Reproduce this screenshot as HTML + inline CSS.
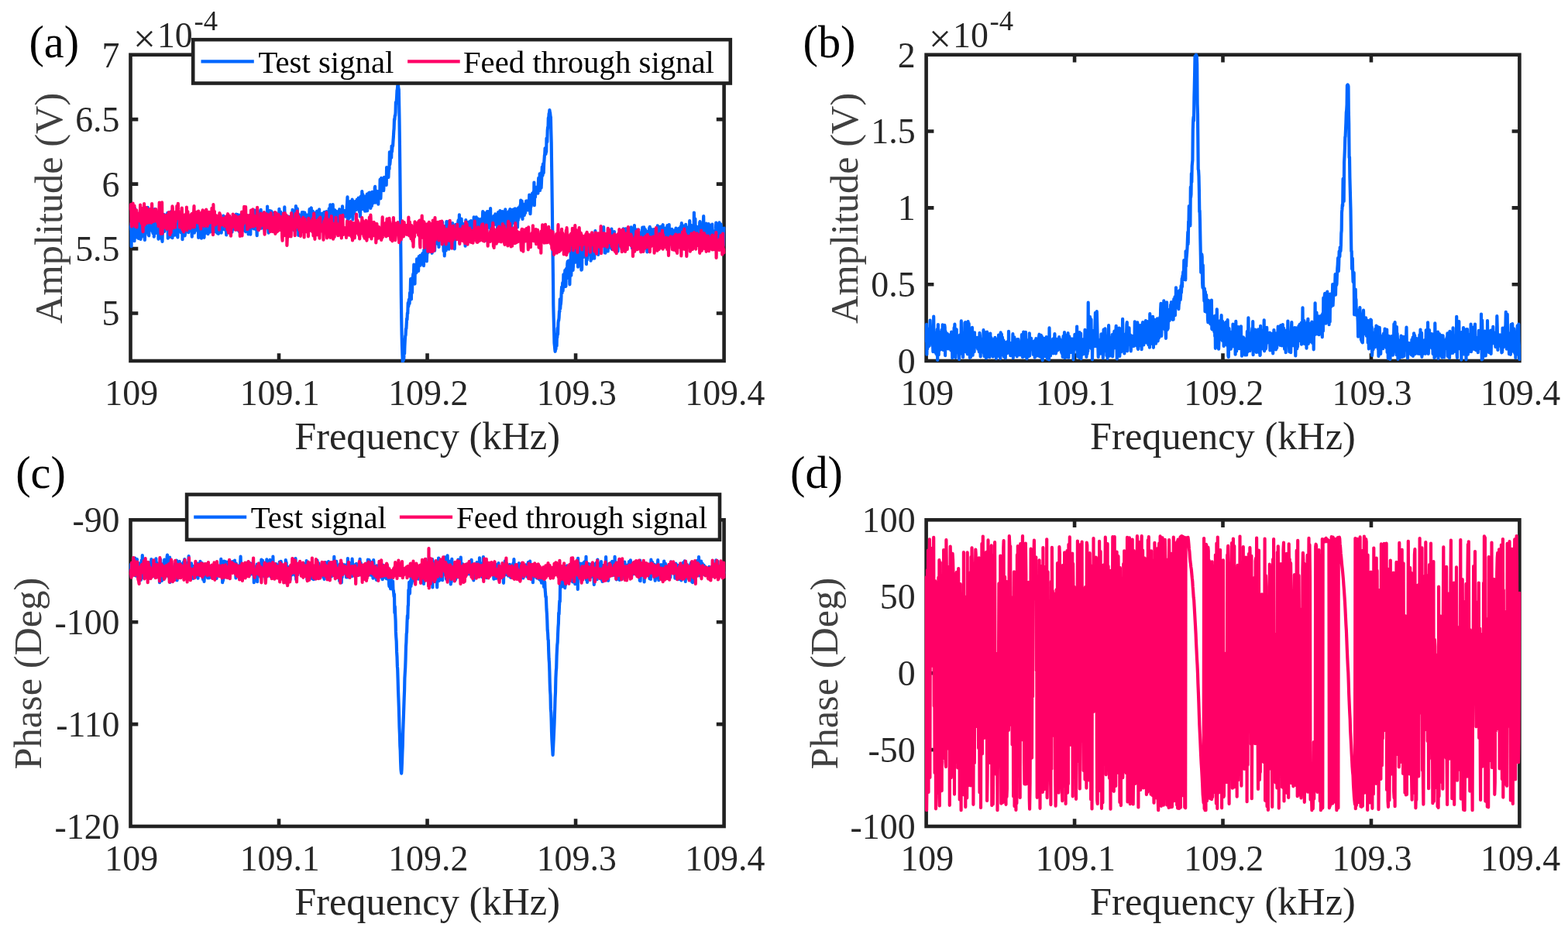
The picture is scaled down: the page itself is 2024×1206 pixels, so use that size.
<!DOCTYPE html>
<html lang="en"><head><meta charset="utf-8"><title>Frequency response: amplitude and phase</title>
<style>
html,body{margin:0;padding:0;background:#fff;}
body{width:2024px;height:1206px;overflow:hidden;font-family:"Liberation Serif","Times New Roman",serif;}
svg{display:block;}
</style></head>
<body>
<svg width="2024" height="1206" viewBox="0 0 2024 1206" font-family="'Liberation Serif','Times New Roman',serif">
<rect width="2024" height="1206" fill="#fff"/>
<defs>
<clipPath id="cpa"><rect x="166.40" y="68.60" width="770.30" height="399.50"/></clipPath>
<clipPath id="cpb"><rect x="1193.50" y="68.60" width="770.00" height="399.50"/></clipPath>
<clipPath id="cpc"><rect x="166.40" y="669.20" width="770.30" height="399.90"/></clipPath>
<clipPath id="cpd"><rect x="1193.50" y="669.20" width="770.00" height="399.90"/></clipPath>
</defs>
<g stroke="#212121" stroke-width="4.6" fill="none" stroke-linecap="butt">
<rect x="168.5" y="70.7" width="766.10" height="395.30"/>
<path d="M360.02,466.0v-9.8M360.02,70.7v9.8M551.55,466.0v-9.8M551.55,70.7v9.8M743.07,466.0v-9.8M743.07,70.7v9.8M168.5,404.57h9.8M934.6,404.57h-9.8M168.5,321.10h9.8M934.6,321.10h-9.8M168.5,237.63h9.8M934.6,237.63h-9.8M168.5,154.17h9.8M934.6,154.17h-9.8"/>
</g>
<polyline clip-path="url(#cpa)" points="168.5,292.4 168.9,296.3 169.3,288.6 169.6,318.2 170.0,286.4 170.4,299.1 170.8,277.5 171.2,310.5 171.6,290.6 171.9,301.6 172.3,302.7 172.7,295.0 173.1,293.7 173.5,311.1 173.9,298.9 174.2,269.0 174.6,297.8 175.0,280.5 175.4,306.5 175.8,293.1 176.2,273.2 176.5,287.9 176.9,301.8 177.3,306.7 177.7,289.4 178.1,296.3 178.5,295.6 178.8,308.0 179.2,281.7 179.6,306.1 180.0,294.2 180.4,293.1 180.8,282.8 181.1,297.1 181.5,309.0 181.9,291.6 182.3,296.1 182.7,306.0 183.1,299.0 183.4,291.6 183.8,286.8 184.2,284.1 184.6,282.2 185.0,285.6 185.4,299.7 185.7,292.6 186.1,295.3 186.5,300.9 186.9,309.9 187.3,295.6 187.7,286.4 188.0,300.1 188.4,286.3 188.8,296.7 189.2,290.5 189.6,293.4 190.0,282.3 190.3,296.1 190.7,267.8 191.1,288.9 191.5,303.3 191.9,294.6 192.2,304.3 192.6,294.1 193.0,297.9 193.4,278.2 193.8,281.6 194.2,285.6 194.5,295.8 194.9,290.1 195.3,293.9 195.7,272.2 196.1,287.4 196.5,289.0 196.8,299.3 197.2,299.3 197.6,301.2 198.0,291.8 198.4,280.9 198.8,305.7 199.1,301.1 199.5,298.9 199.9,269.8 200.3,282.7 200.7,283.7 201.1,294.4 201.4,300.8 201.8,279.8 202.2,299.9 202.6,290.4 203.0,287.9 203.4,294.4 203.7,278.5 204.1,287.4 204.5,308.6 204.9,285.9 205.3,305.0 205.7,304.3 206.0,290.8 206.4,280.9 206.8,288.5 207.2,293.1 207.6,292.7 208.0,292.6 208.3,293.6 208.7,309.1 209.1,282.9 209.5,311.9 209.9,295.0 210.3,280.1 210.6,286.4 211.0,298.1 211.4,276.8 211.8,280.0 212.2,298.9 212.6,292.6 212.9,292.3 213.3,293.9 213.7,292.4 214.1,290.7 214.5,279.6 214.8,290.9 215.2,276.9 215.6,295.8 216.0,293.6 216.4,274.9 216.8,307.6 217.1,297.1 217.5,296.4 217.9,288.6 218.3,287.5 218.7,301.9 219.1,289.3 219.4,303.6 219.8,306.0 220.2,288.6 220.6,273.4 221.0,286.4 221.4,296.8 221.7,296.5 222.1,290.7 222.5,307.1 222.9,294.3 223.3,298.0 223.7,290.0 224.0,287.9 224.4,303.7 224.8,280.3 225.2,299.0 225.6,303.6 226.0,289.2 226.3,289.7 226.7,292.7 227.1,287.4 227.5,285.4 227.9,286.0 228.3,288.4 228.6,294.9 229.0,303.8 229.4,306.5 229.8,285.9 230.2,293.0 230.6,283.6 230.9,289.7 231.3,296.2 231.7,295.4 232.1,288.1 232.5,292.9 232.9,290.9 233.2,281.3 233.6,300.3 234.0,289.7 234.4,288.7 234.8,291.5 235.2,288.0 235.5,309.2 235.9,286.7 236.3,291.3 236.7,289.3 237.1,278.7 237.4,292.7 237.8,291.1 238.2,294.2 238.6,304.4 239.0,301.7 239.4,298.7 239.7,292.0 240.1,292.0 240.5,289.3 240.9,286.7 241.3,285.0 241.7,293.4 242.0,284.6 242.4,295.2 242.8,292.9 243.2,300.1 243.6,279.1 244.0,286.9 244.3,282.5 244.7,295.0 245.1,287.8 245.5,296.5 245.9,297.5 246.3,288.8 246.6,295.1 247.0,284.0 247.4,297.1 247.8,305.7 248.2,287.8 248.6,287.6 248.9,297.9 249.3,278.9 249.7,285.9 250.1,278.4 250.5,288.5 250.9,300.6 251.2,287.6 251.6,291.7 252.0,290.0 252.4,287.6 252.8,290.8 253.2,292.9 253.5,297.3 253.9,281.3 254.3,281.1 254.7,289.8 255.1,290.5 255.5,291.4 255.8,291.3 256.2,306.9 256.6,293.9 257.0,281.2 257.4,288.3 257.8,281.9 258.1,293.5 258.5,304.3 258.9,286.2 259.3,281.0 259.7,286.1 260.0,307.7 260.4,292.8 260.8,285.2 261.2,300.6 261.6,293.4 262.0,296.8 262.3,279.7 262.7,299.9 263.1,287.3 263.5,306.8 263.9,293.1 264.3,280.0 264.6,301.6 265.0,281.7 265.4,283.4 265.8,286.7 266.2,279.5 266.6,289.6 266.9,287.0 267.3,298.8 267.7,295.2 268.1,286.7 268.5,302.1 268.9,287.0 269.2,279.9 269.6,295.3 270.0,296.1 270.4,287.0 270.8,285.0 271.2,299.7 271.5,292.3 271.9,286.9 272.3,290.0 272.7,286.5 273.1,288.4 273.5,287.5 273.8,291.6 274.2,279.8 274.6,291.8 275.0,287.5 275.4,292.7 275.8,288.5 276.1,297.8 276.5,289.5 276.9,281.7 277.3,292.1 277.7,294.0 278.1,297.5 278.4,299.3 278.8,295.5 279.2,294.7 279.6,287.8 280.0,289.1 280.4,301.0 280.7,280.7 281.1,295.3 281.5,286.7 281.9,302.0 282.3,300.6 282.6,283.0 283.0,286.6 283.4,289.5 283.8,281.6 284.2,284.4 284.6,296.6 284.9,299.2 285.3,284.4 285.7,300.6 286.1,282.2 286.5,288.2 286.9,292.3 287.2,286.8 287.6,289.8 288.0,290.2 288.4,278.5 288.8,286.3 289.2,286.7 289.5,296.4 289.9,283.3 290.3,284.7 290.7,293.7 291.1,293.2 291.5,281.4 291.8,290.1 292.2,303.4 292.6,279.4 293.0,293.3 293.4,285.3 293.8,282.6 294.1,283.7 294.5,291.2 294.9,294.5 295.3,279.7 295.7,299.6 296.1,284.4 296.4,285.2 296.8,288.5 297.2,294.8 297.6,281.2 298.0,285.9 298.4,291.0 298.7,286.8 299.1,297.2 299.5,299.7 299.9,288.8 300.3,290.1 300.7,284.0 301.0,285.0 301.4,296.2 301.8,285.3 302.2,288.5 302.6,293.5 303.0,285.0 303.3,287.1 303.7,289.0 304.1,295.1 304.5,291.5 304.9,276.7 305.2,291.2 305.6,295.3 306.0,291.5 306.4,289.6 306.8,277.0 307.2,297.5 307.5,293.1 307.9,278.9 308.3,284.7 308.7,292.6 309.1,299.5 309.5,294.5 309.8,278.6 310.2,277.7 310.6,291.1 311.0,282.8 311.4,287.7 311.8,282.4 312.1,291.9 312.5,284.6 312.9,290.4 313.3,287.1 313.7,290.0 314.1,280.9 314.4,274.7 314.8,297.3 315.2,283.9 315.6,286.7 316.0,293.9 316.4,278.4 316.7,298.6 317.1,299.3 317.5,283.3 317.9,294.3 318.3,291.1 318.7,282.1 319.0,289.4 319.4,299.0 319.8,292.9 320.2,288.7 320.6,302.4 321.0,296.2 321.3,280.1 321.7,288.4 322.1,278.0 322.5,286.8 322.9,284.5 323.3,302.7 323.6,284.8 324.0,293.4 324.4,294.3 324.8,279.1 325.2,278.3 325.6,286.2 325.9,287.1 326.3,280.4 326.7,293.4 327.1,271.2 327.5,295.4 327.8,288.4 328.2,295.4 328.6,285.9 329.0,271.6 329.4,283.0 329.8,283.3 330.1,274.8 330.5,296.5 330.9,286.4 331.3,293.1 331.7,304.1 332.1,280.3 332.4,271.0 332.8,283.6 333.2,297.0 333.6,276.6 334.0,294.0 334.4,281.3 334.7,282.4 335.1,287.7 335.5,279.4 335.9,287.2 336.3,283.5 336.7,270.8 337.0,294.8 337.4,281.4 337.8,292.1 338.2,287.9 338.6,290.3 339.0,276.2 339.3,294.4 339.7,281.3 340.1,281.7 340.5,282.6 340.9,293.5 341.3,280.9 341.6,288.0 342.0,277.8 342.4,282.2 342.8,281.1 343.2,289.6 343.6,285.4 343.9,278.4 344.3,286.7 344.7,294.7 345.1,266.5 345.5,293.8 345.9,287.1 346.2,295.2 346.6,300.7 347.0,292.9 347.4,281.9 347.8,275.3 348.2,272.0 348.5,282.3 348.9,273.6 349.3,297.0 349.7,292.4 350.1,272.6 350.4,279.8 350.8,289.0 351.2,289.9 351.6,282.3 352.0,280.9 352.4,274.9 352.7,286.0 353.1,282.6 353.5,286.0 353.9,279.2 354.3,279.7 354.7,289.9 355.0,279.0 355.4,300.5 355.8,284.8 356.2,289.7 356.6,297.5 357.0,293.2 357.3,293.8 357.7,288.7 358.1,284.4 358.5,290.6 358.9,283.1 359.3,277.2 359.6,291.6 360.0,294.3 360.4,269.8 360.8,284.8 361.2,289.2 361.6,289.9 361.9,283.2 362.3,273.7 362.7,278.1 363.1,282.3 363.5,286.3 363.9,291.3 364.2,292.7 364.6,281.2 365.0,287.3 365.4,282.2 365.8,277.9 366.2,275.3 366.5,288.1 366.9,295.6 367.3,267.3 367.7,293.5 368.1,284.9 368.5,286.5 368.8,277.6 369.2,278.2 369.6,278.6 370.0,287.0 370.4,279.0 370.8,279.6 371.1,288.8 371.5,281.9 371.9,283.4 372.3,279.6 372.7,291.2 373.0,290.8 373.4,281.3 373.8,292.8 374.2,286.7 374.6,290.2 375.0,289.8 375.3,290.7 375.7,281.8 376.1,284.7 376.5,278.1 376.9,283.8 377.3,283.1 377.6,270.8 378.0,273.9 378.4,286.3 378.8,283.9 379.2,276.3 379.6,297.4 379.9,285.7 380.3,286.9 380.7,293.1 381.1,285.0 381.5,296.9 381.9,266.1 382.2,284.7 382.6,284.0 383.0,294.8 383.4,282.7 383.8,269.4 384.2,285.7 384.5,277.1 384.9,276.0 385.3,304.0 385.7,286.9 386.1,285.9 386.5,289.1 386.8,294.2 387.2,289.3 387.6,296.3 388.0,281.3 388.4,279.7 388.8,277.2 389.1,285.8 389.5,289.7 389.9,274.2 390.3,284.7 390.7,280.9 391.1,275.5 391.4,289.9 391.8,274.1 392.2,275.4 392.6,281.9 393.0,284.3 393.4,274.7 393.7,289.1 394.1,289.7 394.5,277.0 394.9,289.8 395.3,283.5 395.6,287.3 396.0,285.4 396.4,277.5 396.8,279.4 397.2,285.3 397.6,284.3 397.9,282.7 398.3,282.3 398.7,284.4 399.1,284.9 399.5,270.2 399.9,283.0 400.2,281.5 400.6,293.1 401.0,287.3 401.4,269.0 401.8,268.4 402.2,283.6 402.5,293.1 402.9,275.2 403.3,288.2 403.7,272.5 404.1,283.0 404.5,285.5 404.8,283.3 405.2,274.4 405.6,284.0 406.0,280.7 406.4,291.3 406.8,282.6 407.1,283.7 407.5,281.0 407.9,284.1 408.3,281.3 408.7,284.1 409.1,272.7 409.4,283.3 409.8,273.5 410.2,279.6 410.6,286.8 411.0,291.5 411.4,276.4 411.7,281.2 412.1,270.3 412.5,283.7 412.9,275.8 413.3,287.7 413.7,283.3 414.0,285.8 414.4,282.3 414.8,280.2 415.2,284.4 415.6,280.4 416.0,275.6 416.3,289.2 416.7,280.6 417.1,284.8 417.5,284.7 417.9,275.5 418.2,279.5 418.6,273.9 419.0,281.6 419.4,279.6 419.8,284.3 420.2,277.4 420.5,280.1 420.9,282.1 421.3,273.1 421.7,290.6 422.1,286.8 422.5,287.9 422.8,279.2 423.2,280.0 423.6,277.7 424.0,279.9 424.4,278.8 424.8,269.3 425.1,280.0 425.5,279.7 425.9,283.7 426.3,264.4 426.7,285.9 427.1,278.2 427.4,283.2 427.8,289.6 428.2,282.7 428.6,286.8 429.0,284.2 429.4,277.0 429.7,264.2 430.1,276.4 430.5,270.5 430.9,274.4 431.3,288.1 431.7,273.6 432.0,277.4 432.4,271.4 432.8,275.5 433.2,280.6 433.6,283.5 434.0,278.0 434.3,272.9 434.7,276.6 435.1,273.8 435.5,274.1 435.9,285.1 436.3,281.2 436.6,289.9 437.0,279.4 437.4,284.3 437.8,274.0 438.2,270.2 438.6,280.7 438.9,278.6 439.3,272.6 439.7,281.4 440.1,271.1 440.5,293.9 440.8,280.3 441.2,274.9 441.6,288.5 442.0,266.4 442.4,279.3 442.8,276.3 443.1,276.2 443.5,275.7 443.9,277.8 444.3,274.6 444.7,272.1 445.1,272.9 445.4,276.1 445.8,279.6 446.2,279.5 446.6,279.1 447.0,275.1 447.4,273.9 447.7,267.6 448.1,261.9 448.5,254.4 448.9,284.9 449.3,270.6 449.7,263.5 450.0,275.1 450.4,267.9 450.8,281.8 451.2,269.7 451.6,274.3 452.0,260.0 452.3,279.4 452.7,260.8 453.1,269.1 453.5,278.1 453.9,278.5 454.3,269.7 454.6,257.7 455.0,258.7 455.4,283.4 455.8,270.6 456.2,263.8 456.6,270.4 456.9,272.9 457.3,275.4 457.7,260.3 458.1,270.9 458.5,260.2 458.9,268.2 459.2,264.6 459.6,270.9 460.0,269.2 460.4,264.9 460.8,257.6 461.2,268.3 461.5,265.4 461.9,267.9 462.3,266.3 462.7,255.7 463.1,268.5 463.4,270.5 463.8,272.9 464.2,273.9 464.6,267.8 465.0,279.6 465.4,255.8 465.7,253.5 466.1,264.6 466.5,261.8 466.9,268.0 467.3,247.0 467.7,259.8 468.0,270.0 468.4,251.0 468.8,268.7 469.2,264.4 469.6,262.9 470.0,254.2 470.3,270.1 470.7,260.6 471.1,272.7 471.5,271.9 471.9,270.7 472.3,253.4 472.6,264.9 473.0,268.2 473.4,272.3 473.8,250.5 474.2,272.2 474.6,262.7 474.9,260.3 475.3,257.1 475.7,260.2 476.1,249.1 476.5,255.0 476.9,248.7 477.2,258.7 477.6,250.9 478.0,265.3 478.4,268.8 478.8,260.2 479.2,259.5 479.5,261.6 479.9,266.0 480.3,247.8 480.7,249.0 481.1,261.9 481.5,262.2 481.8,249.2 482.2,257.0 482.6,261.4 483.0,259.8 483.4,253.9 483.8,242.2 484.1,240.9 484.5,261.7 484.9,247.2 485.3,246.2 485.7,250.8 486.0,253.2 486.4,248.4 486.8,253.7 487.2,250.7 487.6,252.8 488.0,248.3 488.3,263.7 488.7,246.8 489.1,254.9 489.5,249.7 489.9,256.0 490.3,252.0 490.6,231.8 491.0,238.1 491.4,256.3 491.8,244.6 492.2,229.8 492.6,237.8 492.9,242.8 493.3,233.8 493.7,240.4 494.1,233.4 494.5,233.9 494.9,233.3 495.2,246.1 495.6,238.1 496.0,228.8 496.4,231.7 496.8,232.8 497.2,238.7 497.5,234.8 497.9,234.6 498.3,232.0 498.7,239.0 499.1,216.2 499.5,217.7 499.8,222.9 500.2,219.3 500.6,219.3 501.0,224.0 501.4,229.0 501.8,217.9 502.1,217.8 502.5,218.1 502.9,196.3 503.3,212.2 503.7,208.3 504.1,199.9 504.4,198.9 504.8,203.8 505.2,203.5 505.6,188.5 506.0,195.8 506.4,190.6 506.7,188.1 507.1,188.4 507.5,181.6 507.9,176.5 508.3,169.2 508.6,166.0 509.0,153.9 509.4,154.6 509.8,149.2 510.2,149.4 510.6,144.8 510.9,132.0 511.3,133.2 511.7,131.7 512.1,125.6 512.5,117.0 512.9,115.1 513.2,110.8 513.6,108.7 514.0,109.9 514.4,113.8 514.8,115.4 515.2,137.0 515.5,153.7 515.9,182.6 516.3,217.1 516.7,257.9 517.1,299.1 517.5,339.8 517.8,379.6 518.2,409.6 518.6,431.9 519.0,447.2 519.4,458.2 519.8,467.9 520.1,466.0 520.5,465.3 520.9,464.9 521.3,462.6 521.7,451.3 522.1,456.6 522.4,447.6 522.8,439.3 523.2,433.8 523.6,432.8 524.0,424.3 524.4,424.3 524.7,418.9 525.1,411.4 525.5,412.7 525.9,404.2 526.3,404.8 526.7,391.0 527.0,396.3 527.4,394.7 527.8,386.8 528.2,387.2 528.6,391.9 529.0,378.2 529.3,382.6 529.7,375.9 530.1,360.1 530.5,369.6 530.9,386.4 531.2,366.9 531.6,372.3 532.0,378.0 532.4,358.6 532.8,360.4 533.2,354.4 533.5,353.1 533.9,355.3 534.3,341.5 534.7,350.1 535.1,365.0 535.5,366.5 535.8,347.8 536.2,353.3 536.6,345.6 537.0,351.1 537.4,352.3 537.8,349.3 538.1,334.4 538.5,338.9 538.9,341.6 539.3,336.2 539.7,337.2 540.1,349.9 540.4,338.2 540.8,331.1 541.2,333.0 541.6,331.9 542.0,330.9 542.4,330.0 542.7,342.6 543.1,333.1 543.5,336.0 543.9,333.2 544.3,331.9 544.7,334.4 545.0,328.6 545.4,327.2 545.8,335.7 546.2,337.8 546.6,336.5 547.0,343.2 547.3,322.8 547.7,328.4 548.1,323.2 548.5,329.0 548.9,318.1 549.3,325.3 549.6,323.5 550.0,319.4 550.4,301.7 550.8,337.3 551.2,328.0 551.5,319.8 551.9,325.8 552.3,316.3 552.7,325.9 553.1,324.5 553.5,310.3 553.8,313.6 554.2,323.6 554.6,314.8 555.0,316.6 555.4,310.6 555.8,322.1 556.1,323.6 556.5,310.4 556.9,318.9 557.3,322.8 557.7,326.8 558.1,311.9 558.4,319.9 558.8,314.7 559.2,309.9 559.6,299.1 560.0,313.6 560.4,308.3 560.7,308.8 561.1,323.7 561.5,310.2 561.9,309.2 562.3,306.5 562.7,311.2 563.0,305.3 563.4,309.0 563.8,297.5 564.2,294.0 564.6,302.6 565.0,314.0 565.3,315.1 565.7,291.1 566.1,312.9 566.5,319.0 566.9,308.7 567.3,310.5 567.6,310.3 568.0,306.3 568.4,302.5 568.8,309.6 569.2,287.5 569.6,303.8 569.9,302.3 570.3,294.8 570.7,287.3 571.1,287.0 571.5,313.7 571.9,312.0 572.2,307.8 572.6,324.1 573.0,304.6 573.4,308.1 573.8,330.4 574.1,292.1 574.5,303.6 574.9,307.1 575.3,313.8 575.7,323.5 576.1,310.2 576.4,286.1 576.8,308.0 577.2,312.1 577.6,303.9 578.0,309.0 578.4,308.5 578.7,286.0 579.1,316.3 579.5,321.6 579.9,290.5 580.3,286.9 580.7,296.0 581.0,319.7 581.4,298.2 581.8,299.5 582.2,317.3 582.6,307.5 583.0,319.6 583.3,293.0 583.7,295.2 584.1,288.2 584.5,297.7 584.9,299.1 585.3,297.5 585.6,296.9 586.0,313.4 586.4,313.2 586.8,321.3 587.2,304.5 587.6,299.7 587.9,301.0 588.3,289.9 588.7,295.3 589.1,298.5 589.5,302.1 589.9,290.7 590.2,303.6 590.6,302.9 591.0,291.7 591.4,285.6 591.8,284.0 592.2,299.7 592.5,300.5 592.9,277.3 593.3,299.8 593.7,292.8 594.1,290.9 594.5,287.6 594.8,297.7 595.2,295.4 595.6,282.6 596.0,291.5 596.4,309.3 596.7,303.9 597.1,291.6 597.5,293.6 597.9,302.3 598.3,299.0 598.7,300.6 599.0,289.0 599.4,298.5 599.8,300.3 600.2,300.6 600.6,317.7 601.0,294.3 601.3,284.1 601.7,292.0 602.1,293.4 602.5,296.7 602.9,302.7 603.3,292.7 603.6,305.9 604.0,287.1 604.4,292.7 604.8,295.0 605.2,295.2 605.6,293.4 605.9,311.9 606.3,286.0 606.7,308.3 607.1,290.0 607.5,291.4 607.9,285.1 608.2,298.4 608.6,290.2 609.0,306.4 609.4,302.7 609.8,287.2 610.2,295.0 610.5,305.6 610.9,287.9 611.3,304.3 611.7,280.4 612.1,301.0 612.5,286.9 612.8,295.8 613.2,307.0 613.6,293.9 614.0,296.9 614.4,295.4 614.8,280.3 615.1,290.4 615.5,286.9 615.9,299.6 616.3,290.4 616.7,293.7 617.1,285.0 617.4,282.5 617.8,287.4 618.2,307.6 618.6,299.8 619.0,309.9 619.3,298.2 619.7,300.1 620.1,291.6 620.5,290.9 620.9,292.1 621.3,282.6 621.6,296.0 622.0,284.9 622.4,287.9 622.8,286.3 623.2,273.2 623.6,282.9 623.9,273.8 624.3,297.6 624.7,290.7 625.1,280.8 625.5,289.8 625.9,286.9 626.2,295.8 626.6,287.2 627.0,275.2 627.4,288.2 627.8,286.5 628.2,310.7 628.5,278.9 628.9,273.0 629.3,279.1 629.7,292.1 630.1,273.1 630.5,291.4 630.8,289.2 631.2,293.7 631.6,288.9 632.0,284.0 632.4,281.0 632.8,282.5 633.1,269.0 633.5,297.2 633.9,297.8 634.3,288.3 634.7,294.5 635.1,294.4 635.4,301.1 635.8,295.0 636.2,288.8 636.6,285.6 637.0,288.4 637.4,278.8 637.7,281.6 638.1,284.7 638.5,289.8 638.9,282.0 639.3,276.3 639.7,284.0 640.0,281.8 640.4,283.1 640.8,285.2 641.2,277.4 641.6,284.1 641.9,289.8 642.3,300.8 642.7,286.4 643.1,274.1 643.5,300.2 643.9,293.9 644.2,279.9 644.6,290.1 645.0,295.5 645.4,272.1 645.8,285.7 646.2,279.1 646.5,296.2 646.9,294.0 647.3,273.4 647.7,283.2 648.1,284.9 648.5,303.8 648.8,273.2 649.2,273.9 649.6,279.4 650.0,291.9 650.4,280.6 650.8,283.8 651.1,292.6 651.5,282.7 651.9,295.7 652.3,270.4 652.7,276.9 653.1,278.9 653.4,292.0 653.8,282.1 654.2,288.3 654.6,279.3 655.0,282.5 655.4,285.3 655.7,275.9 656.1,284.6 656.5,273.4 656.9,284.6 657.3,285.9 657.7,272.1 658.0,278.9 658.4,270.1 658.8,288.7 659.2,299.1 659.6,277.7 660.0,279.0 660.3,292.5 660.7,274.7 661.1,275.7 661.5,270.9 661.9,283.3 662.3,276.4 662.6,287.8 663.0,270.4 663.4,280.0 663.8,272.6 664.2,275.8 664.5,276.6 664.9,269.4 665.3,286.7 665.7,271.7 666.1,270.0 666.5,274.5 666.8,283.7 667.2,273.6 667.6,275.6 668.0,293.4 668.4,281.5 668.8,284.5 669.1,268.4 669.5,281.9 669.9,270.0 670.3,271.1 670.7,274.6 671.1,277.6 671.4,265.3 671.8,274.3 672.2,258.5 672.6,272.2 673.0,274.9 673.4,279.6 673.7,259.5 674.1,269.4 674.5,282.9 674.9,263.3 675.3,271.8 675.7,274.1 676.0,268.6 676.4,273.5 676.8,277.9 677.2,269.2 677.6,263.6 678.0,275.0 678.3,271.9 678.7,267.6 679.1,259.5 679.5,265.3 679.9,259.4 680.3,269.2 680.6,265.9 681.0,267.1 681.4,271.4 681.8,264.8 682.2,267.8 682.6,262.1 682.9,261.9 683.3,251.6 683.7,270.4 684.1,263.6 684.5,276.2 684.9,266.4 685.2,264.1 685.6,266.7 686.0,256.1 686.4,254.3 686.8,253.9 687.1,249.7 687.5,263.3 687.9,262.6 688.3,254.3 688.7,247.6 689.1,262.2 689.4,235.7 689.8,265.2 690.2,251.1 690.6,246.7 691.0,254.5 691.4,242.8 691.7,244.8 692.1,241.8 692.5,247.1 692.9,248.4 693.3,245.1 693.7,243.5 694.0,247.3 694.4,249.6 694.8,237.5 695.2,229.9 695.6,243.8 696.0,229.7 696.3,237.8 696.7,224.3 697.1,245.9 697.5,228.8 697.9,229.8 698.3,223.3 698.6,242.6 699.0,234.6 699.4,224.4 699.8,215.5 700.2,227.0 700.6,225.8 700.9,211.8 701.3,222.7 701.7,223.3 702.1,211.8 702.5,206.3 702.9,200.6 703.2,199.4 703.6,191.3 704.0,196.6 704.4,199.0 704.8,196.5 705.2,196.3 705.5,178.6 705.9,179.1 706.3,183.1 706.7,168.4 707.1,164.2 707.5,164.8 707.8,152.2 708.2,154.8 708.6,146.6 709.0,146.7 709.4,142.0 709.7,144.2 710.1,145.7 710.5,149.8 710.9,151.4 711.3,169.1 711.7,183.9 712.0,206.7 712.4,233.4 712.8,264.9 713.2,298.3 713.6,329.2 714.0,362.2 714.3,393.9 714.7,410.7 715.1,426.0 715.5,443.1 715.9,446.7 716.3,451.2 716.6,453.8 717.0,451.3 717.4,450.9 717.8,447.7 718.2,440.0 718.6,446.6 718.9,431.7 719.3,435.7 719.7,423.7 720.1,431.8 720.5,417.0 720.9,413.5 721.2,413.8 721.6,410.3 722.0,401.6 722.4,402.4 722.8,386.4 723.2,398.7 723.5,393.9 723.9,392.4 724.3,387.8 724.7,377.0 725.1,370.6 725.5,378.4 725.8,376.1 726.2,365.0 726.6,375.6 727.0,369.0 727.4,354.3 727.8,370.4 728.1,365.1 728.5,361.9 728.9,358.0 729.3,349.0 729.7,357.2 730.1,361.2 730.4,369.8 730.8,347.1 731.2,350.8 731.6,354.3 732.0,352.9 732.3,340.7 732.7,337.7 733.1,344.3 733.5,336.9 733.9,359.2 734.3,355.6 734.6,336.7 735.0,353.2 735.4,367.3 735.8,345.1 736.2,348.7 736.6,346.3 736.9,315.7 737.3,355.6 737.7,340.9 738.1,347.8 738.5,332.2 738.9,322.1 739.2,332.4 739.6,348.8 740.0,342.7 740.4,325.2 740.8,321.8 741.2,333.2 741.5,317.6 741.9,337.7 742.3,330.7 742.7,338.6 743.1,337.9 743.5,329.4 743.8,325.5 744.2,329.3 744.6,319.2 745.0,331.8 745.4,334.9 745.8,331.4 746.1,344.7 746.5,320.9 746.9,329.4 747.3,322.0 747.7,317.8 748.1,332.9 748.4,306.3 748.8,320.3 749.2,316.7 749.6,333.5 750.0,325.1 750.4,348.6 750.7,332.1 751.1,347.9 751.5,312.4 751.9,322.1 752.3,322.8 752.7,323.0 753.0,320.4 753.4,332.0 753.8,315.2 754.2,316.1 754.6,308.1 754.9,330.5 755.3,312.7 755.7,308.0 756.1,325.8 756.5,306.9 756.9,341.1 757.2,318.7 757.6,324.0 758.0,335.4 758.4,322.3 758.8,305.2 759.2,314.7 759.5,317.1 759.9,328.6 760.3,324.2 760.7,324.4 761.1,324.3 761.5,320.0 761.8,317.7 762.2,317.6 762.6,336.6 763.0,317.6 763.4,334.0 763.8,309.1 764.1,312.2 764.5,333.9 764.9,310.5 765.3,308.7 765.7,319.0 766.1,320.6 766.4,305.9 766.8,311.5 767.2,333.6 767.6,303.9 768.0,325.2 768.4,298.1 768.7,318.0 769.1,308.2 769.5,313.9 769.9,302.3 770.3,318.0 770.7,320.1 771.0,318.8 771.4,308.7 771.8,303.9 772.2,329.0 772.6,314.9 773.0,313.9 773.3,306.2 773.7,323.5 774.1,312.6 774.5,313.8 774.9,309.7 775.3,309.6 775.6,320.5 776.0,296.7 776.4,316.0 776.8,308.7 777.2,311.8 777.5,316.6 777.9,315.0 778.3,308.1 778.7,309.5 779.1,293.0 779.5,309.7 779.8,312.3 780.2,306.4 780.6,326.4 781.0,310.6 781.4,326.6 781.8,315.9 782.1,316.1 782.5,320.0 782.9,313.7 783.3,308.3 783.7,318.7 784.1,314.4 784.4,312.6 784.8,324.4 785.2,300.4 785.6,315.7 786.0,311.5 786.4,318.1 786.7,317.8 787.1,310.3 787.5,308.5 787.9,313.8 788.3,319.5 788.7,304.0 789.0,310.3 789.4,295.6 789.8,321.8 790.2,306.6 790.6,312.8 791.0,306.4 791.3,311.0 791.7,319.0 792.1,310.3 792.5,309.5 792.9,299.1 793.3,313.0 793.6,314.2 794.0,310.3 794.4,320.4 794.8,312.7 795.2,311.3 795.6,309.1 795.9,314.8 796.3,321.0 796.7,307.5 797.1,315.6 797.5,324.5 797.9,310.4 798.2,314.3 798.6,313.6 799.0,301.8 799.4,314.3 799.8,303.5 800.1,305.6 800.5,310.5 800.9,315.1 801.3,298.2 801.7,310.3 802.1,305.4 802.4,321.4 802.8,310.7 803.2,306.3 803.6,317.6 804.0,308.7 804.4,316.7 804.7,295.3 805.1,309.1 805.5,314.8 805.9,315.2 806.3,319.3 806.7,316.9 807.0,315.6 807.4,309.8 807.8,295.3 808.2,307.6 808.6,302.0 809.0,311.6 809.3,316.4 809.7,310.7 810.1,298.1 810.5,304.6 810.9,312.3 811.3,305.5 811.6,305.3 812.0,300.4 812.4,315.2 812.8,297.9 813.2,315.6 813.6,303.7 813.9,297.5 814.3,307.5 814.7,293.4 815.1,297.9 815.5,313.7 815.9,320.3 816.2,315.1 816.6,316.4 817.0,303.3 817.4,306.5 817.8,302.2 818.2,311.3 818.5,299.3 818.9,291.0 819.3,303.7 819.7,318.7 820.1,303.7 820.5,299.4 820.8,296.3 821.2,309.9 821.6,312.7 822.0,306.4 822.4,305.9 822.7,296.6 823.1,309.7 823.5,303.9 823.9,306.4 824.3,296.6 824.7,306.0 825.0,302.4 825.4,308.0 825.8,304.4 826.2,300.3 826.6,320.8 827.0,307.3 827.3,311.4 827.7,312.2 828.1,304.6 828.5,304.6 828.9,299.5 829.3,293.6 829.6,312.7 830.0,308.1 830.4,301.7 830.8,304.7 831.2,293.4 831.6,311.6 831.9,301.7 832.3,312.5 832.7,298.1 833.1,296.3 833.5,304.3 833.9,304.0 834.2,320.7 834.6,310.7 835.0,309.1 835.4,325.5 835.8,309.3 836.2,306.2 836.5,298.8 836.9,315.0 837.3,298.7 837.7,304.9 838.1,294.5 838.5,294.1 838.8,292.8 839.2,301.3 839.6,307.4 840.0,295.4 840.4,305.6 840.8,307.1 841.1,308.1 841.5,304.7 841.9,300.5 842.3,296.7 842.7,307.7 843.1,299.3 843.4,317.2 843.8,306.8 844.2,296.2 844.6,306.8 845.0,308.2 845.3,309.5 845.7,309.2 846.1,312.1 846.5,319.8 846.9,307.6 847.3,310.8 847.6,317.3 848.0,301.5 848.4,311.5 848.8,291.3 849.2,318.7 849.6,303.3 849.9,292.7 850.3,296.6 850.7,317.7 851.1,302.5 851.5,301.9 851.9,298.6 852.2,305.0 852.6,301.0 853.0,292.6 853.4,306.5 853.8,298.8 854.2,315.1 854.5,307.3 854.9,307.9 855.3,291.8 855.7,290.2 856.1,312.3 856.5,302.6 856.8,306.3 857.2,300.6 857.6,308.8 858.0,302.1 858.4,303.5 858.8,297.2 859.1,317.2 859.5,294.3 859.9,306.7 860.3,313.4 860.7,299.4 861.1,306.7 861.4,291.0 861.8,311.5 862.2,304.5 862.6,296.3 863.0,307.2 863.4,308.0 863.7,290.0 864.1,303.1 864.5,304.2 864.9,307.7 865.3,303.6 865.7,306.3 866.0,305.0 866.4,306.0 866.8,308.3 867.2,295.8 867.6,313.8 867.9,320.1 868.3,300.9 868.7,303.2 869.1,311.4 869.5,306.7 869.9,297.6 870.2,298.1 870.6,307.9 871.0,304.0 871.4,300.2 871.8,312.3 872.2,301.6 872.5,294.5 872.9,300.9 873.3,297.4 873.7,295.3 874.1,301.2 874.5,306.4 874.8,300.4 875.2,299.8 875.6,306.0 876.0,303.2 876.4,307.8 876.8,294.5 877.1,310.6 877.5,307.8 877.9,306.9 878.3,297.1 878.7,292.3 879.1,308.3 879.4,302.5 879.8,288.2 880.2,307.2 880.6,312.7 881.0,302.9 881.4,306.9 881.7,295.6 882.1,298.2 882.5,291.6 882.9,303.9 883.3,312.6 883.7,302.8 884.0,294.3 884.4,315.6 884.8,302.2 885.2,289.8 885.6,309.8 886.0,295.9 886.3,314.8 886.7,299.9 887.1,299.7 887.5,302.1 887.9,297.6 888.3,300.7 888.6,293.4 889.0,306.0 889.4,292.8 889.8,315.1 890.2,285.2 890.5,293.9 890.9,292.6 891.3,300.6 891.7,304.0 892.1,304.5 892.5,291.0 892.8,294.9 893.2,297.1 893.6,309.9 894.0,300.4 894.4,300.9 894.8,302.7 895.1,305.4 895.5,311.4 895.9,274.5 896.3,297.8 896.7,291.0 897.1,316.3 897.4,282.7 897.8,312.5 898.2,297.7 898.6,302.1 899.0,296.1 899.4,300.4 899.7,292.8 900.1,310.2 900.5,302.5 900.9,300.7 901.3,314.1 901.7,314.9 902.0,307.8 902.4,295.7 902.8,300.5 903.2,287.1 903.6,286.2 904.0,306.5 904.3,300.1 904.7,307.0 905.1,299.4 905.5,303.6 905.9,312.1 906.3,307.3 906.6,296.8 907.0,304.8 907.4,309.7 907.8,288.5 908.2,279.1 908.6,303.2 908.9,293.0 909.3,293.4 909.7,298.5 910.1,314.7 910.5,302.1 910.9,295.7 911.2,302.6 911.6,288.6 912.0,301.6 912.4,301.0 912.8,307.2 913.1,302.0 913.5,300.1 913.9,301.2 914.3,295.4 914.7,289.1 915.1,291.4 915.4,290.3 915.8,301.1 916.2,315.7 916.6,309.9 917.0,307.0 917.4,300.4 917.7,312.0 918.1,296.9 918.5,302.9 918.9,295.9 919.3,289.5 919.7,309.3 920.0,297.8 920.4,312.2 920.8,303.6 921.2,298.9 921.6,301.7 922.0,310.8 922.3,299.2 922.7,300.8 923.1,305.9 923.5,300.0 923.9,295.9 924.3,287.5 924.6,302.2 925.0,298.9 925.4,316.4 925.8,301.4 926.2,301.0 926.6,292.9 926.9,301.2 927.3,294.4 927.7,310.0 928.1,293.8 928.5,287.3 928.9,301.1 929.2,304.9 929.6,291.3 930.0,300.6 930.4,289.3 930.8,290.7 931.2,302.8 931.5,295.1 931.9,306.2 932.3,320.0 932.7,306.6 933.1,306.9 933.5,310.3 933.8,316.8 934.2,300.4 934.6,294.6" fill="none" stroke="#0066ff" stroke-width="4.17" stroke-linejoin="round" stroke-linecap="round"/>
<polyline clip-path="url(#cpa)" points="168.5,269.8 168.9,264.1 169.3,268.7 169.6,288.5 170.0,292.4 170.4,278.8 170.8,271.4 171.2,274.7 171.6,262.6 171.9,272.5 172.3,273.6 172.7,286.3 173.1,289.9 173.5,265.7 173.9,279.1 174.2,272.0 174.6,292.4 175.0,283.7 175.4,291.6 175.8,286.9 176.2,271.3 176.5,293.4 176.9,284.6 177.3,278.2 177.7,285.9 178.1,282.1 178.5,281.8 178.8,275.9 179.2,283.8 179.6,277.3 180.0,279.3 180.4,275.9 180.8,277.8 181.1,264.6 181.5,286.0 181.9,268.8 182.3,283.6 182.7,288.7 183.1,268.8 183.4,284.0 183.8,283.5 184.2,292.7 184.6,299.2 185.0,274.2 185.4,290.7 185.7,272.9 186.1,263.2 186.5,281.1 186.9,290.3 187.3,276.5 187.7,273.2 188.0,282.5 188.4,280.0 188.8,268.1 189.2,268.7 189.6,273.8 190.0,288.0 190.3,280.7 190.7,274.8 191.1,282.1 191.5,285.7 191.9,287.1 192.2,285.9 192.6,286.3 193.0,284.3 193.4,270.1 193.8,287.5 194.2,272.5 194.5,276.7 194.9,279.1 195.3,287.7 195.7,284.5 196.1,263.0 196.5,279.6 196.8,275.7 197.2,274.6 197.6,271.2 198.0,282.6 198.4,285.9 198.8,281.1 199.1,282.8 199.5,273.7 199.9,278.9 200.3,278.5 200.7,279.3 201.1,270.0 201.4,285.3 201.8,284.8 202.2,273.0 202.6,281.6 203.0,277.6 203.4,287.0 203.7,280.5 204.1,277.0 204.5,292.1 204.9,286.7 205.3,277.2 205.7,261.6 206.0,276.9 206.4,281.3 206.8,288.0 207.2,277.5 207.6,302.0 208.0,281.3 208.3,283.7 208.7,285.3 209.1,261.4 209.5,301.7 209.9,281.1 210.3,280.4 210.6,277.1 211.0,294.4 211.4,284.9 211.8,293.5 212.2,282.1 212.6,279.4 212.9,279.7 213.3,282.7 213.7,279.6 214.1,279.7 214.5,277.8 214.8,280.9 215.2,295.8 215.6,287.8 216.0,278.4 216.4,288.6 216.8,287.7 217.1,280.3 217.5,281.6 217.9,274.0 218.3,277.1 218.7,284.8 219.1,280.4 219.4,303.1 219.8,287.8 220.2,282.5 220.6,300.5 221.0,284.0 221.4,279.4 221.7,273.1 222.1,278.2 222.5,266.4 222.9,269.3 223.3,294.5 223.7,283.3 224.0,282.7 224.4,280.8 224.8,286.1 225.2,276.7 225.6,275.7 226.0,293.6 226.3,274.1 226.7,286.7 227.1,273.3 227.5,277.2 227.9,282.7 228.3,266.1 228.6,274.7 229.0,281.4 229.4,279.8 229.8,262.9 230.2,270.7 230.6,274.4 230.9,280.1 231.3,277.4 231.7,280.6 232.1,293.6 232.5,275.0 232.9,278.6 233.2,292.2 233.6,286.8 234.0,283.8 234.4,279.4 234.8,268.7 235.2,281.8 235.5,296.8 235.9,277.0 236.3,283.3 236.7,295.3 237.1,299.4 237.4,290.1 237.8,279.2 238.2,287.8 238.6,277.5 239.0,284.2 239.4,280.7 239.7,276.8 240.1,277.7 240.5,290.1 240.9,267.6 241.3,297.1 241.7,283.6 242.0,289.9 242.4,273.3 242.8,292.1 243.2,290.0 243.6,290.8 244.0,292.6 244.3,286.6 244.7,280.9 245.1,289.5 245.5,295.0 245.9,284.4 246.3,282.7 246.6,277.2 247.0,288.5 247.4,283.9 247.8,275.8 248.2,289.9 248.6,283.3 248.9,285.2 249.3,293.3 249.7,283.4 250.1,274.3 250.5,266.0 250.9,293.3 251.2,275.7 251.6,274.4 252.0,273.7 252.4,285.9 252.8,280.3 253.2,287.2 253.5,278.6 253.9,273.9 254.3,284.5 254.7,281.1 255.1,276.4 255.5,277.5 255.8,287.6 256.2,272.7 256.6,279.3 257.0,281.7 257.4,282.5 257.8,277.7 258.1,275.3 258.5,292.1 258.9,289.2 259.3,295.5 259.7,279.7 260.0,280.1 260.4,285.5 260.8,290.9 261.2,273.4 261.6,271.3 262.0,271.5 262.3,282.6 262.7,282.0 263.1,282.0 263.5,284.0 263.9,292.0 264.3,287.5 264.6,277.1 265.0,283.1 265.4,286.6 265.8,285.0 266.2,270.5 266.6,272.4 266.9,275.2 267.3,282.0 267.7,292.0 268.1,281.9 268.5,285.6 268.9,278.8 269.2,275.9 269.6,288.3 270.0,273.9 270.4,283.0 270.8,282.8 271.2,287.5 271.5,284.8 271.9,282.8 272.3,285.0 272.7,285.9 273.1,286.4 273.5,268.9 273.8,285.1 274.2,278.2 274.6,283.1 275.0,303.2 275.4,264.2 275.8,283.8 276.1,287.8 276.5,274.3 276.9,273.1 277.3,288.0 277.7,289.9 278.1,290.3 278.4,281.4 278.8,282.8 279.2,278.3 279.6,284.8 280.0,287.7 280.4,283.2 280.7,288.2 281.1,279.3 281.5,281.1 281.9,280.1 282.3,280.9 282.6,287.2 283.0,296.6 283.4,275.1 283.8,276.5 284.2,289.6 284.6,277.8 284.9,283.2 285.3,284.9 285.7,284.4 286.1,290.4 286.5,285.4 286.9,284.1 287.2,283.0 287.6,289.0 288.0,281.8 288.4,288.7 288.8,288.2 289.2,284.0 289.5,288.0 289.9,292.1 290.3,288.5 290.7,289.8 291.1,283.8 291.5,279.9 291.8,280.6 292.2,289.7 292.6,287.4 293.0,283.0 293.4,296.6 293.8,278.8 294.1,276.2 294.5,280.0 294.9,300.7 295.3,283.1 295.7,298.4 296.1,278.5 296.4,300.8 296.8,295.4 297.2,282.6 297.6,295.5 298.0,304.6 298.4,293.1 298.7,282.1 299.1,293.9 299.5,293.3 299.9,284.2 300.3,285.4 300.7,276.5 301.0,279.3 301.4,287.9 301.8,290.6 302.2,277.8 302.6,290.5 303.0,293.5 303.3,282.3 303.7,290.0 304.1,296.8 304.5,281.3 304.9,279.2 305.2,294.4 305.6,288.4 306.0,289.2 306.4,287.0 306.8,289.0 307.2,296.7 307.5,285.6 307.9,288.2 308.3,284.9 308.7,281.1 309.1,280.0 309.5,282.8 309.8,304.9 310.2,293.4 310.6,285.3 311.0,280.1 311.4,293.4 311.8,291.7 312.1,273.6 312.5,304.5 312.9,288.5 313.3,291.0 313.7,289.1 314.1,288.8 314.4,281.6 314.8,279.4 315.2,266.9 315.6,273.3 316.0,286.7 316.4,284.5 316.7,278.7 317.1,267.1 317.5,287.7 317.9,283.4 318.3,287.7 318.7,277.8 319.0,296.2 319.4,285.4 319.8,296.0 320.2,284.5 320.6,280.7 321.0,289.4 321.3,288.2 321.7,278.4 322.1,287.3 322.5,282.5 322.9,288.4 323.3,293.4 323.6,289.7 324.0,271.6 324.4,288.8 324.8,286.3 325.2,278.1 325.6,284.1 325.9,282.9 326.3,270.3 326.7,280.2 327.1,292.6 327.5,281.9 327.8,291.2 328.2,289.4 328.6,279.2 329.0,286.5 329.4,289.1 329.8,291.1 330.1,286.0 330.5,289.0 330.9,280.1 331.3,285.7 331.7,288.3 332.1,267.9 332.4,284.9 332.8,292.4 333.2,296.2 333.6,295.4 334.0,297.2 334.4,288.0 334.7,287.6 335.1,283.1 335.5,294.7 335.9,290.9 336.3,291.7 336.7,275.7 337.0,286.6 337.4,284.4 337.8,279.6 338.2,286.0 338.6,288.1 339.0,290.8 339.3,289.8 339.7,288.0 340.1,289.5 340.5,289.5 340.9,274.1 341.3,297.4 341.6,302.7 342.0,285.2 342.4,278.0 342.8,289.9 343.2,281.9 343.6,276.1 343.9,289.6 344.3,286.5 344.7,293.9 345.1,292.6 345.5,291.0 345.9,282.8 346.2,277.4 346.6,283.2 347.0,294.4 347.4,293.8 347.8,290.8 348.2,288.1 348.5,284.0 348.9,299.1 349.3,295.9 349.7,275.2 350.1,284.8 350.4,285.2 350.8,298.5 351.2,280.7 351.6,284.3 352.0,299.1 352.4,297.4 352.7,283.6 353.1,298.2 353.5,283.8 353.9,292.4 354.3,283.3 354.7,281.4 355.0,274.2 355.4,302.0 355.8,299.8 356.2,289.3 356.6,275.2 357.0,284.5 357.3,299.4 357.7,281.3 358.1,289.3 358.5,278.1 358.9,298.3 359.3,281.0 359.6,277.1 360.0,297.2 360.4,287.5 360.8,284.9 361.2,287.0 361.6,296.5 361.9,279.8 362.3,297.1 362.7,288.1 363.1,284.4 363.5,285.6 363.9,283.4 364.2,306.2 364.6,310.7 365.0,286.9 365.4,285.9 365.8,275.6 366.2,291.5 366.5,290.9 366.9,304.1 367.3,285.4 367.7,275.1 368.1,293.4 368.5,284.8 368.8,277.5 369.2,277.6 369.6,280.1 370.0,279.2 370.4,317.0 370.8,308.3 371.1,285.9 371.5,306.5 371.9,280.0 372.3,295.4 372.7,305.2 373.0,281.2 373.4,296.1 373.8,299.3 374.2,282.8 374.6,292.1 375.0,301.4 375.3,300.2 375.7,305.3 376.1,275.2 376.5,278.2 376.9,289.9 377.3,296.4 377.6,286.1 378.0,292.1 378.4,283.6 378.8,285.0 379.2,290.0 379.6,292.8 379.9,285.5 380.3,290.5 380.7,304.2 381.1,288.3 381.5,276.2 381.9,293.6 382.2,288.6 382.6,293.4 383.0,288.6 383.4,293.1 383.8,272.6 384.2,287.3 384.5,290.6 384.9,288.5 385.3,290.1 385.7,279.9 386.1,296.2 386.5,297.0 386.8,286.9 387.2,292.6 387.6,295.7 388.0,304.8 388.4,291.3 388.8,295.4 389.1,283.3 389.5,299.2 389.9,288.2 390.3,291.6 390.7,296.2 391.1,282.0 391.4,280.7 391.8,293.5 392.2,292.8 392.6,306.5 393.0,284.7 393.4,292.4 393.7,283.0 394.1,294.4 394.5,287.4 394.9,288.1 395.3,287.7 395.6,294.5 396.0,296.1 396.4,299.5 396.8,290.1 397.2,297.6 397.6,287.9 397.9,305.3 398.3,281.9 398.7,287.9 399.1,291.2 399.5,297.4 399.9,297.7 400.2,295.2 400.6,287.2 401.0,290.4 401.4,289.0 401.8,285.4 402.2,287.4 402.5,286.0 402.9,292.4 403.3,299.5 403.7,282.1 404.1,282.7 404.5,304.4 404.8,293.8 405.2,275.5 405.6,283.0 406.0,284.7 406.4,308.8 406.8,295.0 407.1,297.9 407.5,293.1 407.9,293.1 408.3,285.0 408.7,296.3 409.1,294.1 409.4,299.3 409.8,303.3 410.2,290.1 410.6,284.9 411.0,293.0 411.4,282.7 411.7,295.9 412.1,289.1 412.5,307.6 412.9,290.4 413.3,280.5 413.7,298.2 414.0,289.6 414.4,290.3 414.8,295.5 415.2,291.6 415.6,294.7 416.0,298.5 416.3,293.6 416.7,295.6 417.1,292.8 417.5,309.6 417.9,296.5 418.2,285.8 418.6,288.7 419.0,284.9 419.4,294.1 419.8,286.2 420.2,281.9 420.5,297.0 420.9,294.4 421.3,274.4 421.7,297.0 422.1,307.3 422.5,282.4 422.8,292.5 423.2,304.4 423.6,302.9 424.0,291.1 424.4,303.9 424.8,299.6 425.1,304.3 425.5,293.2 425.9,294.3 426.3,306.9 426.7,283.0 427.1,301.2 427.4,297.1 427.8,279.0 428.2,295.6 428.6,298.0 429.0,298.3 429.4,288.3 429.7,298.4 430.1,308.7 430.5,303.8 430.9,299.0 431.3,295.6 431.7,306.0 432.0,293.5 432.4,298.1 432.8,302.2 433.2,296.6 433.6,280.9 434.0,297.2 434.3,295.7 434.7,288.5 435.1,296.2 435.5,291.3 435.9,291.7 436.3,304.1 436.6,290.9 437.0,299.5 437.4,297.6 437.8,295.2 438.2,303.4 438.6,289.6 438.9,289.0 439.3,278.7 439.7,298.7 440.1,297.5 440.5,282.5 440.8,307.4 441.2,299.4 441.6,284.2 442.0,301.0 442.4,277.8 442.8,298.5 443.1,302.9 443.5,294.8 443.9,295.0 444.3,298.9 444.7,298.6 445.1,294.3 445.4,298.5 445.8,302.4 446.2,295.2 446.6,296.1 447.0,306.9 447.4,293.1 447.7,296.2 448.1,285.6 448.5,298.9 448.9,303.2 449.3,301.3 449.7,286.7 450.0,291.6 450.4,296.0 450.8,303.7 451.2,299.5 451.6,295.4 452.0,291.4 452.3,298.7 452.7,286.2 453.1,297.5 453.5,286.9 453.9,306.0 454.3,291.1 454.6,298.2 455.0,310.4 455.4,290.7 455.8,300.1 456.2,288.1 456.6,304.2 456.9,296.4 457.3,293.3 457.7,307.4 458.1,298.1 458.5,291.8 458.9,301.8 459.2,300.7 459.6,289.8 460.0,276.5 460.4,300.5 460.8,292.5 461.2,300.6 461.5,284.9 461.9,300.1 462.3,294.3 462.7,287.3 463.1,303.7 463.4,291.9 463.8,298.0 464.2,308.4 464.6,300.5 465.0,296.2 465.4,300.1 465.7,289.9 466.1,298.8 466.5,294.8 466.9,292.9 467.3,281.1 467.7,291.5 468.0,301.8 468.4,285.0 468.8,295.3 469.2,294.5 469.6,305.1 470.0,298.6 470.3,294.7 470.7,307.7 471.1,299.1 471.5,296.4 471.9,301.9 472.3,286.5 472.6,284.7 473.0,306.4 473.4,310.6 473.8,306.7 474.2,287.0 474.6,305.4 474.9,298.4 475.3,286.8 475.7,291.8 476.1,289.8 476.5,296.1 476.9,280.6 477.2,300.0 477.6,305.5 478.0,296.0 478.4,277.5 478.8,285.4 479.2,298.8 479.5,308.5 479.9,296.4 480.3,293.2 480.7,292.5 481.1,297.7 481.5,304.4 481.8,300.8 482.2,294.1 482.6,286.9 483.0,289.6 483.4,298.8 483.8,298.6 484.1,288.5 484.5,289.3 484.9,293.5 485.3,313.4 485.7,307.2 486.0,291.9 486.4,289.0 486.8,293.8 487.2,296.4 487.6,297.3 488.0,294.6 488.3,307.7 488.7,302.3 489.1,293.2 489.5,299.5 489.9,298.5 490.3,297.6 490.6,294.8 491.0,301.3 491.4,305.2 491.8,295.3 492.2,309.9 492.6,298.7 492.9,307.8 493.3,289.8 493.7,280.4 494.1,305.9 494.5,291.0 494.9,301.1 495.2,302.0 495.6,300.9 496.0,295.0 496.4,293.1 496.8,302.7 497.2,302.2 497.5,289.7 497.9,287.8 498.3,305.3 498.7,300.1 499.1,290.5 499.5,282.7 499.8,296.0 500.2,294.3 500.6,304.2 501.0,290.4 501.4,294.3 501.8,300.4 502.1,297.8 502.5,281.8 502.9,286.9 503.3,286.8 503.7,304.4 504.1,306.7 504.4,309.3 504.8,293.3 505.2,306.4 505.6,305.5 506.0,289.5 506.4,311.3 506.7,294.2 507.1,306.8 507.5,297.2 507.9,281.0 508.3,295.5 508.6,299.9 509.0,299.7 509.4,299.7 509.8,302.0 510.2,310.2 510.6,304.4 510.9,288.3 511.3,289.2 511.7,293.6 512.1,298.5 512.5,293.7 512.9,296.4 513.2,293.8 513.6,287.1 514.0,289.2 514.4,300.7 514.8,304.5 515.2,313.2 515.5,303.6 515.9,299.0 516.3,299.3 516.7,298.6 517.1,295.3 517.5,291.1 517.8,309.4 518.2,305.5 518.6,305.5 519.0,293.5 519.4,285.4 519.8,297.0 520.1,295.2 520.5,302.1 520.9,305.4 521.3,303.3 521.7,287.0 522.1,298.8 522.4,300.0 522.8,294.0 523.2,297.9 523.6,290.8 524.0,298.6 524.4,296.5 524.7,294.9 525.1,302.9 525.5,301.5 525.9,294.1 526.3,297.7 526.7,302.7 527.0,298.7 527.4,280.6 527.8,300.0 528.2,304.3 528.6,295.8 529.0,286.9 529.3,300.2 529.7,300.5 530.1,301.9 530.5,308.2 530.9,299.6 531.2,291.1 531.6,295.9 532.0,298.2 532.4,311.3 532.8,301.6 533.2,307.2 533.5,318.6 533.9,303.5 534.3,294.7 534.7,306.2 535.1,305.5 535.5,286.3 535.8,294.2 536.2,289.8 536.6,289.4 537.0,294.3 537.4,299.7 537.8,295.8 538.1,288.2 538.5,297.4 538.9,298.2 539.3,297.8 539.7,292.2 540.1,303.5 540.4,285.9 540.8,291.7 541.2,304.9 541.6,284.7 542.0,313.9 542.4,319.4 542.7,294.4 543.1,306.4 543.5,305.2 543.9,294.9 544.3,289.6 544.7,278.7 545.0,295.1 545.4,306.7 545.8,294.0 546.2,303.0 546.6,305.4 547.0,288.6 547.3,286.3 547.7,320.0 548.1,288.7 548.5,298.3 548.9,294.2 549.3,311.4 549.6,312.5 550.0,305.9 550.4,293.9 550.8,302.5 551.2,304.9 551.5,289.3 551.9,310.5 552.3,324.7 552.7,294.9 553.1,315.9 553.5,298.5 553.8,286.8 554.2,312.0 554.6,308.5 555.0,318.9 555.4,302.1 555.8,311.3 556.1,325.1 556.5,304.7 556.9,288.8 557.3,317.8 557.7,298.7 558.1,310.3 558.4,324.8 558.8,284.5 559.2,296.0 559.6,300.1 560.0,310.8 560.4,323.6 560.7,291.2 561.1,309.9 561.5,281.0 561.9,309.8 562.3,305.6 562.7,303.3 563.0,304.4 563.4,297.3 563.8,302.5 564.2,300.3 564.6,307.5 565.0,286.8 565.3,300.8 565.7,304.7 566.1,300.7 566.5,310.4 566.9,305.4 567.3,299.4 567.6,299.2 568.0,286.2 568.4,302.0 568.8,298.5 569.2,309.6 569.6,291.3 569.9,303.6 570.3,285.6 570.7,315.5 571.1,290.4 571.5,303.2 571.9,303.2 572.2,310.3 572.6,296.9 573.0,292.4 573.4,311.5 573.8,299.8 574.1,307.0 574.5,299.5 574.9,299.5 575.3,310.8 575.7,315.3 576.1,303.1 576.4,296.1 576.8,310.5 577.2,302.1 577.6,297.3 578.0,306.5 578.4,310.5 578.7,304.7 579.1,296.3 579.5,302.1 579.9,292.7 580.3,311.0 580.7,284.9 581.0,299.7 581.4,307.2 581.8,292.0 582.2,305.4 582.6,307.1 583.0,305.6 583.3,320.6 583.7,297.0 584.1,303.5 584.5,305.5 584.9,310.0 585.3,291.6 585.6,302.8 586.0,305.3 586.4,296.6 586.8,306.4 587.2,306.3 587.6,296.1 587.9,297.3 588.3,298.1 588.7,298.1 589.1,302.5 589.5,309.2 589.9,303.0 590.2,289.8 590.6,304.5 591.0,295.1 591.4,307.4 591.8,300.2 592.2,307.5 592.5,300.9 592.9,306.2 593.3,314.9 593.7,304.8 594.1,295.8 594.5,307.2 594.8,306.4 595.2,305.7 595.6,305.9 596.0,296.7 596.4,301.5 596.7,304.4 597.1,310.8 597.5,292.4 597.9,303.7 598.3,305.0 598.7,311.6 599.0,298.5 599.4,301.1 599.8,302.7 600.2,314.2 600.6,314.0 601.0,305.0 601.3,286.6 601.7,303.6 602.1,297.2 602.5,289.0 602.9,292.5 603.3,301.3 603.6,315.6 604.0,300.8 604.4,297.7 604.8,299.6 605.2,306.1 605.6,312.1 605.9,298.5 606.3,294.6 606.7,302.7 607.1,304.2 607.5,300.3 607.9,312.8 608.2,307.6 608.6,303.5 609.0,312.9 609.4,297.9 609.8,302.7 610.2,298.2 610.5,313.7 610.9,300.9 611.3,309.7 611.7,300.8 612.1,310.2 612.5,301.1 612.8,285.7 613.2,308.8 613.6,300.7 614.0,300.1 614.4,295.2 614.8,297.8 615.1,297.3 615.5,312.6 615.9,306.5 616.3,312.9 616.7,310.8 617.1,293.4 617.4,304.7 617.8,311.5 618.2,305.4 618.6,296.0 619.0,309.4 619.3,305.7 619.7,309.8 620.1,310.2 620.5,300.1 620.9,293.8 621.3,308.2 621.6,291.6 622.0,309.6 622.4,289.6 622.8,301.7 623.2,289.4 623.6,311.0 623.9,297.3 624.3,296.6 624.7,310.4 625.1,311.5 625.5,304.8 625.9,309.0 626.2,296.0 626.6,307.4 627.0,305.0 627.4,303.2 627.8,290.7 628.2,295.8 628.5,297.9 628.9,303.2 629.3,301.1 629.7,317.7 630.1,305.2 630.5,311.4 630.8,303.4 631.2,304.5 631.6,308.3 632.0,303.2 632.4,302.7 632.8,312.0 633.1,298.8 633.5,301.3 633.9,305.1 634.3,301.2 634.7,294.9 635.1,295.8 635.4,297.2 635.8,302.2 636.2,287.8 636.6,291.5 637.0,318.3 637.4,298.0 637.7,319.9 638.1,296.8 638.5,296.7 638.9,303.5 639.3,304.2 639.7,300.6 640.0,298.7 640.4,302.5 640.8,314.6 641.2,308.4 641.6,296.6 641.9,303.1 642.3,304.0 642.7,294.8 643.1,306.2 643.5,311.1 643.9,311.6 644.2,292.6 644.6,308.7 645.0,294.2 645.4,303.6 645.8,306.0 646.2,300.9 646.5,306.7 646.9,312.4 647.3,298.8 647.7,299.1 648.1,309.4 648.5,310.5 648.8,289.0 649.2,302.6 649.6,298.5 650.0,310.6 650.4,311.4 650.8,291.8 651.1,313.8 651.5,315.9 651.9,300.3 652.3,306.2 652.7,311.8 653.1,312.7 653.4,302.8 653.8,303.6 654.2,306.1 654.6,309.8 655.0,295.5 655.4,317.4 655.7,297.4 656.1,285.8 656.5,307.6 656.9,301.5 657.3,313.5 657.7,310.3 658.0,288.6 658.4,300.7 658.8,296.6 659.2,298.4 659.6,318.5 660.0,317.6 660.3,309.8 660.7,300.1 661.1,317.7 661.5,300.7 661.9,305.4 662.3,294.6 662.6,307.9 663.0,310.6 663.4,309.2 663.8,308.9 664.2,311.1 664.5,314.1 664.9,303.6 665.3,288.1 665.7,302.2 666.1,294.4 666.5,313.3 666.8,298.6 667.2,303.6 667.6,298.8 668.0,302.7 668.4,310.9 668.8,312.0 669.1,302.9 669.5,309.4 669.9,300.0 670.3,311.2 670.7,306.2 671.1,302.4 671.4,304.1 671.8,303.9 672.2,304.2 672.6,319.1 673.0,323.0 673.4,297.5 673.7,295.9 674.1,300.3 674.5,299.1 674.9,308.5 675.3,324.7 675.7,308.7 676.0,296.7 676.4,308.9 676.8,309.1 677.2,301.2 677.6,309.5 678.0,308.7 678.3,311.5 678.7,307.9 679.1,303.2 679.5,295.2 679.9,295.6 680.3,309.7 680.6,307.7 681.0,301.7 681.4,309.5 681.8,322.3 682.2,293.3 682.6,313.5 682.9,305.4 683.3,307.2 683.7,305.5 684.1,309.5 684.5,305.4 684.9,319.1 685.2,305.4 685.6,311.5 686.0,308.6 686.4,301.4 686.8,306.7 687.1,300.3 687.5,309.0 687.9,291.3 688.3,310.7 688.7,311.0 689.1,309.5 689.4,303.5 689.8,311.4 690.2,301.2 690.6,309.0 691.0,305.2 691.4,311.0 691.7,296.2 692.1,315.1 692.5,314.7 692.9,299.4 693.3,307.3 693.7,302.1 694.0,296.9 694.4,301.3 694.8,312.5 695.2,306.6 695.6,319.7 696.0,310.6 696.3,311.6 696.7,313.2 697.1,312.9 697.5,307.9 697.9,305.2 698.3,326.7 698.6,298.6 699.0,309.6 699.4,308.7 699.8,304.0 700.2,290.3 700.6,290.7 700.9,311.7 701.3,300.0 701.7,305.1 702.1,307.5 702.5,313.6 702.9,310.1 703.2,303.7 703.6,305.8 704.0,289.8 704.4,313.4 704.8,307.2 705.2,306.9 705.5,299.0 705.9,305.9 706.3,303.3 706.7,313.2 707.1,304.3 707.5,309.8 707.8,303.8 708.2,292.8 708.6,301.4 709.0,312.4 709.4,311.6 709.7,308.1 710.1,304.1 710.5,302.8 710.9,314.8 711.3,298.2 711.7,307.1 712.0,313.9 712.4,321.0 712.8,315.5 713.2,322.2 713.6,299.4 714.0,307.0 714.3,305.0 714.7,317.0 715.1,328.8 715.5,309.4 715.9,310.7 716.3,311.3 716.6,308.6 717.0,309.7 717.4,326.4 717.8,307.2 718.2,302.0 718.6,310.2 718.9,326.7 719.3,309.3 719.7,315.7 720.1,305.4 720.5,290.2 720.9,321.3 721.2,324.8 721.6,302.1 722.0,324.8 722.4,301.0 722.8,308.7 723.2,314.2 723.5,323.1 723.9,312.2 724.3,312.0 724.7,305.7 725.1,295.8 725.5,316.2 725.8,301.6 726.2,300.8 726.6,313.7 727.0,314.5 727.4,302.9 727.8,328.5 728.1,306.2 728.5,321.7 728.9,313.5 729.3,308.8 729.7,314.8 730.1,313.5 730.4,311.7 730.8,297.5 731.2,329.3 731.6,294.2 732.0,301.2 732.3,326.1 732.7,304.3 733.1,313.4 733.5,318.2 733.9,308.5 734.3,304.5 734.6,305.5 735.0,324.0 735.4,316.4 735.8,315.6 736.2,305.5 736.6,302.3 736.9,311.7 737.3,301.6 737.7,308.1 738.1,305.3 738.5,316.3 738.9,294.8 739.2,300.3 739.6,305.0 740.0,323.3 740.4,304.8 740.8,302.6 741.2,304.3 741.5,318.3 741.9,315.2 742.3,291.1 742.7,319.5 743.1,318.4 743.5,306.8 743.8,297.2 744.2,310.3 744.6,306.7 745.0,304.1 745.4,325.8 745.8,315.8 746.1,314.3 746.5,312.5 746.9,316.7 747.3,311.3 747.7,294.0 748.1,307.8 748.4,299.3 748.8,309.0 749.2,308.2 749.6,309.8 750.0,301.0 750.4,313.2 750.7,310.8 751.1,322.5 751.5,304.4 751.9,316.8 752.3,304.8 752.7,305.4 753.0,308.5 753.4,310.2 753.8,315.3 754.2,313.7 754.6,313.7 754.9,304.7 755.3,307.0 755.7,311.6 756.1,303.2 756.5,302.1 756.9,329.8 757.2,316.3 757.6,299.9 758.0,305.2 758.4,312.7 758.8,304.8 759.2,302.9 759.5,303.4 759.9,316.5 760.3,314.0 760.7,305.5 761.1,308.6 761.5,307.3 761.8,325.6 762.2,303.2 762.6,310.2 763.0,315.3 763.4,313.1 763.8,315.5 764.1,300.4 764.5,315.6 764.9,306.9 765.3,314.7 765.7,316.5 766.1,311.8 766.4,304.0 766.8,316.9 767.2,324.3 767.6,307.4 768.0,318.6 768.4,309.4 768.7,300.3 769.1,305.9 769.5,306.4 769.9,327.7 770.3,312.0 770.7,306.4 771.0,310.1 771.4,309.4 771.8,316.2 772.2,301.3 772.6,317.0 773.0,313.0 773.3,318.6 773.7,307.4 774.1,306.6 774.5,312.4 774.9,314.3 775.3,311.5 775.6,292.0 776.0,327.2 776.4,312.7 776.8,305.1 777.2,309.1 777.5,312.9 777.9,309.5 778.3,314.0 778.7,317.6 779.1,314.1 779.5,301.1 779.8,304.4 780.2,313.9 780.6,310.4 781.0,309.6 781.4,305.0 781.8,317.7 782.1,302.1 782.5,315.2 782.9,306.3 783.3,307.8 783.7,318.9 784.1,306.6 784.4,302.1 784.8,294.8 785.2,306.4 785.6,313.0 786.0,311.8 786.4,301.5 786.7,297.0 787.1,307.3 787.5,309.8 787.9,305.7 788.3,306.4 788.7,311.1 789.0,315.6 789.4,315.4 789.8,318.4 790.2,304.7 790.6,309.3 791.0,305.2 791.3,322.4 791.7,312.2 792.1,310.8 792.5,308.6 792.9,316.1 793.3,302.4 793.6,316.4 794.0,325.0 794.4,319.3 794.8,313.8 795.2,306.9 795.6,327.1 795.9,311.7 796.3,303.8 796.7,303.9 797.1,312.3 797.5,302.4 797.9,311.7 798.2,308.4 798.6,312.7 799.0,311.1 799.4,296.0 799.8,306.3 800.1,304.6 800.5,312.7 800.9,318.1 801.3,313.7 801.7,308.9 802.1,316.2 802.4,304.4 802.8,325.1 803.2,297.1 803.6,312.1 804.0,296.4 804.4,297.0 804.7,298.1 805.1,311.3 805.5,306.9 805.9,319.0 806.3,309.7 806.7,311.4 807.0,325.0 807.4,317.4 807.8,301.7 808.2,320.0 808.6,304.4 809.0,311.2 809.3,312.6 809.7,322.0 810.1,308.3 810.5,306.6 810.9,293.1 811.3,313.0 811.6,315.7 812.0,306.9 812.4,310.5 812.8,315.4 813.2,305.3 813.6,309.9 813.9,309.6 814.3,302.5 814.7,317.2 815.1,304.5 815.5,316.4 815.9,308.3 816.2,311.9 816.6,312.6 817.0,330.9 817.4,313.2 817.8,319.3 818.2,312.6 818.5,313.3 818.9,308.0 819.3,324.7 819.7,313.3 820.1,305.7 820.5,318.6 820.8,310.4 821.2,298.9 821.6,310.4 822.0,307.7 822.4,314.5 822.7,322.2 823.1,317.2 823.5,307.7 823.9,296.5 824.3,320.9 824.7,318.6 825.0,313.7 825.4,321.5 825.8,312.4 826.2,309.0 826.6,310.8 827.0,315.0 827.3,325.4 827.7,306.4 828.1,317.3 828.5,311.7 828.9,315.9 829.3,319.0 829.6,316.7 830.0,316.4 830.4,325.0 830.8,322.3 831.2,310.5 831.6,306.8 831.9,313.3 832.3,320.6 832.7,314.1 833.1,305.6 833.5,317.0 833.9,304.5 834.2,315.1 834.6,312.5 835.0,319.1 835.4,309.6 835.8,302.9 836.2,315.9 836.5,310.2 836.9,318.3 837.3,310.1 837.7,309.3 838.1,306.1 838.5,314.9 838.8,325.3 839.2,311.4 839.6,313.2 840.0,318.4 840.4,306.4 840.8,314.7 841.1,310.9 841.5,312.1 841.9,308.7 842.3,307.5 842.7,316.9 843.1,309.7 843.4,305.6 843.8,306.5 844.2,306.7 844.6,326.6 845.0,316.9 845.3,313.2 845.7,314.1 846.1,317.1 846.5,312.1 846.9,294.2 847.3,315.6 847.6,314.6 848.0,306.2 848.4,323.7 848.8,319.0 849.2,320.7 849.6,312.1 849.9,319.3 850.3,315.1 850.7,321.8 851.1,311.3 851.5,301.9 851.9,313.7 852.2,316.2 852.6,313.0 853.0,314.0 853.4,306.1 853.8,301.3 854.2,320.3 854.5,310.5 854.9,297.5 855.3,307.9 855.7,321.6 856.1,303.3 856.5,317.7 856.8,317.6 857.2,315.1 857.6,319.1 858.0,311.9 858.4,310.8 858.8,308.4 859.1,310.3 859.5,310.9 859.9,310.7 860.3,306.7 860.7,310.3 861.1,321.9 861.4,321.9 861.8,318.0 862.2,314.3 862.6,311.5 863.0,329.9 863.4,313.5 863.7,309.5 864.1,307.1 864.5,315.1 864.9,315.7 865.3,309.7 865.7,305.3 866.0,307.0 866.4,313.0 866.8,310.5 867.2,309.8 867.6,317.3 867.9,322.1 868.3,320.7 868.7,310.2 869.1,308.0 869.5,322.6 869.9,305.4 870.2,310.7 870.6,313.9 871.0,316.7 871.4,313.3 871.8,319.6 872.2,302.6 872.5,323.9 872.9,313.3 873.3,319.3 873.7,308.0 874.1,327.0 874.5,319.0 874.8,317.5 875.2,303.5 875.6,307.7 876.0,308.7 876.4,319.5 876.8,303.1 877.1,317.7 877.5,311.4 877.9,309.2 878.3,314.6 878.7,315.9 879.1,312.8 879.4,330.4 879.8,305.4 880.2,316.2 880.6,317.4 881.0,299.7 881.4,309.8 881.7,308.5 882.1,306.8 882.5,302.9 882.9,321.6 883.3,295.7 883.7,309.6 884.0,321.9 884.4,311.9 884.8,302.2 885.2,318.5 885.6,312.4 886.0,317.7 886.3,331.0 886.7,318.2 887.1,319.7 887.5,319.1 887.9,304.9 888.3,314.5 888.6,306.6 889.0,308.1 889.4,318.0 889.8,317.3 890.2,319.5 890.5,304.9 890.9,324.6 891.3,322.9 891.7,310.9 892.1,316.4 892.5,301.7 892.8,320.3 893.2,313.8 893.6,313.0 894.0,321.9 894.4,314.2 894.8,312.1 895.1,314.8 895.5,317.1 895.9,300.0 896.3,314.7 896.7,318.6 897.1,311.9 897.4,307.4 897.8,320.5 898.2,321.6 898.6,308.0 899.0,314.4 899.4,302.6 899.7,301.4 900.1,316.4 900.5,316.8 900.9,313.9 901.3,312.5 901.7,308.2 902.0,313.4 902.4,308.5 902.8,311.2 903.2,326.8 903.6,322.0 904.0,302.4 904.3,310.8 904.7,320.3 905.1,297.7 905.5,303.7 905.9,323.6 906.3,314.3 906.6,311.2 907.0,315.8 907.4,320.0 907.8,308.3 908.2,315.1 908.6,315.0 908.9,301.0 909.3,313.7 909.7,321.1 910.1,314.1 910.5,308.9 910.9,304.1 911.2,310.5 911.6,324.8 912.0,321.1 912.4,317.5 912.8,319.0 913.1,309.5 913.5,319.8 913.9,306.2 914.3,304.7 914.7,313.7 915.1,324.2 915.4,308.2 915.8,310.5 916.2,315.7 916.6,316.6 917.0,315.8 917.4,318.7 917.7,316.7 918.1,308.3 918.5,317.4 918.9,304.2 919.3,322.5 919.7,303.7 920.0,308.6 920.4,312.1 920.8,317.5 921.2,322.1 921.6,305.4 922.0,315.5 922.3,321.6 922.7,311.1 923.1,322.4 923.5,311.3 923.9,312.2 924.3,300.0 924.6,333.0 925.0,309.5 925.4,316.4 925.8,313.0 926.2,312.6 926.6,312.9 926.9,314.5 927.3,312.3 927.7,318.4 928.1,322.2 928.5,322.9 928.9,310.9 929.2,308.6 929.6,311.6 930.0,321.0 930.4,304.1 930.8,318.9 931.2,320.0 931.5,317.9 931.9,311.2 932.3,328.6 932.7,322.6 933.1,301.6 933.5,320.0 933.8,322.5 934.2,321.8 934.6,326.2" fill="none" stroke="#ff0066" stroke-width="4.17" stroke-linejoin="round" stroke-linecap="round"/>
<g font-size="45.83" fill="#262626">
<text x="169.70" y="523.00" text-anchor="middle">109</text>
<text x="361.22" y="523.00" text-anchor="middle">109.1</text>
<text x="552.75" y="523.00" text-anchor="middle">109.2</text>
<text x="744.27" y="523.00" text-anchor="middle">109.3</text>
<text x="935.80" y="523.00" text-anchor="middle">109.4</text>
<text x="154.50" y="420.47" text-anchor="end">5</text>
<text x="154.50" y="337.00" text-anchor="end">5.5</text>
<text x="154.50" y="253.53" text-anchor="end">6</text>
<text x="154.50" y="170.07" text-anchor="end">6.5</text>
<text x="154.50" y="86.60" text-anchor="end">7</text>
</g>
<text x="551.55" y="580.00" font-size="50.4" fill="#262626" text-anchor="middle">Frequency (kHz)</text>
<text transform="translate(80.20,268.85) rotate(-90)" font-size="50.4" fill="#404040" text-anchor="middle">Amplitude (V)</text>
<rect x="249.2" y="51.2" width="693.60" height="56.30" fill="#fff" stroke="#212121" stroke-width="4.6"/>
<line x1="259.5" y1="79.35" x2="327.8" y2="79.35" stroke="#0066ff" stroke-width="4.17"/>
<text x="333.4" y="93.95" font-size="40.8" fill="#000">Test signal</text>
<line x1="526.1" y1="79.35" x2="593.7" y2="79.35" stroke="#ff0066" stroke-width="4.17"/>
<text x="597.9" y="93.95" font-size="40.8" fill="#000">Feed through signal</text>
<g fill="#262626"><text x="172.00" y="67.10" font-size="51.3">×</text><text x="202.90" y="61.20" font-size="45.83">10</text><text x="250.50" y="39.10" font-size="36.66">-4</text></g>
<text x="37.4" y="73.5" font-size="58.3" fill="#000">(a)</text>
<g stroke="#212121" stroke-width="4.6" fill="none" stroke-linecap="butt">
<rect x="1195.6" y="70.7" width="765.80" height="395.30"/>
<path d="M1387.05,466.0v-9.8M1387.05,70.7v9.8M1578.50,466.0v-9.8M1578.50,70.7v9.8M1769.95,466.0v-9.8M1769.95,70.7v9.8M1195.6,367.18h9.8M1961.4,367.18h-9.8M1195.6,268.35h9.8M1961.4,268.35h-9.8M1195.6,169.52h9.8M1961.4,169.52h-9.8"/>
</g>
<polyline clip-path="url(#cpb)" points="1195.6,440.8 1196.0,418.8 1196.4,457.7 1196.7,433.5 1197.1,450.7 1197.5,433.4 1197.9,424.5 1198.3,438.1 1198.7,447.5 1199.0,438.3 1199.4,436.8 1199.8,446.4 1200.2,436.3 1200.6,413.5 1201.0,423.3 1201.3,426.6 1201.7,424.7 1202.1,428.4 1202.5,441.9 1202.9,438.5 1203.3,437.8 1203.6,427.3 1204.0,443.1 1204.4,454.2 1204.8,451.9 1205.2,408.7 1205.6,441.8 1205.9,439.6 1206.3,429.0 1206.7,434.5 1207.1,454.8 1207.5,444.3 1207.9,442.2 1208.2,456.4 1208.6,436.7 1209.0,435.5 1209.4,458.5 1209.8,425.2 1210.2,465.0 1210.5,452.7 1210.9,419.0 1211.3,447.3 1211.7,458.1 1212.1,428.7 1212.4,443.4 1212.8,452.1 1213.2,430.3 1213.6,449.6 1214.0,438.2 1214.4,451.2 1214.7,449.0 1215.1,445.5 1215.5,425.9 1215.9,438.4 1216.3,448.1 1216.7,419.3 1217.0,445.5 1217.4,451.9 1217.8,432.9 1218.2,444.0 1218.6,427.2 1219.0,446.7 1219.3,419.9 1219.7,422.9 1220.1,459.1 1220.5,427.8 1220.9,440.7 1221.3,441.7 1221.6,443.5 1222.0,436.2 1222.4,449.9 1222.8,430.9 1223.2,445.1 1223.6,432.5 1223.9,450.4 1224.3,432.0 1224.7,444.3 1225.1,435.6 1225.5,447.3 1225.8,448.3 1226.2,446.3 1226.6,441.9 1227.0,449.5 1227.4,452.4 1227.8,439.9 1228.1,428.7 1228.5,452.8 1228.9,443.0 1229.3,462.2 1229.7,438.7 1230.1,446.6 1230.4,436.1 1230.8,451.0 1231.2,442.4 1231.6,423.0 1232.0,429.4 1232.4,418.7 1232.7,455.1 1233.1,450.9 1233.5,461.9 1233.9,452.6 1234.3,450.7 1234.7,425.3 1235.0,449.7 1235.4,450.2 1235.8,436.7 1236.2,450.1 1236.6,455.0 1237.0,441.2 1237.3,436.9 1237.7,439.5 1238.1,464.0 1238.5,455.8 1238.9,432.6 1239.3,432.4 1239.6,437.4 1240.0,441.4 1240.4,448.7 1240.8,414.4 1241.2,449.0 1241.5,451.1 1241.9,455.6 1242.3,457.2 1242.7,446.0 1243.1,461.3 1243.5,442.3 1243.8,446.1 1244.2,437.5 1244.6,438.4 1245.0,434.8 1245.4,416.9 1245.8,433.8 1246.1,416.0 1246.5,450.2 1246.9,454.3 1247.3,447.2 1247.7,452.6 1248.1,431.0 1248.4,434.2 1248.8,457.3 1249.2,446.2 1249.6,415.0 1250.0,444.4 1250.4,444.8 1250.7,417.8 1251.1,452.2 1251.5,443.7 1251.9,461.9 1252.3,454.5 1252.7,446.8 1253.0,461.1 1253.4,453.9 1253.8,456.7 1254.2,447.6 1254.6,441.0 1254.9,422.9 1255.3,450.2 1255.7,458.7 1256.1,435.4 1256.5,449.4 1256.9,442.2 1257.2,444.1 1257.6,454.1 1258.0,429.3 1258.4,448.6 1258.8,437.8 1259.2,442.7 1259.5,445.0 1259.9,439.9 1260.3,446.4 1260.7,446.0 1261.1,435.9 1261.5,445.1 1261.8,439.5 1262.2,450.8 1262.6,443.9 1263.0,440.7 1263.4,440.6 1263.8,454.2 1264.1,445.9 1264.5,429.8 1264.9,433.3 1265.3,453.5 1265.7,460.5 1266.1,437.3 1266.4,445.1 1266.8,442.9 1267.2,450.7 1267.6,446.2 1268.0,437.9 1268.4,438.4 1268.7,452.1 1269.1,445.7 1269.5,426.2 1269.9,455.4 1270.3,457.1 1270.6,460.0 1271.0,453.1 1271.4,429.1 1271.8,443.8 1272.2,458.5 1272.6,446.9 1272.9,462.5 1273.3,454.4 1273.7,461.5 1274.1,428.6 1274.5,447.7 1274.9,439.5 1275.2,430.9 1275.6,455.5 1276.0,433.0 1276.4,453.2 1276.8,432.9 1277.2,432.7 1277.5,461.2 1277.9,438.4 1278.3,430.5 1278.7,456.0 1279.1,453.9 1279.5,436.1 1279.8,438.4 1280.2,444.5 1280.6,458.4 1281.0,442.5 1281.4,438.3 1281.8,460.7 1282.1,449.6 1282.5,450.5 1282.9,446.4 1283.3,446.1 1283.7,454.5 1284.0,455.8 1284.4,435.9 1284.8,454.5 1285.2,449.9 1285.6,437.6 1286.0,462.9 1286.3,447.4 1286.7,453.0 1287.1,441.2 1287.5,445.0 1287.9,440.5 1288.3,443.6 1288.6,446.0 1289.0,432.7 1289.4,457.6 1289.8,460.1 1290.2,455.2 1290.6,440.5 1290.9,457.6 1291.3,462.8 1291.7,429.4 1292.1,439.0 1292.5,451.9 1292.9,431.6 1293.2,458.1 1293.6,453.7 1294.0,435.7 1294.4,454.8 1294.8,455.4 1295.2,439.8 1295.5,439.4 1295.9,460.7 1296.3,453.0 1296.7,450.9 1297.1,444.6 1297.5,444.9 1297.8,462.5 1298.2,446.8 1298.6,442.2 1299.0,453.4 1299.4,456.6 1299.7,452.6 1300.1,450.0 1300.5,454.1 1300.9,440.5 1301.3,455.7 1301.7,452.9 1302.0,427.9 1302.4,451.5 1302.8,454.4 1303.2,449.5 1303.6,445.7 1304.0,451.3 1304.3,459.2 1304.7,443.0 1305.1,453.9 1305.5,455.5 1305.9,453.8 1306.3,456.5 1306.6,452.5 1307.0,449.4 1307.4,431.2 1307.8,462.1 1308.2,451.1 1308.6,447.5 1308.9,458.6 1309.3,435.3 1309.7,443.9 1310.1,450.0 1310.5,454.4 1310.9,453.0 1311.2,455.4 1311.6,448.7 1312.0,458.5 1312.4,444.5 1312.8,460.3 1313.2,438.1 1313.5,448.9 1313.9,446.9 1314.3,438.1 1314.7,445.7 1315.1,445.8 1315.4,453.4 1315.8,443.2 1316.2,448.5 1316.6,458.3 1317.0,452.0 1317.4,456.3 1317.7,441.2 1318.1,448.9 1318.5,446.3 1318.9,432.2 1319.3,456.1 1319.7,439.3 1320.0,461.3 1320.4,459.3 1320.8,459.8 1321.2,428.6 1321.6,438.4 1322.0,460.2 1322.3,437.6 1322.7,454.5 1323.1,439.9 1323.5,437.7 1323.9,428.9 1324.3,452.0 1324.6,438.0 1325.0,457.4 1325.4,463.2 1325.8,456.8 1326.2,451.2 1326.6,458.5 1326.9,449.7 1327.3,446.2 1327.7,442.6 1328.1,460.2 1328.5,457.1 1328.8,430.3 1329.2,459.5 1329.6,441.3 1330.0,440.5 1330.4,451.0 1330.8,439.0 1331.1,436.8 1331.5,442.3 1331.9,447.6 1332.3,449.3 1332.7,440.9 1333.1,452.3 1333.4,447.0 1333.8,457.9 1334.2,445.8 1334.6,455.1 1335.0,446.1 1335.4,449.7 1335.7,461.7 1336.1,439.5 1336.5,451.8 1336.9,455.0 1337.3,437.2 1337.7,445.4 1338.0,447.0 1338.4,459.5 1338.8,453.9 1339.2,440.4 1339.6,454.2 1340.0,443.6 1340.3,458.6 1340.7,440.9 1341.1,434.3 1341.5,431.7 1341.9,460.3 1342.3,451.3 1342.6,450.0 1343.0,447.7 1343.4,439.8 1343.8,432.9 1344.2,454.6 1344.5,461.6 1344.9,434.5 1345.3,446.3 1345.7,465.1 1346.1,449.3 1346.5,442.8 1346.8,450.7 1347.2,454.1 1347.6,455.4 1348.0,436.8 1348.4,451.3 1348.8,450.0 1349.1,460.2 1349.5,447.3 1349.9,437.5 1350.3,455.5 1350.7,435.0 1351.1,454.0 1351.4,454.6 1351.8,463.4 1352.2,445.1 1352.6,437.5 1353.0,453.1 1353.4,438.3 1353.7,445.5 1354.1,464.5 1354.5,423.4 1354.9,440.6 1355.3,449.0 1355.7,452.5 1356.0,459.4 1356.4,451.2 1356.8,445.6 1357.2,453.7 1357.6,451.5 1357.9,452.8 1358.3,443.1 1358.7,448.1 1359.1,437.7 1359.5,456.3 1359.9,451.8 1360.2,450.0 1360.6,446.5 1361.0,446.1 1361.4,431.0 1361.8,454.1 1362.2,443.6 1362.5,450.3 1362.9,456.5 1363.3,453.9 1363.7,437.8 1364.1,445.3 1364.5,440.5 1364.8,452.2 1365.2,452.4 1365.6,449.2 1366.0,439.0 1366.4,448.0 1366.8,446.5 1367.1,435.2 1367.5,445.0 1367.9,439.3 1368.3,438.1 1368.7,451.3 1369.1,444.4 1369.4,441.2 1369.8,454.1 1370.2,454.2 1370.6,456.2 1371.0,444.5 1371.4,447.8 1371.7,460.9 1372.1,458.7 1372.5,434.0 1372.9,447.1 1373.3,449.9 1373.6,448.5 1374.0,429.2 1374.4,462.1 1374.8,448.3 1375.2,438.9 1375.6,433.0 1375.9,434.5 1376.3,448.1 1376.7,447.9 1377.1,453.0 1377.5,461.2 1377.9,460.3 1378.2,448.4 1378.6,430.2 1379.0,452.1 1379.4,461.6 1379.8,448.9 1380.2,434.4 1380.5,442.0 1380.9,449.3 1381.3,451.1 1381.7,452.2 1382.1,454.9 1382.5,437.6 1382.8,437.7 1383.2,454.8 1383.6,443.2 1384.0,453.0 1384.4,437.6 1384.8,455.8 1385.1,448.9 1385.5,464.3 1385.9,448.4 1386.3,446.9 1386.7,451.1 1387.0,445.3 1387.4,431.8 1387.8,446.8 1388.2,445.8 1388.6,443.5 1389.0,441.7 1389.3,441.6 1389.7,441.3 1390.1,421.6 1390.5,453.4 1390.9,460.3 1391.3,428.8 1391.6,459.6 1392.0,448.0 1392.4,446.1 1392.8,433.4 1393.2,461.9 1393.6,429.1 1393.9,445.3 1394.3,455.9 1394.7,435.5 1395.1,430.6 1395.5,463.1 1395.9,455.1 1396.2,441.5 1396.6,450.3 1397.0,439.5 1397.4,457.6 1397.8,449.2 1398.2,440.4 1398.5,438.1 1398.9,447.3 1399.3,457.0 1399.7,443.9 1400.1,442.7 1400.5,425.8 1400.8,427.8 1401.2,444.6 1401.6,447.3 1402.0,434.6 1402.4,461.0 1402.7,448.0 1403.1,429.9 1403.5,457.0 1403.9,430.9 1404.3,453.6 1404.7,390.7 1405.0,449.7 1405.4,441.6 1405.8,438.3 1406.2,445.5 1406.6,425.8 1407.0,409.1 1407.3,424.1 1407.7,441.8 1408.1,432.3 1408.5,412.4 1408.9,450.3 1409.3,448.8 1409.6,428.0 1410.0,464.3 1410.4,441.6 1410.8,445.1 1411.2,443.4 1411.6,426.8 1411.9,442.0 1412.3,428.0 1412.7,447.2 1413.1,434.3 1413.5,421.1 1413.9,403.9 1414.2,419.3 1414.6,419.4 1415.0,447.1 1415.4,444.1 1415.8,402.2 1416.2,416.6 1416.5,428.6 1416.9,441.8 1417.3,447.1 1417.7,460.9 1418.1,448.5 1418.4,453.8 1418.8,451.5 1419.2,457.1 1419.6,456.3 1420.0,439.7 1420.4,438.7 1420.7,444.8 1421.1,449.1 1421.5,431.3 1421.9,439.3 1422.3,456.8 1422.7,443.8 1423.0,439.9 1423.4,442.2 1423.8,462.3 1424.2,440.6 1424.6,425.7 1425.0,449.5 1425.3,438.3 1425.7,440.4 1426.1,441.5 1426.5,424.3 1426.9,453.6 1427.3,441.1 1427.6,436.6 1428.0,434.9 1428.4,459.1 1428.8,440.1 1429.2,441.6 1429.6,462.9 1429.9,435.4 1430.3,433.2 1430.7,436.7 1431.1,420.2 1431.5,446.0 1431.8,435.4 1432.2,459.7 1432.6,452.6 1433.0,452.0 1433.4,442.3 1433.8,449.1 1434.1,449.5 1434.5,453.9 1434.9,443.2 1435.3,444.0 1435.7,432.0 1436.1,460.5 1436.4,453.4 1436.8,447.3 1437.2,444.5 1437.6,441.0 1438.0,430.4 1438.4,427.5 1438.7,445.7 1439.1,428.2 1439.5,437.9 1439.9,449.5 1440.3,429.4 1440.7,420.8 1441.0,447.1 1441.4,436.6 1441.8,463.3 1442.2,458.6 1442.6,427.7 1443.0,436.1 1443.3,451.8 1443.7,437.3 1444.1,430.3 1444.5,423.5 1444.9,444.2 1445.3,460.0 1445.6,452.3 1446.0,446.4 1446.4,444.3 1446.8,424.5 1447.2,454.4 1447.5,452.5 1447.9,435.6 1448.3,441.8 1448.7,448.2 1449.1,411.9 1449.5,434.7 1449.8,451.5 1450.2,439.7 1450.6,450.3 1451.0,431.9 1451.4,456.4 1451.8,450.2 1452.1,431.7 1452.5,443.3 1452.9,440.4 1453.3,440.0 1453.7,440.1 1454.1,429.5 1454.4,418.9 1454.8,416.0 1455.2,453.3 1455.6,434.5 1456.0,430.6 1456.4,443.2 1456.7,429.2 1457.1,444.6 1457.5,423.3 1457.9,440.1 1458.3,443.3 1458.7,432.8 1459.0,432.5 1459.4,440.7 1459.8,453.4 1460.2,439.7 1460.6,439.2 1460.9,439.0 1461.3,433.9 1461.7,439.0 1462.1,446.9 1462.5,437.5 1462.9,436.5 1463.2,441.3 1463.6,446.9 1464.0,441.5 1464.4,441.6 1464.8,415.3 1465.2,432.7 1465.5,445.2 1465.9,439.0 1466.3,445.8 1466.7,422.7 1467.1,445.5 1467.5,424.7 1467.8,420.4 1468.2,416.3 1468.6,449.1 1469.0,450.9 1469.4,419.4 1469.8,447.0 1470.1,433.2 1470.5,439.9 1470.9,438.5 1471.3,423.1 1471.7,442.6 1472.1,426.1 1472.4,436.7 1472.8,434.7 1473.2,419.7 1473.6,451.1 1474.0,427.6 1474.4,423.9 1474.7,444.8 1475.1,416.1 1475.5,442.9 1475.9,429.2 1476.3,445.3 1476.6,437.7 1477.0,434.7 1477.4,439.6 1477.8,424.1 1478.2,439.3 1478.6,419.4 1478.9,414.2 1479.3,425.7 1479.7,442.4 1480.1,432.6 1480.5,422.0 1480.9,415.2 1481.2,420.9 1481.6,432.5 1482.0,431.2 1482.4,445.3 1482.8,435.4 1483.2,428.2 1483.5,430.4 1483.9,448.7 1484.3,405.2 1484.7,421.5 1485.1,426.3 1485.5,435.3 1485.8,443.8 1486.2,438.5 1486.6,432.3 1487.0,429.7 1487.4,418.9 1487.8,430.0 1488.1,408.8 1488.5,423.5 1488.9,448.8 1489.3,426.7 1489.7,422.5 1490.1,412.7 1490.4,419.8 1490.8,438.5 1491.2,425.8 1491.6,426.4 1492.0,443.7 1492.3,421.7 1492.7,435.0 1493.1,429.0 1493.5,436.1 1493.9,411.4 1494.3,425.1 1494.6,440.4 1495.0,435.2 1495.4,436.9 1495.8,434.2 1496.2,436.0 1496.6,430.8 1496.9,418.3 1497.3,409.5 1497.7,423.6 1498.1,400.0 1498.5,391.8 1498.9,415.4 1499.2,433.9 1499.6,419.9 1500.0,419.3 1500.4,399.1 1500.8,401.9 1501.2,415.9 1501.5,423.3 1501.9,416.5 1502.3,388.3 1502.7,419.8 1503.1,421.1 1503.5,425.4 1503.8,409.9 1504.2,410.7 1504.6,428.8 1505.0,436.8 1505.4,409.9 1505.7,418.9 1506.1,390.4 1506.5,412.2 1506.9,425.8 1507.3,407.5 1507.7,424.3 1508.0,412.3 1508.4,403.4 1508.8,400.0 1509.2,408.2 1509.6,414.1 1510.0,410.7 1510.3,412.5 1510.7,403.1 1511.1,393.5 1511.5,402.7 1511.9,390.1 1512.3,397.8 1512.6,397.4 1513.0,408.2 1513.4,391.3 1513.8,412.8 1514.2,391.4 1514.6,412.6 1514.9,392.5 1515.3,386.0 1515.7,402.3 1516.1,402.4 1516.5,383.3 1516.9,407.2 1517.2,391.1 1517.6,397.6 1518.0,371.4 1518.4,388.9 1518.8,394.1 1519.2,395.4 1519.5,384.2 1519.9,376.1 1520.3,387.5 1520.7,380.5 1521.1,385.1 1521.4,399.2 1521.8,392.0 1522.2,391.2 1522.6,379.3 1523.0,374.5 1523.4,374.3 1523.7,387.1 1524.1,381.8 1524.5,369.1 1524.9,377.8 1525.3,368.8 1525.7,359.7 1526.0,370.3 1526.4,356.3 1526.8,361.3 1527.2,351.2 1527.6,352.1 1528.0,350.5 1528.3,336.1 1528.7,348.3 1529.1,345.7 1529.5,336.6 1529.9,344.9 1530.3,361.4 1530.6,324.3 1531.0,343.9 1531.4,334.3 1531.8,330.0 1532.2,325.3 1532.6,318.2 1532.9,309.5 1533.3,299.5 1533.7,314.9 1534.1,286.1 1534.5,286.2 1534.8,266.0 1535.2,280.5 1535.6,269.2 1536.0,273.4 1536.4,291.4 1536.8,241.7 1537.1,254.7 1537.5,251.0 1537.9,224.1 1538.3,235.1 1538.7,214.1 1539.1,209.7 1539.4,206.9 1539.8,167.5 1540.2,155.6 1540.6,150.9 1541.0,155.8 1541.4,126.1 1541.7,114.4 1542.1,95.8 1542.5,72.7 1542.9,78.8 1543.3,77.2 1543.7,76.7 1544.0,70.7 1544.4,72.7 1544.8,72.7 1545.2,83.2 1545.6,134.6 1546.0,146.7 1546.3,175.6 1546.7,218.5 1547.1,220.0 1547.5,227.6 1547.9,245.6 1548.3,273.7 1548.6,271.7 1549.0,287.1 1549.4,309.7 1549.8,329.4 1550.2,351.8 1550.5,331.5 1550.9,340.7 1551.3,328.3 1551.7,331.7 1552.1,365.7 1552.5,371.3 1552.8,342.3 1553.2,368.5 1553.6,371.5 1554.0,377.0 1554.4,388.8 1554.8,372.5 1555.1,376.6 1555.5,402.2 1555.9,376.8 1556.3,393.4 1556.7,401.9 1557.1,380.9 1557.4,390.3 1557.8,403.3 1558.2,387.2 1558.6,394.0 1559.0,412.6 1559.4,416.2 1559.7,399.3 1560.1,388.0 1560.5,396.8 1560.9,390.8 1561.3,398.3 1561.7,405.0 1562.0,410.4 1562.4,418.5 1562.8,395.0 1563.2,405.5 1563.6,415.2 1563.9,387.7 1564.3,424.7 1564.7,425.2 1565.1,408.2 1565.5,418.2 1565.9,425.7 1566.2,422.8 1566.6,413.3 1567.0,417.2 1567.4,428.6 1567.8,411.8 1568.2,434.3 1568.5,407.8 1568.9,449.8 1569.3,428.9 1569.7,409.7 1570.1,412.2 1570.5,420.9 1570.8,399.4 1571.2,417.0 1571.6,426.7 1572.0,420.5 1572.4,429.0 1572.8,416.3 1573.1,450.7 1573.5,441.1 1573.9,414.7 1574.3,417.6 1574.7,429.2 1575.1,414.0 1575.4,420.0 1575.8,430.0 1576.2,422.9 1576.6,407.0 1577.0,428.8 1577.4,422.7 1577.7,439.8 1578.1,414.8 1578.5,425.9 1578.9,427.1 1579.3,416.8 1579.6,447.0 1580.0,445.5 1580.4,428.8 1580.8,433.9 1581.2,428.6 1581.6,435.0 1581.9,430.8 1582.3,443.4 1582.7,415.8 1583.1,444.9 1583.5,422.6 1583.9,433.2 1584.2,446.1 1584.6,413.1 1585.0,428.7 1585.4,459.4 1585.8,460.9 1586.2,437.5 1586.5,424.1 1586.9,438.2 1587.3,430.7 1587.7,428.2 1588.1,431.0 1588.5,441.1 1588.8,450.7 1589.2,435.7 1589.6,433.3 1590.0,442.2 1590.4,438.0 1590.8,442.7 1591.1,447.5 1591.5,418.5 1591.9,423.7 1592.3,440.5 1592.7,435.0 1593.1,426.3 1593.4,438.6 1593.8,444.2 1594.2,425.1 1594.6,457.6 1595.0,447.2 1595.3,414.9 1595.7,449.9 1596.1,453.5 1596.5,426.8 1596.9,434.5 1597.3,435.1 1597.6,441.1 1598.0,437.2 1598.4,422.2 1598.8,437.3 1599.2,427.0 1599.6,450.1 1599.9,429.8 1600.3,432.9 1600.7,429.7 1601.1,429.7 1601.5,442.2 1601.9,421.3 1602.2,448.9 1602.6,436.7 1603.0,459.6 1603.4,441.3 1603.8,445.3 1604.2,455.3 1604.5,435.9 1604.9,435.4 1605.3,449.9 1605.7,455.9 1606.1,447.8 1606.5,437.3 1606.8,453.7 1607.2,458.5 1607.6,448.7 1608.0,450.1 1608.4,453.5 1608.7,441.3 1609.1,458.5 1609.5,449.3 1609.9,427.8 1610.3,454.4 1610.7,445.2 1611.0,432.9 1611.4,410.4 1611.8,433.5 1612.2,435.0 1612.6,430.2 1613.0,436.8 1613.3,453.2 1613.7,432.6 1614.1,443.5 1614.5,432.0 1614.9,442.9 1615.3,440.9 1615.6,448.4 1616.0,429.2 1616.4,423.8 1616.8,450.0 1617.2,415.1 1617.6,458.2 1617.9,436.8 1618.3,428.8 1618.7,433.7 1619.1,438.9 1619.5,445.1 1619.9,440.7 1620.2,425.7 1620.6,431.7 1621.0,432.8 1621.4,426.6 1621.8,455.0 1622.2,437.7 1622.5,439.8 1622.9,431.1 1623.3,438.5 1623.7,432.1 1624.1,425.3 1624.4,454.8 1624.8,441.0 1625.2,439.4 1625.6,438.5 1626.0,433.3 1626.4,459.0 1626.7,458.5 1627.1,420.8 1627.5,440.3 1627.9,429.0 1628.3,450.8 1628.7,430.3 1629.0,440.8 1629.4,427.5 1629.8,434.8 1630.2,441.1 1630.6,441.6 1631.0,437.1 1631.3,435.8 1631.7,413.3 1632.1,453.3 1632.5,439.0 1632.9,451.3 1633.3,429.6 1633.6,440.7 1634.0,450.2 1634.4,445.0 1634.8,443.7 1635.2,422.9 1635.6,439.7 1635.9,434.3 1636.3,438.7 1636.7,441.9 1637.1,439.5 1637.5,437.4 1637.8,437.6 1638.2,434.1 1638.6,441.0 1639.0,429.6 1639.4,452.4 1639.8,450.7 1640.1,438.9 1640.5,439.7 1640.9,432.1 1641.3,447.8 1641.7,430.9 1642.1,433.2 1642.4,443.4 1642.8,449.9 1643.2,456.3 1643.6,443.1 1644.0,438.3 1644.4,426.1 1644.7,442.6 1645.1,435.9 1645.5,441.4 1645.9,430.2 1646.3,441.6 1646.7,447.9 1647.0,451.3 1647.4,449.4 1647.8,432.5 1648.2,449.2 1648.6,431.8 1649.0,443.7 1649.3,435.3 1649.7,421.7 1650.1,432.1 1650.5,440.8 1650.9,439.8 1651.3,433.3 1651.6,431.2 1652.0,442.1 1652.4,445.8 1652.8,425.8 1653.2,420.0 1653.5,440.3 1653.9,438.5 1654.3,438.2 1654.7,446.5 1655.1,431.2 1655.5,438.1 1655.8,419.1 1656.2,440.4 1656.6,438.4 1657.0,423.6 1657.4,426.6 1657.8,440.9 1658.1,450.8 1658.5,434.6 1658.9,448.0 1659.3,435.9 1659.7,455.2 1660.1,429.7 1660.4,427.1 1660.8,426.6 1661.2,437.4 1661.6,433.7 1662.0,436.7 1662.4,414.5 1662.7,437.0 1663.1,442.6 1663.5,441.4 1663.9,444.9 1664.3,454.1 1664.7,438.3 1665.0,443.7 1665.4,439.5 1665.8,436.9 1666.2,455.2 1666.6,431.7 1666.9,423.8 1667.3,416.1 1667.7,442.7 1668.1,437.8 1668.5,444.4 1668.9,434.5 1669.2,446.2 1669.6,428.6 1670.0,436.6 1670.4,435.7 1670.8,435.8 1671.2,423.0 1671.5,436.0 1671.9,445.3 1672.3,459.5 1672.7,436.7 1673.1,423.3 1673.5,431.4 1673.8,438.3 1674.2,450.1 1674.6,433.7 1675.0,447.8 1675.4,427.3 1675.8,428.3 1676.1,435.4 1676.5,420.9 1676.9,428.6 1677.3,435.1 1677.7,418.9 1678.1,421.3 1678.4,440.1 1678.8,425.6 1679.2,426.7 1679.6,416.8 1680.0,444.6 1680.4,432.5 1680.7,434.7 1681.1,432.3 1681.5,397.3 1681.9,430.4 1682.3,437.6 1682.6,439.8 1683.0,427.6 1683.4,414.0 1683.8,444.0 1684.2,416.5 1684.6,418.1 1684.9,438.4 1685.3,433.8 1685.7,443.0 1686.1,435.5 1686.5,449.6 1686.9,430.3 1687.2,422.0 1687.6,434.2 1688.0,416.4 1688.4,411.8 1688.8,444.0 1689.2,418.3 1689.5,421.6 1689.9,430.1 1690.3,436.4 1690.7,421.6 1691.1,424.4 1691.5,441.2 1691.8,428.8 1692.2,417.6 1692.6,421.9 1693.0,429.4 1693.4,415.6 1693.8,420.8 1694.1,443.0 1694.5,422.0 1694.9,418.3 1695.3,428.5 1695.7,451.3 1696.1,417.9 1696.4,427.6 1696.8,420.0 1697.2,427.5 1697.6,391.3 1698.0,431.8 1698.3,422.6 1698.7,421.5 1699.1,415.0 1699.5,403.7 1699.9,415.7 1700.3,431.3 1700.6,410.8 1701.0,431.0 1701.4,411.3 1701.8,412.4 1702.2,428.4 1702.6,432.1 1702.9,408.4 1703.3,413.1 1703.7,412.0 1704.1,416.3 1704.5,430.1 1704.9,426.8 1705.2,415.7 1705.6,418.6 1706.0,407.1 1706.4,406.9 1706.8,435.3 1707.2,405.2 1707.5,414.5 1707.9,427.6 1708.3,384.7 1708.7,402.3 1709.1,409.6 1709.5,413.3 1709.8,381.6 1710.2,378.9 1710.6,407.5 1711.0,398.4 1711.4,417.6 1711.7,416.3 1712.1,386.0 1712.5,398.8 1712.9,384.9 1713.3,376.7 1713.7,404.8 1714.0,396.0 1714.4,415.7 1714.8,394.0 1715.2,398.7 1715.6,419.1 1716.0,396.2 1716.3,398.1 1716.7,415.6 1717.1,379.5 1717.5,385.9 1717.9,396.3 1718.3,394.2 1718.6,383.8 1719.0,392.4 1719.4,384.7 1719.8,384.6 1720.2,367.0 1720.6,394.5 1720.9,388.0 1721.3,379.3 1721.7,375.0 1722.1,374.0 1722.5,371.4 1722.9,374.9 1723.2,367.2 1723.6,354.1 1724.0,380.7 1724.4,365.2 1724.8,355.3 1725.2,368.1 1725.5,366.3 1725.9,355.3 1726.3,346.6 1726.7,341.6 1727.1,333.1 1727.4,336.7 1727.8,350.1 1728.2,341.2 1728.6,324.8 1729.0,324.1 1729.4,331.1 1729.7,319.3 1730.1,319.5 1730.5,324.1 1730.9,316.9 1731.3,301.3 1731.7,297.5 1732.0,274.3 1732.4,270.4 1732.8,264.2 1733.2,265.8 1733.6,230.8 1734.0,254.3 1734.3,235.3 1734.7,259.9 1735.1,209.3 1735.5,201.6 1735.9,191.7 1736.3,176.9 1736.6,176.7 1737.0,167.3 1737.4,158.2 1737.8,145.0 1738.2,142.4 1738.6,134.8 1738.9,110.2 1739.3,110.2 1739.7,109.4 1740.1,110.2 1740.5,111.4 1740.8,141.3 1741.2,159.7 1741.6,203.6 1742.0,202.9 1742.4,229.9 1742.8,244.9 1743.1,256.7 1743.5,271.0 1743.9,300.1 1744.3,324.5 1744.7,324.1 1745.1,347.3 1745.4,335.3 1745.8,333.6 1746.2,352.3 1746.6,363.9 1747.0,352.6 1747.4,355.7 1747.7,352.2 1748.1,406.3 1748.5,380.7 1748.9,380.8 1749.3,381.5 1749.7,373.6 1750.0,388.9 1750.4,386.2 1750.8,403.1 1751.2,407.2 1751.6,400.2 1752.0,402.0 1752.3,406.7 1752.7,414.8 1753.1,434.7 1753.5,415.2 1753.9,408.9 1754.3,423.5 1754.6,408.2 1755.0,407.8 1755.4,397.0 1755.8,432.8 1756.2,417.3 1756.5,407.4 1756.9,438.7 1757.3,422.5 1757.7,440.9 1758.1,427.3 1758.5,434.8 1758.8,442.5 1759.2,430.5 1759.6,405.3 1760.0,400.7 1760.4,418.6 1760.8,417.1 1761.1,416.1 1761.5,425.6 1761.9,415.3 1762.3,431.2 1762.7,431.2 1763.1,410.4 1763.4,425.9 1763.8,433.6 1764.2,415.4 1764.6,432.9 1765.0,426.7 1765.4,413.9 1765.7,442.4 1766.1,425.5 1766.5,432.3 1766.9,450.4 1767.3,435.5 1767.7,423.6 1768.0,423.9 1768.4,449.0 1768.8,422.2 1769.2,412.7 1769.6,446.3 1770.0,413.3 1770.3,428.8 1770.7,422.0 1771.1,459.0 1771.5,452.2 1771.9,429.3 1772.2,429.7 1772.6,451.1 1773.0,444.9 1773.4,442.8 1773.8,440.3 1774.2,434.8 1774.5,445.9 1774.9,448.2 1775.3,424.7 1775.7,445.4 1776.1,434.2 1776.5,420.6 1776.8,442.6 1777.2,429.9 1777.6,423.0 1778.0,432.8 1778.4,422.1 1778.8,450.8 1779.1,440.1 1779.5,460.0 1779.9,442.4 1780.3,440.9 1780.7,422.8 1781.1,432.1 1781.4,443.8 1781.8,441.8 1782.2,457.0 1782.6,443.1 1783.0,443.7 1783.4,434.5 1783.7,444.3 1784.1,449.5 1784.5,436.8 1784.9,439.9 1785.3,450.2 1785.6,432.2 1786.0,430.6 1786.4,447.7 1786.8,447.2 1787.2,434.5 1787.6,424.7 1787.9,432.6 1788.3,444.4 1788.7,446.3 1789.1,440.8 1789.5,449.1 1789.9,439.4 1790.2,425.5 1790.6,454.9 1791.0,453.5 1791.4,434.5 1791.8,462.8 1792.2,433.5 1792.5,456.1 1792.9,437.6 1793.3,458.2 1793.7,442.7 1794.1,455.5 1794.5,463.8 1794.8,449.3 1795.2,442.7 1795.6,440.1 1796.0,434.0 1796.4,453.6 1796.8,443.0 1797.1,445.2 1797.5,448.2 1797.9,458.7 1798.3,452.9 1798.7,437.8 1799.1,431.7 1799.4,418.3 1799.8,434.6 1800.2,434.0 1800.6,416.1 1801.0,434.7 1801.3,446.7 1801.7,438.6 1802.1,451.1 1802.5,458.1 1802.9,422.0 1803.3,442.3 1803.6,430.7 1804.0,439.0 1804.4,463.8 1804.8,439.2 1805.2,443.6 1805.6,452.6 1805.9,448.6 1806.3,449.5 1806.7,446.1 1807.1,461.9 1807.5,442.3 1807.9,456.2 1808.2,447.5 1808.6,433.7 1809.0,453.1 1809.4,435.3 1809.8,436.7 1810.2,461.0 1810.5,441.7 1810.9,459.8 1811.3,450.6 1811.7,434.9 1812.1,443.6 1812.5,459.8 1812.8,439.8 1813.2,441.5 1813.6,452.5 1814.0,437.1 1814.4,449.1 1814.7,449.3 1815.1,433.6 1815.5,422.5 1815.9,448.1 1816.3,446.0 1816.7,444.0 1817.0,462.5 1817.4,452.2 1817.8,456.2 1818.2,444.2 1818.6,442.9 1819.0,456.7 1819.3,444.0 1819.7,446.3 1820.1,443.4 1820.5,449.5 1820.9,456.2 1821.3,448.3 1821.6,442.9 1822.0,458.5 1822.4,438.7 1822.8,452.7 1823.2,451.6 1823.6,435.7 1823.9,459.8 1824.3,455.6 1824.7,449.1 1825.1,430.4 1825.5,446.1 1825.9,453.1 1826.2,433.2 1826.6,457.1 1827.0,444.6 1827.4,450.9 1827.8,436.9 1828.2,445.0 1828.5,444.7 1828.9,447.0 1829.3,449.1 1829.7,450.0 1830.1,441.2 1830.4,456.7 1830.8,437.0 1831.2,439.7 1831.6,440.4 1832.0,448.7 1832.4,432.4 1832.7,456.9 1833.1,449.1 1833.5,425.6 1833.9,446.7 1834.3,450.5 1834.7,446.8 1835.0,429.9 1835.4,460.8 1835.8,439.6 1836.2,441.6 1836.6,455.3 1837.0,456.9 1837.3,440.4 1837.7,448.1 1838.1,453.6 1838.5,439.4 1838.9,447.5 1839.3,444.2 1839.6,438.9 1840.0,456.8 1840.4,444.7 1840.8,426.3 1841.2,445.7 1841.6,433.2 1841.9,429.4 1842.3,446.1 1842.7,444.9 1843.1,416.4 1843.5,452.8 1843.8,456.8 1844.2,438.1 1844.6,440.4 1845.0,426.0 1845.4,443.6 1845.8,430.3 1846.1,431.6 1846.5,445.8 1846.9,442.6 1847.3,448.5 1847.7,444.9 1848.1,431.2 1848.4,449.6 1848.8,440.2 1849.2,434.7 1849.6,456.9 1850.0,441.0 1850.4,431.3 1850.7,439.8 1851.1,447.6 1851.5,462.2 1851.9,461.4 1852.3,417.4 1852.7,437.3 1853.0,437.4 1853.4,428.8 1853.8,451.8 1854.2,458.8 1854.6,441.3 1855.0,436.3 1855.3,452.9 1855.7,439.8 1856.1,428.7 1856.5,462.8 1856.9,449.8 1857.3,431.0 1857.6,449.0 1858.0,431.1 1858.4,443.8 1858.8,439.7 1859.2,450.2 1859.5,442.4 1859.9,458.9 1860.3,451.9 1860.7,433.2 1861.1,460.5 1861.5,461.5 1861.8,440.8 1862.2,450.6 1862.6,433.4 1863.0,446.2 1863.4,446.7 1863.8,448.5 1864.1,461.4 1864.5,443.2 1864.9,444.6 1865.3,448.6 1865.7,448.5 1866.1,445.0 1866.4,441.7 1866.8,438.1 1867.2,450.0 1867.6,435.8 1868.0,444.8 1868.4,430.4 1868.7,460.1 1869.1,437.1 1869.5,444.5 1869.9,441.2 1870.3,461.1 1870.7,451.7 1871.0,462.2 1871.4,427.8 1871.8,437.4 1872.2,456.7 1872.6,447.5 1873.0,448.8 1873.3,445.0 1873.7,454.2 1874.1,448.1 1874.5,444.3 1874.9,449.5 1875.2,455.9 1875.6,423.4 1876.0,444.6 1876.4,433.2 1876.8,439.3 1877.2,454.0 1877.5,435.8 1877.9,452.7 1878.3,435.3 1878.7,447.4 1879.1,449.6 1879.5,438.5 1879.8,450.2 1880.2,408.8 1880.6,458.2 1881.0,462.0 1881.4,435.4 1881.8,448.9 1882.1,435.0 1882.5,437.3 1882.9,431.6 1883.3,415.0 1883.7,450.1 1884.1,440.1 1884.4,430.7 1884.8,434.1 1885.2,450.6 1885.6,435.5 1886.0,441.0 1886.4,464.6 1886.7,429.2 1887.1,440.1 1887.5,439.3 1887.9,441.4 1888.3,451.3 1888.6,451.9 1889.0,423.1 1889.4,444.7 1889.8,457.4 1890.2,450.5 1890.6,444.8 1890.9,435.3 1891.3,429.6 1891.7,455.7 1892.1,445.3 1892.5,464.3 1892.9,425.2 1893.2,436.2 1893.6,446.8 1894.0,425.0 1894.4,446.0 1894.8,457.6 1895.2,446.5 1895.5,454.9 1895.9,431.8 1896.3,440.7 1896.7,450.5 1897.1,453.1 1897.5,445.3 1897.8,448.1 1898.2,451.5 1898.6,418.5 1899.0,454.2 1899.4,438.7 1899.8,451.9 1900.1,445.8 1900.5,432.4 1900.9,438.1 1901.3,449.6 1901.7,449.5 1902.1,436.4 1902.4,422.3 1902.8,450.8 1903.2,442.6 1903.6,432.5 1904.0,418.5 1904.3,438.8 1904.7,450.3 1905.1,452.1 1905.5,448.1 1905.9,436.0 1906.3,438.7 1906.6,449.9 1907.0,448.2 1907.4,445.0 1907.8,455.1 1908.2,439.0 1908.6,441.9 1908.9,426.8 1909.3,438.2 1909.7,448.8 1910.1,448.8 1910.5,447.9 1910.9,441.3 1911.2,443.6 1911.6,450.4 1912.0,405.5 1912.4,446.0 1912.8,464.4 1913.2,413.5 1913.5,429.3 1913.9,463.3 1914.3,451.2 1914.7,446.1 1915.1,460.0 1915.5,438.7 1915.8,454.4 1916.2,451.6 1916.6,427.6 1917.0,447.4 1917.4,440.1 1917.7,459.5 1918.1,448.1 1918.5,437.4 1918.9,429.2 1919.3,453.0 1919.7,445.2 1920.0,414.1 1920.4,445.4 1920.8,453.4 1921.2,446.7 1921.6,428.2 1922.0,455.1 1922.3,448.1 1922.7,454.4 1923.1,440.9 1923.5,429.1 1923.9,443.3 1924.3,426.5 1924.6,457.0 1925.0,442.1 1925.4,429.5 1925.8,432.2 1926.2,429.2 1926.6,442.4 1926.9,440.2 1927.3,421.8 1927.7,438.8 1928.1,434.2 1928.5,443.5 1928.9,430.5 1929.2,437.2 1929.6,429.6 1930.0,434.4 1930.4,448.0 1930.8,446.8 1931.2,436.3 1931.5,431.1 1931.9,442.7 1932.3,408.1 1932.7,421.8 1933.1,443.4 1933.4,452.0 1933.8,433.9 1934.2,441.0 1934.6,432.6 1935.0,440.1 1935.4,441.0 1935.7,443.3 1936.1,432.3 1936.5,442.3 1936.9,446.8 1937.3,434.6 1937.7,444.8 1938.0,447.0 1938.4,455.3 1938.8,442.8 1939.2,454.4 1939.6,423.5 1940.0,427.5 1940.3,441.3 1940.7,448.4 1941.1,435.9 1941.5,440.7 1941.9,423.4 1942.3,440.7 1942.6,433.1 1943.0,421.6 1943.4,422.2 1943.8,402.9 1944.2,425.4 1944.6,433.2 1944.9,450.6 1945.3,446.4 1945.7,405.8 1946.1,438.5 1946.5,442.0 1946.8,444.1 1947.2,432.4 1947.6,438.7 1948.0,457.2 1948.4,435.6 1948.8,433.7 1949.1,455.8 1949.5,430.2 1949.9,457.8 1950.3,432.8 1950.7,418.8 1951.1,439.4 1951.4,447.6 1951.8,431.7 1952.2,418.1 1952.6,433.0 1953.0,453.7 1953.4,430.5 1953.7,429.6 1954.1,424.3 1954.5,433.7 1954.9,437.9 1955.3,456.2 1955.7,444.2 1956.0,443.0 1956.4,462.2 1956.8,448.5 1957.2,440.1 1957.6,457.9 1958.0,442.5 1958.3,428.8 1958.7,420.6 1959.1,442.4 1959.5,448.2 1959.9,431.8 1960.3,418.5 1960.6,440.3 1961.0,447.4 1961.4,463.9" fill="none" stroke="#0066ff" stroke-width="4.17" stroke-linejoin="round" stroke-linecap="round"/>
<g font-size="45.83" fill="#262626">
<text x="1196.80" y="523.00" text-anchor="middle">109</text>
<text x="1388.25" y="523.00" text-anchor="middle">109.1</text>
<text x="1579.70" y="523.00" text-anchor="middle">109.2</text>
<text x="1771.15" y="523.00" text-anchor="middle">109.3</text>
<text x="1962.60" y="523.00" text-anchor="middle">109.4</text>
<text x="1181.60" y="481.90" text-anchor="end">0</text>
<text x="1181.60" y="383.07" text-anchor="end">0.5</text>
<text x="1181.60" y="284.25" text-anchor="end">1</text>
<text x="1181.60" y="185.42" text-anchor="end">1.5</text>
<text x="1181.60" y="86.60" text-anchor="end">2</text>
</g>
<text x="1578.50" y="580.00" font-size="50.4" fill="#262626" text-anchor="middle">Frequency (kHz)</text>
<text transform="translate(1107.30,268.85) rotate(-90)" font-size="50.4" fill="#404040" text-anchor="middle">Amplitude (V)</text>
<g fill="#262626"><text x="1199.10" y="67.10" font-size="51.3">×</text><text x="1230.00" y="61.20" font-size="45.83">10</text><text x="1277.60" y="39.10" font-size="36.66">-4</text></g>
<text x="1036.5" y="73.5" font-size="58.3" fill="#000">(b)</text>
<g stroke="#212121" stroke-width="4.6" fill="none" stroke-linecap="butt">
<rect x="168.5" y="671.3" width="766.10" height="395.70"/>
<path d="M360.02,1067.0v-9.8M360.02,671.3v9.8M551.55,1067.0v-9.8M551.55,671.3v9.8M743.07,1067.0v-9.8M743.07,671.3v9.8M168.5,935.10h9.8M934.6,935.10h-9.8M168.5,803.20h9.8M934.6,803.20h-9.8"/>
</g>
<polyline clip-path="url(#cpc)" points="168.5,736.6 168.9,728.8 169.3,743.8 169.6,740.1 170.0,741.8 170.4,737.0 170.8,732.0 171.2,740.6 171.6,731.5 171.9,737.6 172.3,739.2 172.7,737.7 173.1,726.3 173.5,728.0 173.9,726.4 174.2,720.5 174.6,743.3 175.0,727.2 175.4,736.4 175.8,743.7 176.2,736.5 176.5,738.2 176.9,722.1 177.3,736.6 177.7,729.5 178.1,740.6 178.5,740.4 178.8,743.0 179.2,727.4 179.6,735.2 180.0,736.6 180.4,746.8 180.8,737.5 181.1,742.5 181.5,740.4 181.9,748.8 182.3,732.6 182.7,723.7 183.1,736.4 183.4,736.9 183.8,717.1 184.2,740.6 184.6,743.5 185.0,746.0 185.4,742.3 185.7,732.1 186.1,740.8 186.5,739.7 186.9,739.1 187.3,740.2 187.7,725.6 188.0,727.9 188.4,738.9 188.8,739.4 189.2,730.8 189.6,727.1 190.0,740.9 190.3,741.2 190.7,733.4 191.1,747.6 191.5,729.8 191.9,731.1 192.2,733.6 192.6,732.6 193.0,728.3 193.4,744.7 193.8,726.0 194.2,728.7 194.5,744.1 194.9,740.2 195.3,722.2 195.7,744.6 196.1,728.2 196.5,739.7 196.8,726.2 197.2,728.2 197.6,731.1 198.0,728.0 198.4,739.3 198.8,728.2 199.1,737.8 199.5,744.1 199.9,736.6 200.3,730.0 200.7,732.3 201.1,723.9 201.4,721.4 201.8,734.3 202.2,739.7 202.6,742.3 203.0,727.0 203.4,738.6 203.7,741.3 204.1,742.1 204.5,733.8 204.9,742.4 205.3,745.4 205.7,739.7 206.0,752.2 206.4,731.7 206.8,733.8 207.2,722.6 207.6,729.8 208.0,733.5 208.3,730.6 208.7,738.3 209.1,749.9 209.5,746.1 209.9,732.8 210.3,735.1 210.6,729.6 211.0,734.3 211.4,727.7 211.8,745.6 212.2,722.7 212.6,736.1 212.9,734.2 213.3,725.3 213.7,740.3 214.1,744.0 214.5,742.0 214.8,730.5 215.2,740.2 215.6,718.8 216.0,716.6 216.4,742.5 216.8,734.1 217.1,734.0 217.5,737.3 217.9,731.9 218.3,736.2 218.7,747.4 219.1,719.7 219.4,752.0 219.8,731.8 220.2,739.4 220.6,730.0 221.0,742.8 221.4,733.9 221.7,745.2 222.1,736.9 222.5,735.0 222.9,732.7 223.3,740.1 223.7,737.7 224.0,737.5 224.4,737.1 224.8,736.6 225.2,731.1 225.6,735.0 226.0,728.0 226.3,731.0 226.7,732.0 227.1,725.3 227.5,747.5 227.9,723.6 228.3,739.2 228.6,749.3 229.0,727.2 229.4,728.4 229.8,736.5 230.2,737.8 230.6,745.9 230.9,745.5 231.3,734.6 231.7,724.8 232.1,735.2 232.5,733.2 232.9,741.5 233.2,736.5 233.6,737.8 234.0,735.0 234.4,740.4 234.8,740.2 235.2,742.8 235.5,727.8 235.9,736.7 236.3,732.8 236.7,738.4 237.1,725.3 237.4,730.2 237.8,733.8 238.2,722.1 238.6,732.9 239.0,729.4 239.4,732.9 239.7,734.4 240.1,726.6 240.5,738.2 240.9,736.5 241.3,729.9 241.7,736.6 242.0,738.4 242.4,744.0 242.8,735.1 243.2,734.5 243.6,718.0 244.0,743.8 244.3,732.3 244.7,742.5 245.1,732.3 245.5,740.6 245.9,731.9 246.3,738.8 246.6,742.6 247.0,727.4 247.4,736.3 247.8,733.9 248.2,737.8 248.6,733.2 248.9,730.8 249.3,747.0 249.7,734.2 250.1,745.4 250.5,737.0 250.9,736.9 251.2,738.1 251.6,736.3 252.0,732.1 252.4,732.8 252.8,731.3 253.2,742.5 253.5,743.7 253.9,744.3 254.3,732.4 254.7,727.6 255.1,734.9 255.5,746.7 255.8,736.0 256.2,740.4 256.6,739.5 257.0,734.5 257.4,739.5 257.8,739.9 258.1,738.7 258.5,724.9 258.9,730.9 259.3,728.4 259.7,742.7 260.0,742.8 260.4,739.1 260.8,727.0 261.2,743.6 261.6,742.4 262.0,748.0 262.3,737.4 262.7,731.5 263.1,731.6 263.5,750.9 263.9,744.1 264.3,737.5 264.6,731.0 265.0,734.4 265.4,742.1 265.8,733.2 266.2,729.9 266.6,742.0 266.9,738.4 267.3,729.5 267.7,728.1 268.1,746.3 268.5,738.3 268.9,739.7 269.2,735.4 269.6,729.7 270.0,743.4 270.4,746.2 270.8,739.6 271.2,737.3 271.5,745.2 271.9,734.1 272.3,736.8 272.7,735.3 273.1,742.8 273.5,740.4 273.8,739.0 274.2,740.3 274.6,741.4 275.0,733.9 275.4,731.1 275.8,741.9 276.1,744.3 276.5,737.2 276.9,731.8 277.3,739.6 277.7,738.7 278.1,731.6 278.4,738.6 278.8,742.2 279.2,734.7 279.6,746.9 280.0,738.7 280.4,731.2 280.7,730.5 281.1,739.5 281.5,734.8 281.9,735.9 282.3,735.0 282.6,737.2 283.0,738.9 283.4,731.8 283.8,741.3 284.2,737.4 284.6,733.7 284.9,737.4 285.3,721.8 285.7,727.7 286.1,737.9 286.5,736.6 286.9,734.5 287.2,752.1 287.6,738.9 288.0,749.6 288.4,733.9 288.8,737.9 289.2,724.7 289.5,738.9 289.9,740.1 290.3,741.7 290.7,725.2 291.1,736.0 291.5,727.0 291.8,737.3 292.2,745.4 292.6,740.7 293.0,729.4 293.4,725.7 293.8,729.6 294.1,735.1 294.5,735.1 294.9,738.6 295.3,733.3 295.7,733.7 296.1,743.7 296.4,740.4 296.8,737.2 297.2,733.8 297.6,727.4 298.0,725.9 298.4,731.7 298.7,735.5 299.1,735.0 299.5,736.0 299.9,725.2 300.3,737.8 300.7,735.3 301.0,734.8 301.4,729.3 301.8,736.4 302.2,733.5 302.6,737.6 303.0,723.7 303.3,735.9 303.7,737.9 304.1,728.4 304.5,746.5 304.9,727.7 305.2,744.1 305.6,733.2 306.0,729.5 306.4,742.7 306.8,732.1 307.2,739.5 307.5,736.1 307.9,735.0 308.3,739.2 308.7,740.0 309.1,737.9 309.5,730.6 309.8,739.3 310.2,728.0 310.6,718.7 311.0,735.5 311.4,730.5 311.8,730.7 312.1,734.1 312.5,732.9 312.9,728.5 313.3,736.6 313.7,731.1 314.1,744.3 314.4,729.4 314.8,730.3 315.2,733.7 315.6,741.6 316.0,738.6 316.4,741.7 316.7,737.5 317.1,741.9 317.5,737.9 317.9,737.6 318.3,729.7 318.7,731.5 319.0,726.6 319.4,731.1 319.8,729.8 320.2,731.9 320.6,725.5 321.0,732.4 321.3,742.1 321.7,729.3 322.1,742.6 322.5,736.2 322.9,734.6 323.3,727.3 323.6,735.9 324.0,741.2 324.4,737.4 324.8,741.1 325.2,732.3 325.6,738.3 325.9,732.5 326.3,728.3 326.7,736.5 327.1,730.9 327.5,730.5 327.8,752.1 328.2,741.5 328.6,737.5 329.0,743.3 329.4,732.1 329.8,744.2 330.1,740.7 330.5,735.7 330.9,744.7 331.3,736.2 331.7,728.7 332.1,751.1 332.4,732.2 332.8,744.7 333.2,743.9 333.6,735.5 334.0,732.6 334.4,736.3 334.7,730.5 335.1,735.3 335.5,738.4 335.9,734.5 336.3,737.2 336.7,734.3 337.0,731.9 337.4,722.7 337.8,728.5 338.2,733.8 338.6,739.2 339.0,723.5 339.3,730.5 339.7,737.8 340.1,733.7 340.5,743.9 340.9,730.2 341.3,736.8 341.6,729.9 342.0,735.5 342.4,733.7 342.8,727.4 343.2,738.3 343.6,732.1 343.9,735.1 344.3,722.4 344.7,734.4 345.1,726.4 345.5,742.0 345.9,736.3 346.2,736.6 346.6,736.1 347.0,734.1 347.4,732.5 347.8,738.6 348.2,734.0 348.5,722.8 348.9,733.6 349.3,744.5 349.7,734.1 350.1,736.5 350.4,727.8 350.8,735.8 351.2,731.6 351.6,729.7 352.0,737.2 352.4,718.7 352.7,729.5 353.1,741.4 353.5,742.0 353.9,734.1 354.3,730.8 354.7,734.5 355.0,740.6 355.4,737.3 355.8,740.3 356.2,728.1 356.6,736.7 357.0,729.0 357.3,732.1 357.7,731.1 358.1,735.6 358.5,737.3 358.9,738.6 359.3,738.2 359.6,743.9 360.0,740.1 360.4,730.9 360.8,725.6 361.2,742.1 361.6,735.6 361.9,730.5 362.3,732.7 362.7,724.9 363.1,728.0 363.5,736.2 363.9,732.7 364.2,742.5 364.6,737.6 365.0,737.4 365.4,736.1 365.8,742.4 366.2,729.8 366.5,738.0 366.9,741.7 367.3,751.8 367.7,743.1 368.1,743.7 368.5,738.0 368.8,723.1 369.2,744.5 369.6,726.1 370.0,736.1 370.4,741.6 370.8,733.2 371.1,742.2 371.5,732.1 371.9,733.6 372.3,737.6 372.7,734.9 373.0,732.2 373.4,736.8 373.8,734.8 374.2,744.3 374.6,748.7 375.0,735.5 375.3,741.4 375.7,735.5 376.1,739.4 376.5,732.6 376.9,742.3 377.3,734.6 377.6,730.7 378.0,732.3 378.4,738.8 378.8,740.3 379.2,728.9 379.6,737.8 379.9,737.5 380.3,735.0 380.7,737.9 381.1,743.0 381.5,721.0 381.9,732.4 382.2,748.2 382.6,737.5 383.0,734.9 383.4,731.0 383.8,735.0 384.2,742.3 384.5,739.5 384.9,733.5 385.3,729.5 385.7,734.1 386.1,737.5 386.5,730.0 386.8,727.3 387.2,734.8 387.6,732.5 388.0,733.5 388.4,728.6 388.8,741.4 389.1,732.6 389.5,740.3 389.9,739.3 390.3,739.4 390.7,734.0 391.1,733.2 391.4,730.9 391.8,742.6 392.2,743.9 392.6,736.0 393.0,735.8 393.4,729.8 393.7,733.2 394.1,740.2 394.5,727.6 394.9,742.3 395.3,740.4 395.6,724.0 396.0,732.7 396.4,748.3 396.8,733.2 397.2,734.8 397.6,732.1 397.9,744.0 398.3,738.1 398.7,744.8 399.1,738.3 399.5,735.7 399.9,732.8 400.2,744.3 400.6,737.0 401.0,728.2 401.4,737.3 401.8,728.6 402.2,731.7 402.5,747.0 402.9,734.4 403.3,732.1 403.7,740.5 404.1,732.4 404.5,731.9 404.8,748.2 405.2,741.0 405.6,738.7 406.0,731.8 406.4,737.1 406.8,737.4 407.1,736.3 407.5,739.7 407.9,737.2 408.3,725.9 408.7,733.4 409.1,729.0 409.4,723.6 409.8,733.9 410.2,740.4 410.6,733.6 411.0,737.5 411.4,727.4 411.7,735.7 412.1,741.8 412.5,737.4 412.9,731.4 413.3,738.1 413.7,744.7 414.0,742.6 414.4,738.8 414.8,736.2 415.2,735.3 415.6,735.9 416.0,729.1 416.3,740.1 416.7,735.8 417.1,737.4 417.5,735.4 417.9,746.2 418.2,740.0 418.6,747.8 419.0,728.6 419.4,728.3 419.8,738.8 420.2,726.1 420.5,738.1 420.9,742.7 421.3,735.5 421.7,727.1 422.1,740.6 422.5,742.1 422.8,730.2 423.2,734.8 423.6,740.8 424.0,725.2 424.4,729.9 424.8,737.1 425.1,737.8 425.5,734.1 425.9,735.0 426.3,742.3 426.7,736.2 427.1,728.7 427.4,736.1 427.8,744.4 428.2,735.8 428.6,739.9 429.0,738.9 429.4,733.6 429.7,732.6 430.1,741.5 430.5,730.3 430.9,739.2 431.3,718.9 431.7,732.0 432.0,738.1 432.4,740.2 432.8,733.5 433.2,732.2 433.6,732.0 434.0,729.1 434.3,724.9 434.7,742.5 435.1,744.4 435.5,730.0 435.9,737.4 436.3,731.6 436.6,734.7 437.0,744.4 437.4,743.8 437.8,730.2 438.2,750.1 438.6,728.3 438.9,736.6 439.3,733.3 439.7,745.6 440.1,730.5 440.5,739.6 440.8,752.3 441.2,728.9 441.6,745.5 442.0,734.7 442.4,736.1 442.8,734.4 443.1,733.8 443.5,737.5 443.9,733.2 444.3,729.2 444.7,729.9 445.1,731.9 445.4,739.3 445.8,734.3 446.2,741.4 446.6,737.7 447.0,745.5 447.4,730.0 447.7,728.8 448.1,734.6 448.5,740.6 448.9,721.1 449.3,745.4 449.7,742.6 450.0,742.2 450.4,735.3 450.8,739.7 451.2,734.5 451.6,727.5 452.0,735.1 452.3,733.4 452.7,742.7 453.1,732.5 453.5,734.1 453.9,726.4 454.3,744.2 454.6,721.6 455.0,727.4 455.4,732.0 455.8,733.9 456.2,733.5 456.6,729.1 456.9,735.8 457.3,732.0 457.7,735.9 458.1,732.4 458.5,735.8 458.9,730.7 459.2,734.7 459.6,735.6 460.0,727.8 460.4,738.7 460.8,731.2 461.2,728.9 461.5,735.4 461.9,735.6 462.3,742.1 462.7,733.2 463.1,736.7 463.4,733.7 463.8,742.5 464.2,731.6 464.6,721.9 465.0,741.6 465.4,736.1 465.7,726.9 466.1,732.8 466.5,739.2 466.9,733.7 467.3,739.0 467.7,741.3 468.0,740.5 468.4,739.3 468.8,747.3 469.2,732.4 469.6,734.7 470.0,731.0 470.3,733.0 470.7,738.0 471.1,742.7 471.5,735.8 471.9,735.7 472.3,739.9 472.6,733.7 473.0,740.9 473.4,735.9 473.8,730.9 474.2,731.0 474.6,733.9 474.9,722.5 475.3,733.7 475.7,728.8 476.1,740.2 476.5,723.0 476.9,742.1 477.2,732.3 477.6,724.9 478.0,733.0 478.4,736.2 478.8,742.6 479.2,737.9 479.5,742.1 479.9,737.9 480.3,728.7 480.7,726.1 481.1,738.5 481.5,746.6 481.8,734.2 482.2,723.2 482.6,728.7 483.0,732.2 483.4,732.7 483.8,730.9 484.1,743.8 484.5,739.2 484.9,734.5 485.3,740.9 485.7,748.0 486.0,748.9 486.4,730.4 486.8,739.7 487.2,736.2 487.6,736.3 488.0,736.0 488.3,741.9 488.7,737.1 489.1,730.8 489.5,741.6 489.9,742.5 490.3,741.4 490.6,738.4 491.0,729.4 491.4,743.5 491.8,745.3 492.2,743.6 492.6,738.4 492.9,741.5 493.3,730.5 493.7,748.2 494.1,729.5 494.5,746.7 494.9,737.7 495.2,738.9 495.6,742.4 496.0,744.7 496.4,733.9 496.8,741.4 497.2,744.7 497.5,736.4 497.9,739.2 498.3,741.8 498.7,747.1 499.1,744.1 499.5,736.2 499.8,739.1 500.2,731.4 500.6,736.0 501.0,742.4 501.4,748.7 501.8,737.5 502.1,754.2 502.5,757.1 502.9,749.9 503.3,749.2 503.7,757.4 504.1,760.3 504.4,745.1 504.8,752.9 505.2,747.8 505.6,751.5 506.0,753.5 506.4,750.2 506.7,755.2 507.1,750.6 507.5,762.2 507.9,762.4 508.3,766.7 508.6,770.4 509.0,767.3 509.4,791.3 509.8,783.0 510.2,793.9 510.6,801.4 510.9,815.9 511.3,822.9 511.7,828.0 512.1,841.9 512.5,848.0 512.9,860.9 513.2,863.8 513.6,876.8 514.0,891.3 514.4,901.5 514.8,912.6 515.2,926.6 515.5,938.8 515.9,947.5 516.3,962.8 516.7,969.1 517.1,983.6 517.5,993.5 517.8,996.4 518.2,998.6 518.6,993.0 519.0,983.4 519.4,971.4 519.8,962.2 520.1,947.7 520.5,936.2 520.9,925.0 521.3,913.2 521.7,901.3 522.1,890.8 522.4,875.8 522.8,868.7 523.2,861.8 523.6,850.4 524.0,835.0 524.4,828.8 524.7,818.6 525.1,816.4 525.5,803.3 525.9,794.9 526.3,798.5 526.7,782.2 527.0,781.8 527.4,761.5 527.8,767.8 528.2,751.8 528.6,753.6 529.0,766.3 529.3,751.1 529.7,750.5 530.1,750.8 530.5,756.9 530.9,740.1 531.2,753.8 531.6,751.9 532.0,744.5 532.4,742.7 532.8,750.0 533.2,741.0 533.5,745.6 533.9,749.0 534.3,746.0 534.7,748.8 535.1,745.0 535.5,741.8 535.8,733.9 536.2,741.4 536.6,742.0 537.0,747.7 537.4,734.4 537.8,738.2 538.1,736.7 538.5,732.6 538.9,737.1 539.3,735.8 539.7,746.4 540.1,747.6 540.4,746.1 540.8,746.0 541.2,742.3 541.6,745.7 542.0,738.3 542.4,731.0 542.7,747.6 543.1,739.1 543.5,750.5 543.9,743.5 544.3,732.8 544.7,747.7 545.0,733.7 545.4,735.2 545.8,736.3 546.2,735.9 546.6,736.5 547.0,753.9 547.3,737.0 547.7,735.4 548.1,724.9 548.5,739.4 548.9,737.5 549.3,732.8 549.6,722.2 550.0,742.1 550.4,738.8 550.8,728.7 551.2,731.3 551.5,748.3 551.9,726.8 552.3,730.7 552.7,736.6 553.1,752.2 553.5,739.0 553.8,731.0 554.2,736.2 554.6,748.8 555.0,738.7 555.4,743.2 555.8,735.9 556.1,733.6 556.5,729.2 556.9,742.4 557.3,741.0 557.7,732.2 558.1,722.1 558.4,758.5 558.8,724.4 559.2,740.1 559.6,741.2 560.0,730.8 560.4,728.3 560.7,744.3 561.1,727.2 561.5,740.3 561.9,737.2 562.3,732.7 562.7,739.2 563.0,739.4 563.4,730.9 563.8,745.6 564.2,758.4 564.6,741.8 565.0,738.3 565.3,723.6 565.7,728.7 566.1,720.5 566.5,735.1 566.9,749.9 567.3,748.5 567.6,727.7 568.0,739.8 568.4,740.6 568.8,739.3 569.2,728.3 569.6,739.1 569.9,742.3 570.3,738.8 570.7,745.8 571.1,749.2 571.5,739.7 571.9,742.5 572.2,738.8 572.6,732.1 573.0,722.0 573.4,735.1 573.8,731.5 574.1,719.4 574.5,737.1 574.9,733.7 575.3,730.5 575.7,740.8 576.1,748.0 576.4,740.1 576.8,725.5 577.2,745.6 577.6,717.4 578.0,730.2 578.4,741.9 578.7,738.1 579.1,725.9 579.5,730.5 579.9,739.2 580.3,727.3 580.7,724.8 581.0,736.4 581.4,740.4 581.8,754.5 582.2,735.9 582.6,751.6 583.0,741.4 583.3,721.8 583.7,735.1 584.1,729.1 584.5,730.0 584.9,742.3 585.3,727.5 585.6,742.4 586.0,745.4 586.4,738.6 586.8,744.0 587.2,740.5 587.6,733.6 587.9,748.6 588.3,739.9 588.7,737.2 589.1,734.1 589.5,742.3 589.9,734.9 590.2,736.2 590.6,745.4 591.0,743.0 591.4,722.7 591.8,734.2 592.2,728.9 592.5,725.4 592.9,733.1 593.3,737.7 593.7,733.1 594.1,731.2 594.5,742.6 594.8,719.6 595.2,731.3 595.6,733.5 596.0,732.0 596.4,734.5 596.7,731.0 597.1,733.6 597.5,728.3 597.9,743.3 598.3,732.3 598.7,735.5 599.0,734.6 599.4,735.8 599.8,730.5 600.2,738.7 600.6,730.1 601.0,734.9 601.3,732.8 601.7,739.9 602.1,733.1 602.5,728.5 602.9,735.1 603.3,734.8 603.6,732.5 604.0,731.2 604.4,727.6 604.8,737.7 605.2,735.9 605.6,736.9 605.9,741.5 606.3,734.3 606.7,738.3 607.1,724.6 607.5,740.0 607.9,740.4 608.2,741.5 608.6,722.8 609.0,732.3 609.4,735.9 609.8,728.1 610.2,737.5 610.5,737.6 610.9,734.9 611.3,749.3 611.7,743.1 612.1,734.1 612.5,738.3 612.8,744.6 613.2,734.6 613.6,730.5 614.0,743.6 614.4,730.5 614.8,733.2 615.1,740.6 615.5,726.2 615.9,730.6 616.3,742.6 616.7,736.2 617.1,731.4 617.4,729.5 617.8,731.1 618.2,727.0 618.6,736.1 619.0,720.3 619.3,740.4 619.7,741.8 620.1,738.0 620.5,730.7 620.9,743.7 621.3,728.8 621.6,727.5 622.0,745.0 622.4,732.4 622.8,733.7 623.2,737.6 623.6,731.4 623.9,719.1 624.3,734.3 624.7,731.9 625.1,732.3 625.5,743.0 625.9,742.6 626.2,742.6 626.6,730.0 627.0,728.0 627.4,738.0 627.8,739.9 628.2,746.1 628.5,734.2 628.9,732.6 629.3,731.6 629.7,744.1 630.1,727.8 630.5,735.4 630.8,731.5 631.2,738.1 631.6,735.5 632.0,729.4 632.4,740.2 632.8,735.7 633.1,729.2 633.5,740.1 633.9,729.6 634.3,739.0 634.7,729.7 635.1,729.4 635.4,727.7 635.8,730.5 636.2,739.7 636.6,728.9 637.0,737.6 637.4,747.7 637.7,734.5 638.1,726.7 638.5,739.3 638.9,735.5 639.3,730.8 639.7,743.0 640.0,738.7 640.4,747.0 640.8,745.6 641.2,729.2 641.6,738.4 641.9,745.7 642.3,737.6 642.7,740.8 643.1,734.2 643.5,727.1 643.9,735.6 644.2,749.3 644.6,737.3 645.0,745.5 645.4,733.5 645.8,733.5 646.2,733.8 646.5,732.6 646.9,742.1 647.3,734.6 647.7,735.2 648.1,742.1 648.5,737.7 648.8,729.8 649.2,738.9 649.6,737.9 650.0,752.8 650.4,729.5 650.8,732.3 651.1,743.0 651.5,741.9 651.9,724.3 652.3,741.0 652.7,740.7 653.1,729.2 653.4,741.9 653.8,730.4 654.2,738.3 654.6,735.8 655.0,730.3 655.4,730.2 655.7,732.9 656.1,743.7 656.5,729.7 656.9,735.4 657.3,736.8 657.7,739.6 658.0,728.9 658.4,733.7 658.8,732.2 659.2,745.8 659.6,742.9 660.0,733.5 660.3,739.3 660.7,741.4 661.1,736.8 661.5,736.8 661.9,731.8 662.3,728.0 662.6,727.2 663.0,736.5 663.4,722.1 663.8,734.9 664.2,741.3 664.5,733.5 664.9,738.7 665.3,729.2 665.7,738.7 666.1,738.0 666.5,740.9 666.8,745.9 667.2,738.6 667.6,731.4 668.0,738.3 668.4,729.3 668.8,746.1 669.1,734.0 669.5,735.3 669.9,727.1 670.3,728.2 670.7,730.1 671.1,741.6 671.4,741.5 671.8,738.5 672.2,732.2 672.6,738.7 673.0,732.1 673.4,738.8 673.7,744.0 674.1,742.8 674.5,728.1 674.9,732.9 675.3,746.5 675.7,741.3 676.0,732.7 676.4,731.2 676.8,730.5 677.2,736.0 677.6,733.1 678.0,731.6 678.3,733.7 678.7,729.3 679.1,733.5 679.5,731.0 679.9,736.1 680.3,744.7 680.6,737.2 681.0,733.2 681.4,737.1 681.8,726.0 682.2,734.2 682.6,732.8 682.9,736.7 683.3,730.3 683.7,727.4 684.1,724.6 684.5,735.6 684.9,737.0 685.2,741.1 685.6,740.4 686.0,745.2 686.4,735.7 686.8,743.4 687.1,735.2 687.5,738.2 687.9,752.2 688.3,729.7 688.7,744.2 689.1,733.1 689.4,737.1 689.8,738.1 690.2,741.2 690.6,728.6 691.0,736.2 691.4,738.1 691.7,739.9 692.1,745.3 692.5,743.3 692.9,746.4 693.3,741.3 693.7,730.1 694.0,729.5 694.4,743.2 694.8,746.7 695.2,746.3 695.6,733.1 696.0,741.7 696.3,748.1 696.7,743.6 697.1,737.4 697.5,741.3 697.9,749.7 698.3,745.8 698.6,743.9 699.0,752.7 699.4,747.5 699.8,735.2 700.2,747.3 700.6,737.9 700.9,744.2 701.3,748.8 701.7,750.6 702.1,757.8 702.5,750.4 702.9,756.4 703.2,751.5 703.6,760.8 704.0,765.3 704.4,770.9 704.8,770.2 705.2,779.5 705.5,787.0 705.9,792.4 706.3,801.2 706.7,813.7 707.1,817.3 707.5,825.9 707.8,826.2 708.2,840.7 708.6,851.0 709.0,855.9 709.4,867.6 709.7,880.7 710.1,891.6 710.5,897.4 710.9,915.9 711.3,919.7 711.7,931.6 712.0,944.5 712.4,954.7 712.8,961.6 713.2,967.9 713.6,975.0 714.0,967.9 714.3,961.5 714.7,953.2 715.1,944.5 715.5,935.1 715.9,924.0 716.3,911.7 716.6,901.3 717.0,893.7 717.4,875.8 717.8,866.8 718.2,862.5 718.6,847.1 718.9,840.7 719.3,832.7 719.7,829.3 720.1,818.7 720.5,809.7 720.9,804.6 721.2,791.2 721.6,793.3 722.0,782.0 722.4,775.5 722.8,776.8 723.2,748.8 723.5,756.1 723.9,750.7 724.3,749.6 724.7,756.3 725.1,749.2 725.5,749.0 725.8,757.3 726.2,746.9 726.6,741.1 727.0,742.2 727.4,757.0 727.8,740.2 728.1,730.8 728.5,736.5 728.9,748.5 729.3,759.2 729.7,744.0 730.1,755.3 730.4,741.8 730.8,751.8 731.2,740.1 731.6,742.9 732.0,730.4 732.3,739.1 732.7,738.1 733.1,734.9 733.5,739.6 733.9,739.4 734.3,747.6 734.6,747.8 735.0,736.9 735.4,744.8 735.8,730.9 736.2,749.7 736.6,739.2 736.9,744.4 737.3,731.9 737.7,739.9 738.1,746.9 738.5,731.0 738.9,738.6 739.2,751.5 739.6,746.7 740.0,744.2 740.4,738.1 740.8,743.6 741.2,747.2 741.5,734.2 741.9,735.4 742.3,754.1 742.7,743.6 743.1,736.3 743.5,733.2 743.8,749.6 744.2,743.7 744.6,724.7 745.0,735.7 745.4,726.7 745.8,761.0 746.1,720.8 746.5,742.0 746.9,746.1 747.3,736.5 747.7,734.1 748.1,727.3 748.4,743.3 748.8,731.6 749.2,730.6 749.6,730.5 750.0,746.5 750.4,746.3 750.7,734.8 751.1,733.2 751.5,727.6 751.9,735.9 752.3,731.4 752.7,736.1 753.0,735.4 753.4,741.1 753.8,738.5 754.2,725.5 754.6,738.5 754.9,738.1 755.3,737.1 755.7,737.0 756.1,742.3 756.5,718.9 756.9,748.7 757.2,748.9 757.6,732.2 758.0,751.9 758.4,743.2 758.8,735.5 759.2,736.9 759.5,727.8 759.9,734.9 760.3,734.7 760.7,734.3 761.1,741.3 761.5,732.4 761.8,738.3 762.2,728.5 762.6,732.8 763.0,744.9 763.4,736.7 763.8,730.6 764.1,743.1 764.5,740.6 764.9,727.6 765.3,743.9 765.7,730.7 766.1,735.4 766.4,734.7 766.8,755.0 767.2,741.0 767.6,737.2 768.0,732.6 768.4,743.5 768.7,732.4 769.1,727.4 769.5,726.8 769.9,732.2 770.3,746.0 770.7,748.2 771.0,731.0 771.4,722.6 771.8,739.1 772.2,742.5 772.6,737.9 773.0,736.0 773.3,744.0 773.7,735.0 774.1,728.8 774.5,736.4 774.9,741.6 775.3,727.2 775.6,747.7 776.0,725.0 776.4,734.9 776.8,737.6 777.2,732.2 777.5,751.0 777.9,742.2 778.3,746.3 778.7,739.1 779.1,738.3 779.5,730.0 779.8,734.1 780.2,736.9 780.6,740.7 781.0,729.3 781.4,748.9 781.8,734.3 782.1,719.1 782.5,734.2 782.9,735.3 783.3,731.7 783.7,736.4 784.1,749.5 784.4,740.4 784.8,728.6 785.2,749.8 785.6,735.3 786.0,737.5 786.4,729.2 786.7,735.2 787.1,738.4 787.5,741.9 787.9,727.2 788.3,729.2 788.7,726.5 789.0,741.6 789.4,740.5 789.8,739.8 790.2,724.8 790.6,741.2 791.0,737.2 791.3,734.0 791.7,731.3 792.1,742.8 792.5,728.0 792.9,728.5 793.3,741.8 793.6,718.9 794.0,728.6 794.4,732.8 794.8,740.4 795.2,726.0 795.6,735.6 795.9,748.4 796.3,735.9 796.7,733.4 797.1,731.9 797.5,734.2 797.9,737.6 798.2,731.6 798.6,734.2 799.0,736.3 799.4,722.9 799.8,748.9 800.1,742.5 800.5,742.6 800.9,735.1 801.3,730.6 801.7,733.7 802.1,739.9 802.4,731.2 802.8,747.8 803.2,735.1 803.6,733.7 804.0,741.5 804.4,742.9 804.7,736.8 805.1,735.7 805.5,738.1 805.9,737.3 806.3,725.5 806.7,729.2 807.0,742.7 807.4,733.5 807.8,735.2 808.2,733.2 808.6,737.8 809.0,741.0 809.3,739.5 809.7,735.6 810.1,737.4 810.5,729.4 810.9,743.5 811.3,739.8 811.6,738.1 812.0,725.0 812.4,726.6 812.8,730.4 813.2,735.3 813.6,730.4 813.9,723.3 814.3,735.3 814.7,731.1 815.1,744.3 815.5,737.4 815.9,736.9 816.2,730.2 816.6,736.7 817.0,737.6 817.4,741.1 817.8,741.1 818.2,738.3 818.5,737.5 818.9,739.4 819.3,736.8 819.7,732.2 820.1,738.5 820.5,733.7 820.8,727.9 821.2,735.4 821.6,735.9 822.0,734.2 822.4,733.8 822.7,740.0 823.1,737.9 823.5,733.0 823.9,726.4 824.3,732.2 824.7,731.3 825.0,740.5 825.4,735.3 825.8,749.8 826.2,723.7 826.6,750.1 827.0,735.2 827.3,730.8 827.7,736.6 828.1,727.0 828.5,733.4 828.9,742.8 829.3,740.4 829.6,730.5 830.0,734.6 830.4,730.4 830.8,737.4 831.2,733.7 831.6,751.5 831.9,740.3 832.3,727.1 832.7,738.9 833.1,736.9 833.5,730.6 833.9,730.1 834.2,734.0 834.6,733.7 835.0,731.3 835.4,735.5 835.8,732.7 836.2,737.5 836.5,729.7 836.9,741.6 837.3,735.6 837.7,743.7 838.1,740.8 838.5,747.2 838.8,734.4 839.2,728.3 839.6,734.7 840.0,747.9 840.4,722.7 840.8,726.9 841.1,740.6 841.5,725.3 841.9,734.9 842.3,726.1 842.7,736.0 843.1,733.6 843.4,732.8 843.8,729.0 844.2,737.3 844.6,732.4 845.0,729.0 845.3,746.1 845.7,749.7 846.1,736.5 846.5,738.9 846.9,736.3 847.3,740.0 847.6,738.8 848.0,736.8 848.4,746.1 848.8,735.2 849.2,723.2 849.6,739.6 849.9,739.9 850.3,749.2 850.7,729.7 851.1,729.6 851.5,733.7 851.9,736.6 852.2,733.5 852.6,729.9 853.0,732.6 853.4,729.2 853.8,731.1 854.2,732.5 854.5,734.2 854.9,739.9 855.3,748.9 855.7,740.1 856.1,729.5 856.5,728.2 856.8,730.4 857.2,724.5 857.6,736.5 858.0,738.0 858.4,738.3 858.8,727.6 859.1,737.5 859.5,738.8 859.9,730.1 860.3,733.8 860.7,741.5 861.1,736.0 861.4,737.1 861.8,740.0 862.2,740.1 862.6,734.3 863.0,730.9 863.4,731.3 863.7,740.2 864.1,734.7 864.5,730.9 864.9,741.1 865.3,745.4 865.7,738.0 866.0,725.4 866.4,731.3 866.8,730.6 867.2,734.4 867.6,727.0 867.9,735.8 868.3,730.6 868.7,734.3 869.1,736.8 869.5,734.8 869.9,740.1 870.2,738.9 870.6,737.3 871.0,733.2 871.4,746.7 871.8,743.6 872.2,727.5 872.5,728.0 872.9,739.3 873.3,737.2 873.7,744.4 874.1,730.7 874.5,735.4 874.8,729.9 875.2,748.2 875.6,739.7 876.0,743.9 876.4,738.9 876.8,730.5 877.1,747.6 877.5,742.8 877.9,743.3 878.3,740.4 878.7,734.1 879.1,737.0 879.4,749.4 879.8,731.1 880.2,733.7 880.6,728.1 881.0,732.2 881.4,733.8 881.7,726.5 882.1,729.4 882.5,731.7 882.9,736.4 883.3,725.9 883.7,724.5 884.0,737.9 884.4,740.4 884.8,750.9 885.2,725.2 885.6,737.4 886.0,736.8 886.3,743.0 886.7,729.2 887.1,734.8 887.5,739.0 887.9,740.1 888.3,737.1 888.6,742.0 889.0,737.1 889.4,737.1 889.8,731.9 890.2,732.4 890.5,734.8 890.9,732.7 891.3,728.5 891.7,730.3 892.1,726.4 892.5,741.8 892.8,737.8 893.2,751.4 893.6,730.3 894.0,752.1 894.4,744.1 894.8,729.6 895.1,730.8 895.5,737.7 895.9,727.6 896.3,735.0 896.7,731.2 897.1,737.4 897.4,730.3 897.8,737.3 898.2,739.7 898.6,740.2 899.0,738.3 899.4,728.4 899.7,724.1 900.1,736.4 900.5,734.5 900.9,731.1 901.3,738.8 901.7,732.9 902.0,719.1 902.4,733.9 902.8,743.4 903.2,738.3 903.6,729.8 904.0,741.9 904.3,734.8 904.7,742.2 905.1,724.6 905.5,738.8 905.9,737.3 906.3,731.2 906.6,727.7 907.0,735.3 907.4,737.4 907.8,734.4 908.2,730.7 908.6,729.7 908.9,734.2 909.3,742.2 909.7,734.9 910.1,731.5 910.5,736.4 910.9,732.6 911.2,736.3 911.6,738.2 912.0,742.9 912.4,737.8 912.8,738.4 913.1,738.9 913.5,733.7 913.9,735.3 914.3,740.1 914.7,737.8 915.1,740.7 915.4,731.9 915.8,733.3 916.2,736.0 916.6,737.0 917.0,735.0 917.4,737.8 917.7,734.1 918.1,735.2 918.5,737.1 918.9,738.3 919.3,737.3 919.7,732.2 920.0,738.1 920.4,744.1 920.8,742.1 921.2,739.2 921.6,731.4 922.0,741.1 922.3,736.9 922.7,738.6 923.1,734.4 923.5,738.9 923.9,740.5 924.3,723.3 924.6,731.4 925.0,727.8 925.4,727.8 925.8,727.1 926.2,724.6 926.6,740.7 926.9,733.0 927.3,731.8 927.7,735.3 928.1,735.5 928.5,733.8 928.9,732.8 929.2,736.5 929.6,730.8 930.0,736.9 930.4,733.1 930.8,733.6 931.2,734.2 931.5,734.7 931.9,730.9 932.3,745.0 932.7,741.2 933.1,737.9 933.5,737.0 933.8,732.9 934.2,738.6 934.6,739.6" fill="none" stroke="#0066ff" stroke-width="4.17" stroke-linejoin="round" stroke-linecap="round"/>
<polyline clip-path="url(#cpc)" points="168.5,741.2 168.9,736.0 169.3,743.0 169.6,745.7 170.0,726.7 170.4,736.0 170.8,737.4 171.2,737.8 171.6,740.9 171.9,739.8 172.3,720.1 172.7,732.8 173.1,742.9 173.5,723.9 173.9,742.5 174.2,728.1 174.6,740.7 175.0,734.9 175.4,737.0 175.8,736.0 176.2,737.2 176.5,740.3 176.9,735.7 177.3,725.5 177.7,740.2 178.1,746.7 178.5,749.0 178.8,745.8 179.2,751.7 179.6,753.9 180.0,733.3 180.4,732.7 180.8,735.0 181.1,748.1 181.5,737.8 181.9,736.2 182.3,736.2 182.7,729.4 183.1,733.3 183.4,736.1 183.8,728.7 184.2,732.3 184.6,732.4 185.0,733.8 185.4,740.0 185.7,724.4 186.1,736.6 186.5,747.3 186.9,735.3 187.3,734.7 187.7,721.2 188.0,740.2 188.4,734.5 188.8,731.0 189.2,733.5 189.6,731.3 190.0,735.1 190.3,731.3 190.7,752.2 191.1,725.9 191.5,736.5 191.9,742.3 192.2,728.9 192.6,736.7 193.0,746.1 193.4,736.4 193.8,732.8 194.2,747.0 194.5,747.1 194.9,734.8 195.3,743.2 195.7,735.4 196.1,744.9 196.5,741.9 196.8,743.4 197.2,734.8 197.6,738.4 198.0,742.7 198.4,723.3 198.8,735.7 199.1,742.2 199.5,741.4 199.9,743.8 200.3,728.9 200.7,746.1 201.1,739.2 201.4,729.1 201.8,744.1 202.2,745.6 202.6,735.1 203.0,729.3 203.4,744.3 203.7,740.9 204.1,733.5 204.5,737.5 204.9,738.7 205.3,741.1 205.7,734.5 206.0,750.5 206.4,720.2 206.8,743.7 207.2,730.5 207.6,743.4 208.0,733.0 208.3,743.1 208.7,728.9 209.1,729.9 209.5,740.3 209.9,733.4 210.3,742.2 210.6,732.8 211.0,731.2 211.4,745.0 211.8,747.9 212.2,733.4 212.6,746.8 212.9,746.1 213.3,742.9 213.7,741.9 214.1,734.2 214.5,730.4 214.8,734.2 215.2,738.7 215.6,736.8 216.0,739.1 216.4,736.9 216.8,739.5 217.1,729.2 217.5,744.6 217.9,728.4 218.3,730.4 218.7,751.7 219.1,727.5 219.4,736.2 219.8,733.3 220.2,742.9 220.6,729.9 221.0,722.7 221.4,731.8 221.7,724.6 222.1,740.1 222.5,738.1 222.9,751.1 223.3,734.9 223.7,743.7 224.0,744.4 224.4,737.5 224.8,738.0 225.2,749.1 225.6,741.6 226.0,739.7 226.3,723.9 226.7,730.8 227.1,737.6 227.5,733.0 227.9,743.2 228.3,738.6 228.6,739.5 229.0,728.9 229.4,741.5 229.8,746.5 230.2,731.4 230.6,737.8 230.9,731.8 231.3,741.0 231.7,743.7 232.1,739.9 232.5,728.3 232.9,730.6 233.2,746.2 233.6,729.6 234.0,731.8 234.4,735.2 234.8,734.3 235.2,737.4 235.5,731.4 235.9,738.0 236.3,739.5 236.7,733.9 237.1,737.6 237.4,748.8 237.8,745.1 238.2,738.7 238.6,723.0 239.0,735.8 239.4,733.4 239.7,743.3 240.1,729.8 240.5,731.3 240.9,737.0 241.3,746.4 241.7,751.5 242.0,739.2 242.4,739.0 242.8,739.9 243.2,746.7 243.6,728.8 244.0,720.3 244.3,741.0 244.7,740.0 245.1,745.3 245.5,745.3 245.9,749.2 246.3,738.9 246.6,734.6 247.0,738.7 247.4,741.8 247.8,741.0 248.2,735.3 248.6,737.0 248.9,735.1 249.3,739.6 249.7,740.0 250.1,734.9 250.5,737.9 250.9,737.7 251.2,746.3 251.6,731.9 252.0,742.3 252.4,724.9 252.8,740.7 253.2,741.2 253.5,740.8 253.9,732.7 254.3,739.3 254.7,741.9 255.1,735.7 255.5,732.2 255.8,729.4 256.2,729.0 256.6,738.0 257.0,741.7 257.4,730.8 257.8,739.2 258.1,743.2 258.5,741.0 258.9,738.0 259.3,731.3 259.7,727.3 260.0,737.9 260.4,733.7 260.8,727.9 261.2,745.2 261.6,743.0 262.0,736.1 262.3,741.6 262.7,734.8 263.1,742.3 263.5,739.1 263.9,735.5 264.3,728.2 264.6,737.7 265.0,733.8 265.4,739.1 265.8,728.0 266.2,740.7 266.6,734.2 266.9,733.8 267.3,741.6 267.7,743.0 268.1,737.6 268.5,733.8 268.9,726.1 269.2,742.4 269.6,736.6 270.0,735.8 270.4,740.7 270.8,738.2 271.2,742.1 271.5,738.1 271.9,735.3 272.3,730.9 272.7,737.7 273.1,738.2 273.5,729.6 273.8,746.0 274.2,746.8 274.6,736.3 275.0,741.3 275.4,731.3 275.8,735.4 276.1,737.8 276.5,726.4 276.9,728.2 277.3,748.8 277.7,733.0 278.1,730.3 278.4,740.9 278.8,739.9 279.2,738.8 279.6,738.9 280.0,725.2 280.4,730.5 280.7,743.4 281.1,739.9 281.5,734.9 281.9,730.3 282.3,740.8 282.6,739.4 283.0,737.2 283.4,744.1 283.8,730.6 284.2,732.9 284.6,735.2 284.9,735.1 285.3,735.1 285.7,737.0 286.1,732.8 286.5,746.5 286.9,737.8 287.2,730.1 287.6,734.7 288.0,732.8 288.4,745.4 288.8,737.8 289.2,739.1 289.5,740.7 289.9,745.7 290.3,739.9 290.7,738.2 291.1,729.4 291.5,743.3 291.8,736.9 292.2,737.7 292.6,734.7 293.0,735.9 293.4,738.5 293.8,746.1 294.1,740.0 294.5,732.1 294.9,733.0 295.3,735.9 295.7,742.9 296.1,722.8 296.4,729.9 296.8,747.2 297.2,732.7 297.6,728.5 298.0,736.7 298.4,731.0 298.7,733.9 299.1,734.3 299.5,726.4 299.9,738.9 300.3,739.8 300.7,734.0 301.0,735.1 301.4,737.6 301.8,728.2 302.2,738.6 302.6,729.6 303.0,733.5 303.3,734.9 303.7,738.6 304.1,741.6 304.5,741.1 304.9,729.2 305.2,738.2 305.6,738.2 306.0,744.1 306.4,741.9 306.8,738.7 307.2,742.9 307.5,731.6 307.9,744.7 308.3,730.9 308.7,741.9 309.1,748.4 309.5,736.9 309.8,738.8 310.2,733.8 310.6,742.7 311.0,735.4 311.4,730.2 311.8,730.5 312.1,733.3 312.5,727.7 312.9,749.9 313.3,743.4 313.7,739.6 314.1,742.6 314.4,729.3 314.8,731.2 315.2,739.6 315.6,735.9 316.0,739.6 316.4,726.5 316.7,746.5 317.1,737.6 317.5,733.9 317.9,741.3 318.3,737.0 318.7,727.2 319.0,744.0 319.4,742.1 319.8,743.8 320.2,739.4 320.6,725.0 321.0,734.3 321.3,744.4 321.7,742.9 322.1,727.2 322.5,735.0 322.9,735.7 323.3,738.9 323.6,740.1 324.0,732.5 324.4,738.6 324.8,736.2 325.2,734.8 325.6,737.5 325.9,729.2 326.3,730.5 326.7,727.1 327.1,720.5 327.5,742.5 327.8,735.7 328.2,740.9 328.6,745.9 329.0,742.7 329.4,738.0 329.8,739.5 330.1,738.1 330.5,735.1 330.9,739.3 331.3,735.0 331.7,737.6 332.1,730.8 332.4,733.8 332.8,741.1 333.2,736.2 333.6,735.8 334.0,727.4 334.4,742.4 334.7,730.8 335.1,730.7 335.5,737.7 335.9,738.3 336.3,739.9 336.7,746.2 337.0,732.4 337.4,752.3 337.8,740.1 338.2,743.4 338.6,739.3 339.0,737.2 339.3,736.3 339.7,734.9 340.1,734.7 340.5,739.6 340.9,741.3 341.3,734.6 341.6,726.7 342.0,737.8 342.4,747.0 342.8,752.8 343.2,746.8 343.6,728.1 343.9,729.2 344.3,744.0 344.7,742.4 345.1,744.3 345.5,736.4 345.9,733.8 346.2,730.2 346.6,728.3 347.0,728.6 347.4,732.0 347.8,727.5 348.2,738.9 348.5,742.7 348.9,739.8 349.3,738.5 349.7,732.3 350.1,741.0 350.4,730.5 350.8,747.1 351.2,739.1 351.6,737.6 352.0,726.2 352.4,739.9 352.7,733.7 353.1,730.8 353.5,735.3 353.9,743.4 354.3,747.6 354.7,734.7 355.0,728.2 355.4,733.3 355.8,731.5 356.2,740.3 356.6,738.9 357.0,735.9 357.3,738.2 357.7,746.4 358.1,731.1 358.5,737.5 358.9,741.8 359.3,741.7 359.6,735.1 360.0,746.8 360.4,735.6 360.8,737.9 361.2,751.5 361.6,726.5 361.9,743.8 362.3,732.5 362.7,739.5 363.1,740.8 363.5,732.6 363.9,743.3 364.2,731.8 364.6,729.0 365.0,748.2 365.4,738.3 365.8,732.7 366.2,752.4 366.5,743.9 366.9,734.1 367.3,750.2 367.7,733.5 368.1,740.3 368.5,727.6 368.8,740.9 369.2,739.8 369.6,742.7 370.0,736.4 370.4,754.0 370.8,737.9 371.1,756.2 371.5,752.7 371.9,733.9 372.3,739.5 372.7,742.3 373.0,738.0 373.4,742.8 373.8,743.6 374.2,751.3 374.6,731.7 375.0,732.4 375.3,729.7 375.7,740.1 376.1,740.4 376.5,734.8 376.9,738.8 377.3,721.2 377.6,731.1 378.0,721.4 378.4,734.2 378.8,738.1 379.2,733.2 379.6,739.7 379.9,732.2 380.3,736.7 380.7,732.5 381.1,723.5 381.5,738.1 381.9,734.2 382.2,730.2 382.6,730.6 383.0,751.5 383.4,735.9 383.8,742.3 384.2,734.5 384.5,736.6 384.9,727.7 385.3,734.5 385.7,736.8 386.1,738.8 386.5,732.2 386.8,738.1 387.2,724.8 387.6,735.2 388.0,727.6 388.4,734.3 388.8,743.6 389.1,729.5 389.5,740.2 389.9,737.8 390.3,739.1 390.7,731.6 391.1,726.7 391.4,745.8 391.8,730.7 392.2,736.6 392.6,730.1 393.0,735.0 393.4,739.7 393.7,737.3 394.1,740.5 394.5,742.4 394.9,744.2 395.3,730.4 395.6,736.5 396.0,738.0 396.4,735.9 396.8,750.1 397.2,740.3 397.6,731.3 397.9,725.7 398.3,737.5 398.7,743.1 399.1,749.0 399.5,732.4 399.9,734.1 400.2,744.6 400.6,731.4 401.0,742.5 401.4,736.7 401.8,726.4 402.2,736.5 402.5,738.2 402.9,720.5 403.3,738.0 403.7,740.6 404.1,736.0 404.5,737.5 404.8,746.3 405.2,732.3 405.6,739.8 406.0,737.9 406.4,735.8 406.8,736.8 407.1,729.5 407.5,747.6 407.9,722.1 408.3,738.8 408.7,729.1 409.1,731.2 409.4,726.6 409.8,725.8 410.2,743.2 410.6,730.2 411.0,747.2 411.4,741.3 411.7,738.1 412.1,738.8 412.5,740.8 412.9,742.1 413.3,746.6 413.7,742.7 414.0,741.1 414.4,731.9 414.8,739.9 415.2,728.3 415.6,725.9 416.0,734.0 416.3,741.2 416.7,732.0 417.1,742.6 417.5,728.6 417.9,733.1 418.2,730.0 418.6,726.0 419.0,733.6 419.4,735.3 419.8,734.1 420.2,733.6 420.5,744.3 420.9,730.2 421.3,735.8 421.7,736.3 422.1,738.4 422.5,748.3 422.8,741.4 423.2,732.0 423.6,744.6 424.0,733.9 424.4,742.9 424.8,742.3 425.1,727.1 425.5,738.6 425.9,749.3 426.3,730.4 426.7,727.4 427.1,726.2 427.4,731.3 427.8,739.6 428.2,728.1 428.6,731.2 429.0,740.5 429.4,725.8 429.7,727.6 430.1,727.2 430.5,743.2 430.9,743.0 431.3,736.0 431.7,742.3 432.0,724.6 432.4,727.2 432.8,747.3 433.2,730.4 433.6,744.3 434.0,735.2 434.3,733.5 434.7,740.0 435.1,738.3 435.5,743.8 435.9,745.9 436.3,738.2 436.6,742.0 437.0,736.1 437.4,742.0 437.8,735.1 438.2,732.8 438.6,730.7 438.9,729.2 439.3,752.7 439.7,744.7 440.1,723.6 440.5,727.3 440.8,739.6 441.2,727.5 441.6,734.8 442.0,741.9 442.4,742.0 442.8,740.9 443.1,730.6 443.5,737.5 443.9,736.4 444.3,736.4 444.7,736.6 445.1,733.2 445.4,731.2 445.8,736.1 446.2,738.1 446.6,738.2 447.0,740.9 447.4,732.9 447.7,742.1 448.1,743.8 448.5,734.3 448.9,733.4 449.3,738.1 449.7,744.6 450.0,725.8 450.4,739.3 450.8,733.0 451.2,733.7 451.6,745.8 452.0,736.2 452.3,737.3 452.7,737.3 453.1,733.6 453.5,732.8 453.9,731.5 454.3,733.8 454.6,733.3 455.0,739.1 455.4,731.3 455.8,740.7 456.2,739.8 456.6,742.2 456.9,741.3 457.3,743.6 457.7,741.9 458.1,731.7 458.5,730.7 458.9,737.5 459.2,754.0 459.6,735.3 460.0,735.3 460.4,734.8 460.8,739.7 461.2,737.9 461.5,736.7 461.9,737.9 462.3,742.9 462.7,733.2 463.1,735.2 463.4,741.3 463.8,725.1 464.2,726.2 464.6,734.4 465.0,731.4 465.4,741.1 465.7,739.1 466.1,742.6 466.5,730.4 466.9,729.8 467.3,731.7 467.7,751.9 468.0,733.8 468.4,732.0 468.8,735.4 469.2,735.5 469.6,729.4 470.0,736.8 470.3,744.2 470.7,731.7 471.1,737.0 471.5,748.2 471.9,727.5 472.3,737.7 472.6,730.6 473.0,749.9 473.4,730.5 473.8,746.7 474.2,734.4 474.6,738.5 474.9,741.4 475.3,743.2 475.7,725.7 476.1,732.0 476.5,733.8 476.9,731.8 477.2,731.4 477.6,735.3 478.0,738.1 478.4,734.2 478.8,739.9 479.2,736.1 479.5,735.1 479.9,734.6 480.3,726.0 480.7,730.5 481.1,731.0 481.5,741.2 481.8,732.8 482.2,739.2 482.6,740.0 483.0,739.0 483.4,732.2 483.8,743.4 484.1,737.8 484.5,731.4 484.9,739.0 485.3,733.8 485.7,745.0 486.0,743.8 486.4,740.6 486.8,741.3 487.2,738.2 487.6,738.0 488.0,738.8 488.3,750.0 488.7,736.7 489.1,742.2 489.5,724.9 489.9,745.0 490.3,744.1 490.6,743.7 491.0,738.9 491.4,736.4 491.8,726.0 492.2,723.4 492.6,735.3 492.9,736.3 493.3,744.1 493.7,742.8 494.1,736.7 494.5,739.7 494.9,743.5 495.2,736.0 495.6,733.9 496.0,732.1 496.4,730.3 496.8,743.3 497.2,734.9 497.5,737.2 497.9,739.1 498.3,743.1 498.7,741.2 499.1,727.5 499.5,740.8 499.8,728.9 500.2,737.9 500.6,740.7 501.0,734.4 501.4,745.7 501.8,738.7 502.1,737.7 502.5,734.4 502.9,738.3 503.3,737.9 503.7,745.7 504.1,737.1 504.4,739.7 504.8,737.1 505.2,744.5 505.6,739.8 506.0,740.6 506.4,737.2 506.7,736.8 507.1,738.3 507.5,745.8 507.9,735.2 508.3,733.8 508.6,743.6 509.0,741.0 509.4,732.1 509.8,737.7 510.2,726.2 510.6,735.6 510.9,738.5 511.3,732.3 511.7,738.9 512.1,739.0 512.5,747.0 512.9,733.7 513.2,737.8 513.6,735.2 514.0,732.3 514.4,723.7 514.8,728.5 515.2,737.3 515.5,739.5 515.9,735.5 516.3,743.2 516.7,736.1 517.1,734.9 517.5,735.7 517.8,732.3 518.2,734.9 518.6,728.4 519.0,725.1 519.4,736.8 519.8,746.1 520.1,740.8 520.5,740.6 520.9,742.8 521.3,734.1 521.7,741.3 522.1,740.2 522.4,735.1 522.8,735.8 523.2,737.1 523.6,735.9 524.0,741.6 524.4,732.3 524.7,742.0 525.1,734.1 525.5,746.2 525.9,737.5 526.3,731.0 526.7,731.2 527.0,742.8 527.4,736.9 527.8,733.0 528.2,740.0 528.6,743.5 529.0,743.8 529.3,733.4 529.7,727.7 530.1,727.6 530.5,735.1 530.9,735.9 531.2,743.6 531.6,743.5 532.0,733.4 532.4,736.9 532.8,740.7 533.2,746.7 533.5,724.7 533.9,738.5 534.3,739.6 534.7,733.5 535.1,737.1 535.5,742.9 535.8,732.2 536.2,754.6 536.6,735.7 537.0,733.2 537.4,727.5 537.8,736.8 538.1,746.4 538.5,740.7 538.9,731.9 539.3,734.8 539.7,730.7 540.1,733.4 540.4,735.9 540.8,733.0 541.2,732.6 541.6,743.3 542.0,731.6 542.4,741.9 542.7,729.5 543.1,752.9 543.5,742.8 543.9,732.1 544.3,733.4 544.7,741.9 545.0,722.8 545.4,729.9 545.8,724.1 546.2,728.2 546.6,728.3 547.0,732.3 547.3,746.9 547.7,736.0 548.1,734.7 548.5,724.3 548.9,721.9 549.3,749.6 549.6,728.9 550.0,730.5 550.4,730.9 550.8,733.6 551.2,743.0 551.5,726.5 551.9,749.5 552.3,737.1 552.7,731.7 553.1,757.0 553.5,708.2 553.8,759.4 554.2,732.5 554.6,733.8 555.0,720.9 555.4,722.2 555.8,753.8 556.1,736.0 556.5,730.3 556.9,721.7 557.3,748.6 557.7,730.1 558.1,727.3 558.4,736.4 558.8,733.3 559.2,737.8 559.6,744.4 560.0,744.8 560.4,738.6 560.7,751.1 561.1,743.9 561.5,732.9 561.9,748.3 562.3,741.0 562.7,724.0 563.0,740.6 563.4,739.9 563.8,739.5 564.2,739.0 564.6,732.9 565.0,744.7 565.3,730.0 565.7,734.3 566.1,735.0 566.5,737.0 566.9,725.6 567.3,732.2 567.6,732.6 568.0,741.1 568.4,728.2 568.8,722.3 569.2,739.6 569.6,744.2 569.9,728.5 570.3,735.3 570.7,734.2 571.1,734.4 571.5,725.3 571.9,727.7 572.2,719.3 572.6,735.9 573.0,728.6 573.4,736.5 573.8,737.5 574.1,732.9 574.5,738.6 574.9,736.0 575.3,726.2 575.7,744.3 576.1,732.5 576.4,740.2 576.8,728.8 577.2,744.0 577.6,751.7 578.0,745.1 578.4,745.7 578.7,740.8 579.1,745.1 579.5,734.9 579.9,744.6 580.3,735.2 580.7,742.2 581.0,729.3 581.4,738.2 581.8,741.1 582.2,735.7 582.6,747.9 583.0,734.6 583.3,742.0 583.7,737.9 584.1,736.9 584.5,732.2 584.9,738.5 585.3,739.7 585.6,742.6 586.0,732.1 586.4,742.3 586.8,750.4 587.2,725.8 587.6,742.2 587.9,740.2 588.3,733.8 588.7,735.4 589.1,736.8 589.5,736.6 589.9,739.1 590.2,744.6 590.6,724.0 591.0,727.7 591.4,738.1 591.8,738.8 592.2,737.0 592.5,745.5 592.9,725.0 593.3,744.6 593.7,730.0 594.1,737.7 594.5,754.0 594.8,737.6 595.2,731.4 595.6,742.9 596.0,736.4 596.4,733.5 596.7,739.5 597.1,735.8 597.5,748.4 597.9,734.3 598.3,751.9 598.7,729.1 599.0,747.1 599.4,732.9 599.8,750.8 600.2,743.1 600.6,729.9 601.0,730.6 601.3,744.2 601.7,728.5 602.1,742.6 602.5,735.0 602.9,736.4 603.3,740.0 603.6,730.7 604.0,736.8 604.4,727.6 604.8,735.9 605.2,729.9 605.6,725.1 605.9,736.1 606.3,738.8 606.7,730.8 607.1,731.8 607.5,736.4 607.9,732.4 608.2,740.2 608.6,745.0 609.0,730.0 609.4,732.9 609.8,739.2 610.2,747.1 610.5,728.5 610.9,737.4 611.3,739.0 611.7,739.6 612.1,732.1 612.5,728.1 612.8,734.8 613.2,736.5 613.6,737.1 614.0,735.3 614.4,733.9 614.8,746.6 615.1,728.7 615.5,742.5 615.9,739.6 616.3,743.5 616.7,737.5 617.1,728.7 617.4,735.0 617.8,734.7 618.2,744.9 618.6,731.0 619.0,729.7 619.3,735.1 619.7,743.7 620.1,735.4 620.5,731.9 620.9,734.6 621.3,732.0 621.6,734.7 622.0,730.1 622.4,740.0 622.8,734.0 623.2,732.6 623.6,734.1 623.9,743.6 624.3,751.0 624.7,731.1 625.1,721.4 625.5,730.4 625.9,732.4 626.2,745.7 626.6,730.7 627.0,731.1 627.4,737.6 627.8,721.9 628.2,744.8 628.5,731.6 628.9,738.9 629.3,731.4 629.7,726.7 630.1,736.9 630.5,746.5 630.8,727.4 631.2,744.0 631.6,726.9 632.0,741.6 632.4,744.0 632.8,737.8 633.1,731.6 633.5,737.4 633.9,737.4 634.3,726.0 634.7,734.0 635.1,731.3 635.4,727.7 635.8,736.7 636.2,742.4 636.6,737.4 637.0,727.1 637.4,730.0 637.7,732.8 638.1,728.0 638.5,725.2 638.9,737.9 639.3,741.8 639.7,735.6 640.0,734.2 640.4,743.8 640.8,740.5 641.2,739.3 641.6,744.0 641.9,742.1 642.3,735.7 642.7,740.6 643.1,736.4 643.5,743.4 643.9,748.8 644.2,730.7 644.6,751.9 645.0,744.1 645.4,738.0 645.8,735.8 646.2,734.9 646.5,742.9 646.9,741.2 647.3,731.4 647.7,746.0 648.1,737.0 648.5,727.0 648.8,742.1 649.2,737.9 649.6,737.5 650.0,735.2 650.4,743.6 650.8,739.7 651.1,738.9 651.5,729.6 651.9,729.5 652.3,735.6 652.7,738.2 653.1,732.6 653.4,720.5 653.8,737.8 654.2,727.5 654.6,733.3 655.0,738.6 655.4,740.7 655.7,737.7 656.1,730.8 656.5,740.5 656.9,742.9 657.3,735.7 657.7,742.4 658.0,742.7 658.4,732.9 658.8,732.0 659.2,735.9 659.6,739.2 660.0,741.4 660.3,743.8 660.7,730.8 661.1,746.1 661.5,739.8 661.9,736.1 662.3,732.8 662.6,737.8 663.0,736.9 663.4,736.3 663.8,747.8 664.2,737.0 664.5,743.5 664.9,735.2 665.3,736.7 665.7,729.4 666.1,732.1 666.5,739.9 666.8,729.1 667.2,748.0 667.6,733.7 668.0,736.5 668.4,738.5 668.8,747.1 669.1,740.7 669.5,744.4 669.9,741.8 670.3,749.0 670.7,736.8 671.1,741.4 671.4,750.6 671.8,748.6 672.2,739.4 672.6,735.6 673.0,730.4 673.4,732.6 673.7,734.4 674.1,726.7 674.5,729.5 674.9,729.8 675.3,726.8 675.7,728.5 676.0,739.0 676.4,744.5 676.8,729.4 677.2,737.4 677.6,736.6 678.0,742.2 678.3,731.7 678.7,735.2 679.1,734.8 679.5,736.4 679.9,740.8 680.3,734.1 680.6,732.8 681.0,738.5 681.4,740.0 681.8,739.4 682.2,747.1 682.6,727.7 682.9,738.1 683.3,731.2 683.7,736.1 684.1,743.5 684.5,734.3 684.9,744.1 685.2,747.8 685.6,737.3 686.0,729.1 686.4,740.2 686.8,737.9 687.1,728.9 687.5,736.0 687.9,742.2 688.3,739.7 688.7,739.3 689.1,736.9 689.4,740.8 689.8,743.9 690.2,727.4 690.6,742.2 691.0,736.8 691.4,744.2 691.7,737.8 692.1,741.8 692.5,731.1 692.9,740.9 693.3,729.1 693.7,738.0 694.0,735.8 694.4,746.3 694.8,728.3 695.2,729.8 695.6,737.5 696.0,739.7 696.3,743.2 696.7,731.4 697.1,739.6 697.5,746.2 697.9,738.6 698.3,744.8 698.6,738.6 699.0,736.2 699.4,733.6 699.8,746.3 700.2,735.5 700.6,737.5 700.9,734.5 701.3,732.4 701.7,740.5 702.1,735.3 702.5,748.0 702.9,747.7 703.2,732.1 703.6,736.5 704.0,733.6 704.4,730.3 704.8,745.7 705.2,744.6 705.5,741.5 705.9,736.0 706.3,734.5 706.7,736.0 707.1,741.4 707.5,727.1 707.8,739.2 708.2,734.0 708.6,743.2 709.0,736.6 709.4,743.1 709.7,730.2 710.1,743.7 710.5,746.8 710.9,739.8 711.3,741.2 711.7,742.3 712.0,738.5 712.4,741.0 712.8,740.6 713.2,732.9 713.6,745.5 714.0,746.3 714.3,740.3 714.7,744.0 715.1,743.4 715.5,727.8 715.9,737.2 716.3,740.7 716.6,742.1 717.0,736.4 717.4,726.4 717.8,740.0 718.2,726.7 718.6,732.1 718.9,733.3 719.3,742.3 719.7,733.3 720.1,739.7 720.5,744.7 720.9,740.0 721.2,730.7 721.6,753.5 722.0,747.9 722.4,723.8 722.8,732.7 723.2,736.3 723.5,739.6 723.9,737.0 724.3,748.1 724.7,737.3 725.1,736.7 725.5,731.2 725.8,741.1 726.2,747.0 726.6,738.6 727.0,741.3 727.4,732.8 727.8,734.4 728.1,727.3 728.5,749.2 728.9,737.5 729.3,744.7 729.7,735.5 730.1,754.0 730.4,733.4 730.8,737.3 731.2,737.3 731.6,738.0 732.0,734.8 732.3,735.2 732.7,743.6 733.1,742.2 733.5,730.6 733.9,741.7 734.3,753.7 734.6,750.2 735.0,742.6 735.4,728.9 735.8,750.0 736.2,741.0 736.6,736.3 736.9,729.4 737.3,732.1 737.7,720.6 738.1,744.1 738.5,743.5 738.9,724.6 739.2,720.4 739.6,731.8 740.0,739.0 740.4,746.8 740.8,728.4 741.2,750.9 741.5,740.2 741.9,735.8 742.3,725.5 742.7,738.1 743.1,740.8 743.5,741.3 743.8,732.4 744.2,741.1 744.6,723.8 745.0,741.5 745.4,724.8 745.8,742.7 746.1,729.5 746.5,732.8 746.9,740.5 747.3,742.7 747.7,741.5 748.1,746.4 748.4,737.4 748.8,742.3 749.2,741.1 749.6,742.0 750.0,745.0 750.4,749.1 750.7,752.6 751.1,732.7 751.5,731.4 751.9,739.8 752.3,748.7 752.7,737.9 753.0,740.2 753.4,739.6 753.8,742.2 754.2,731.3 754.6,740.7 754.9,733.7 755.3,744.6 755.7,732.9 756.1,746.1 756.5,735.2 756.9,734.6 757.2,726.2 757.6,737.5 758.0,744.0 758.4,744.9 758.8,732.0 759.2,731.6 759.5,736.9 759.9,737.1 760.3,743.4 760.7,734.1 761.1,732.8 761.5,748.9 761.8,735.5 762.2,744.5 762.6,735.1 763.0,736.3 763.4,737.5 763.8,741.0 764.1,728.6 764.5,740.1 764.9,726.3 765.3,736.1 765.7,736.9 766.1,737.6 766.4,743.5 766.8,740.6 767.2,744.9 767.6,734.1 768.0,751.3 768.4,734.9 768.7,734.4 769.1,740.9 769.5,733.2 769.9,739.4 770.3,742.8 770.7,739.3 771.0,723.9 771.4,745.0 771.8,742.9 772.2,738.0 772.6,737.0 773.0,738.0 773.3,742.9 773.7,742.4 774.1,746.9 774.5,734.7 774.9,742.4 775.3,736.8 775.6,735.1 776.0,738.9 776.4,736.5 776.8,742.4 777.2,741.0 777.5,746.7 777.9,743.3 778.3,734.6 778.7,732.8 779.1,750.3 779.5,745.7 779.8,729.9 780.2,744.0 780.6,736.0 781.0,736.6 781.4,725.7 781.8,749.7 782.1,744.3 782.5,732.5 782.9,736.2 783.3,733.7 783.7,735.6 784.1,741.6 784.4,747.2 784.8,732.6 785.2,739.8 785.6,741.2 786.0,734.1 786.4,737.2 786.7,727.7 787.1,738.3 787.5,744.0 787.9,729.3 788.3,735.2 788.7,743.5 789.0,734.1 789.4,733.7 789.8,740.9 790.2,743.1 790.6,736.8 791.0,737.8 791.3,742.2 791.7,738.5 792.1,740.8 792.5,735.0 792.9,731.6 793.3,729.7 793.6,733.7 794.0,737.3 794.4,739.4 794.8,735.1 795.2,747.6 795.6,726.5 795.9,741.0 796.3,735.6 796.7,736.3 797.1,730.0 797.5,741.1 797.9,737.8 798.2,743.2 798.6,740.8 799.0,728.6 799.4,721.9 799.8,727.9 800.1,729.9 800.5,738.7 800.9,740.3 801.3,732.4 801.7,737.6 802.1,748.4 802.4,740.1 802.8,730.0 803.2,721.4 803.6,733.7 804.0,739.2 804.4,741.5 804.7,732.7 805.1,734.3 805.5,731.4 805.9,738.1 806.3,737.6 806.7,749.0 807.0,737.7 807.4,736.4 807.8,739.8 808.2,738.7 808.6,731.3 809.0,749.5 809.3,731.6 809.7,731.9 810.1,738.7 810.5,734.7 810.9,741.1 811.3,737.5 811.6,738.5 812.0,737.7 812.4,729.7 812.8,744.9 813.2,737.6 813.6,747.7 813.9,746.1 814.3,738.1 814.7,733.7 815.1,746.7 815.5,737.4 815.9,738.4 816.2,728.9 816.6,738.9 817.0,736.5 817.4,726.5 817.8,740.2 818.2,735.9 818.5,739.8 818.9,725.5 819.3,739.9 819.7,732.0 820.1,736.9 820.5,741.7 820.8,740.1 821.2,724.1 821.6,741.4 822.0,733.4 822.4,744.1 822.7,736.8 823.1,734.5 823.5,728.4 823.9,732.8 824.3,745.2 824.7,734.5 825.0,723.5 825.4,732.2 825.8,739.3 826.2,735.8 826.6,732.0 827.0,743.2 827.3,727.0 827.7,739.6 828.1,727.1 828.5,733.2 828.9,736.0 829.3,731.8 829.6,743.0 830.0,737.7 830.4,734.2 830.8,723.9 831.2,743.2 831.6,739.8 831.9,738.7 832.3,745.6 832.7,746.0 833.1,744.1 833.5,728.2 833.9,740.0 834.2,727.0 834.6,733.8 835.0,734.7 835.4,741.7 835.8,736.6 836.2,730.1 836.5,743.4 836.9,728.4 837.3,738.2 837.7,738.3 838.1,738.3 838.5,735.1 838.8,732.0 839.2,735.0 839.6,740.0 840.0,730.1 840.4,732.4 840.8,727.3 841.1,738.0 841.5,734.0 841.9,736.0 842.3,728.3 842.7,729.6 843.1,740.7 843.4,736.9 843.8,736.3 844.2,744.9 844.6,738.5 845.0,730.4 845.3,732.9 845.7,735.9 846.1,743.4 846.5,734.0 846.9,738.4 847.3,740.7 847.6,743.4 848.0,730.5 848.4,734.6 848.8,737.7 849.2,740.1 849.6,729.1 849.9,741.8 850.3,732.7 850.7,739.5 851.1,741.8 851.5,735.4 851.9,741.5 852.2,739.0 852.6,743.2 853.0,747.9 853.4,733.6 853.8,741.0 854.2,736.6 854.5,746.7 854.9,736.0 855.3,743.7 855.7,751.2 856.1,745.2 856.5,741.3 856.8,734.2 857.2,740.8 857.6,740.5 858.0,748.7 858.4,740.5 858.8,734.3 859.1,734.1 859.5,731.5 859.9,737.3 860.3,740.8 860.7,747.2 861.1,732.7 861.4,742.4 861.8,743.9 862.2,742.2 862.6,742.0 863.0,738.1 863.4,728.8 863.7,734.5 864.1,748.6 864.5,737.0 864.9,735.0 865.3,738.2 865.7,731.2 866.0,725.7 866.4,735.9 866.8,739.9 867.2,736.1 867.6,730.8 867.9,737.1 868.3,739.0 868.7,738.5 869.1,725.3 869.5,740.6 869.9,735.8 870.2,728.0 870.6,737.7 871.0,737.9 871.4,736.1 871.8,729.2 872.2,732.8 872.5,736.4 872.9,736.2 873.3,734.0 873.7,745.7 874.1,748.2 874.5,747.0 874.8,738.9 875.2,735.2 875.6,742.0 876.0,734.9 876.4,733.7 876.8,735.1 877.1,731.3 877.5,738.5 877.9,746.7 878.3,727.3 878.7,735.7 879.1,732.1 879.4,735.4 879.8,738.8 880.2,735.4 880.6,731.4 881.0,747.8 881.4,742.1 881.7,730.6 882.1,745.4 882.5,739.5 882.9,747.3 883.3,744.6 883.7,735.4 884.0,739.2 884.4,744.2 884.8,724.6 885.2,744.7 885.6,741.1 886.0,741.6 886.3,735.1 886.7,729.0 887.1,733.1 887.5,736.7 887.9,742.4 888.3,731.0 888.6,745.0 889.0,747.7 889.4,746.2 889.8,749.5 890.2,743.9 890.5,731.6 890.9,732.7 891.3,734.8 891.7,737.1 892.1,733.0 892.5,737.6 892.8,730.6 893.2,725.0 893.6,742.0 894.0,744.2 894.4,737.7 894.8,746.0 895.1,731.0 895.5,740.4 895.9,739.2 896.3,736.5 896.7,737.1 897.1,724.2 897.4,738.2 897.8,754.0 898.2,736.1 898.6,734.5 899.0,735.0 899.4,741.8 899.7,736.7 900.1,743.7 900.5,727.0 900.9,739.2 901.3,733.8 901.7,740.4 902.0,728.9 902.4,736.8 902.8,733.0 903.2,734.1 903.6,733.8 904.0,734.2 904.3,735.8 904.7,733.0 905.1,731.7 905.5,747.3 905.9,732.1 906.3,741.9 906.6,732.3 907.0,730.3 907.4,740.0 907.8,737.1 908.2,736.4 908.6,733.7 908.9,733.4 909.3,733.2 909.7,740.0 910.1,740.5 910.5,743.4 910.9,737.4 911.2,732.3 911.6,734.4 912.0,732.9 912.4,737.7 912.8,739.8 913.1,741.7 913.5,734.1 913.9,746.4 914.3,747.3 914.7,740.0 915.1,733.6 915.4,741.3 915.8,737.9 916.2,733.7 916.6,748.8 917.0,743.6 917.4,749.4 917.7,741.7 918.1,745.3 918.5,734.3 918.9,731.4 919.3,742.3 919.7,723.6 920.0,743.4 920.4,738.2 920.8,728.1 921.2,732.5 921.6,728.4 922.0,740.3 922.3,744.8 922.7,745.8 923.1,730.2 923.5,731.8 923.9,739.6 924.3,735.2 924.6,733.6 925.0,737.4 925.4,723.8 925.8,736.2 926.2,739.9 926.6,731.2 926.9,748.5 927.3,733.7 927.7,747.2 928.1,740.1 928.5,744.5 928.9,731.0 929.2,740.1 929.6,743.2 930.0,735.8 930.4,724.3 930.8,743.7 931.2,732.0 931.5,730.1 931.9,726.3 932.3,736.0 932.7,746.5 933.1,736.6 933.5,736.6 933.8,735.8 934.2,726.7 934.6,745.2" fill="none" stroke="#ff0066" stroke-width="4.17" stroke-linejoin="round" stroke-linecap="round"/>
<g font-size="45.83" fill="#262626">
<text x="169.70" y="1124.00" text-anchor="middle">109</text>
<text x="361.22" y="1124.00" text-anchor="middle">109.1</text>
<text x="552.75" y="1124.00" text-anchor="middle">109.2</text>
<text x="744.27" y="1124.00" text-anchor="middle">109.3</text>
<text x="935.80" y="1124.00" text-anchor="middle">109.4</text>
<text x="154.50" y="1082.90" text-anchor="end">-120</text>
<text x="154.50" y="951.00" text-anchor="end">-110</text>
<text x="154.50" y="819.10" text-anchor="end">-100</text>
<text x="154.50" y="687.20" text-anchor="end">-90</text>
</g>
<text x="551.55" y="1181.00" font-size="50.4" fill="#262626" text-anchor="middle">Frequency (kHz)</text>
<text transform="translate(53.40,869.65) rotate(-90)" font-size="50.4" fill="#404040" text-anchor="middle">Phase (Deg)</text>
<rect x="241.1" y="638.5" width="687.90" height="58.40" fill="#fff" stroke="#212121" stroke-width="4.6"/>
<line x1="250.2" y1="667.70" x2="318.2" y2="667.70" stroke="#0066ff" stroke-width="4.17"/>
<text x="323.8" y="682.30" font-size="40.8" fill="#000">Test signal</text>
<line x1="515.9" y1="667.70" x2="584.1" y2="667.70" stroke="#ff0066" stroke-width="4.17"/>
<text x="589.0" y="682.30" font-size="40.8" fill="#000">Feed through signal</text>
<text x="20.2" y="630.2" font-size="58.3" fill="#000">(c)</text>
<g stroke="#212121" stroke-width="4.6" fill="none" stroke-linecap="butt">
<rect x="1195.6" y="671.3" width="765.80" height="395.70"/>
<path d="M1387.05,1067.0v-9.8M1387.05,671.3v9.8M1578.50,1067.0v-9.8M1578.50,671.3v9.8M1769.95,1067.0v-9.8M1769.95,671.3v9.8M1195.6,968.08h9.8M1961.4,968.08h-9.8M1195.6,869.15h9.8M1961.4,869.15h-9.8M1195.6,770.22h9.8M1961.4,770.22h-9.8"/>
</g>
<polyline clip-path="url(#cpd)" points="1195.6,745.4 1196.1,1046.2 1196.6,1003.7 1197.0,736.0 1197.5,860.5 1198.0,710.6 1198.5,1022.9 1199.0,737.6 1199.4,731.4 1199.9,696.4 1200.4,1004.0 1200.9,758.5 1201.3,741.1 1201.8,772.8 1202.3,820.4 1202.8,766.9 1203.3,859.7 1203.7,707.7 1204.2,818.1 1204.7,714.8 1205.2,693.9 1205.7,911.8 1206.1,787.4 1206.6,998.0 1207.1,750.1 1207.6,883.2 1208.0,1044.3 1208.5,1028.8 1209.0,897.8 1209.5,1024.0 1210.0,1014.6 1210.4,798.3 1210.9,774.8 1211.4,745.6 1211.9,913.5 1212.4,723.1 1212.8,1040.5 1213.3,758.4 1213.8,726.3 1214.3,1011.5 1214.7,1012.2 1215.2,998.7 1215.7,1021.1 1216.2,861.5 1216.7,979.7 1217.1,843.1 1217.6,917.6 1218.1,710.1 1218.6,728.0 1219.1,876.1 1219.5,710.9 1220.0,733.5 1220.5,984.0 1221.0,990.1 1221.4,697.2 1221.9,740.1 1222.4,744.8 1222.9,731.6 1223.4,966.5 1223.8,794.2 1224.3,897.0 1224.8,947.3 1225.3,753.0 1225.8,1039.8 1226.2,778.7 1226.7,705.6 1227.2,729.9 1227.7,1004.1 1228.1,987.8 1228.6,791.0 1229.1,718.7 1229.6,714.8 1230.1,723.4 1230.5,741.6 1231.0,796.4 1231.5,842.6 1232.0,1025.6 1232.5,759.7 1232.9,943.3 1233.4,754.1 1233.9,963.4 1234.4,741.6 1234.8,738.9 1235.3,984.1 1235.8,781.8 1236.3,991.4 1236.8,775.9 1237.2,734.0 1237.7,933.2 1238.2,758.5 1238.7,1032.4 1239.2,1028.1 1239.6,754.1 1240.1,960.3 1240.6,1046.2 1241.1,859.1 1241.5,973.0 1242.0,958.7 1242.5,799.0 1243.0,832.9 1243.5,971.1 1243.9,713.2 1244.4,1026.4 1244.9,989.9 1245.4,931.3 1245.9,770.5 1246.3,1042.1 1246.8,781.5 1247.3,992.7 1247.8,995.7 1248.2,1030.3 1248.7,713.4 1249.2,1013.8 1249.7,1014.2 1250.2,783.9 1250.6,973.0 1251.1,741.9 1251.6,740.0 1252.1,799.7 1252.6,791.5 1253.0,1014.5 1253.5,719.2 1254.0,792.0 1254.5,707.4 1254.9,726.0 1255.4,1002.0 1255.9,746.0 1256.4,1038.8 1256.9,902.6 1257.3,772.4 1257.8,985.3 1258.3,891.2 1258.8,751.0 1259.3,709.6 1259.7,715.7 1260.2,938.0 1260.7,881.8 1261.2,846.5 1261.7,720.6 1262.1,754.6 1262.6,768.8 1263.1,966.1 1263.6,720.4 1264.0,883.7 1264.5,1023.2 1265.0,945.9 1265.5,750.9 1266.0,1043.0 1266.4,877.4 1266.9,934.7 1267.4,702.0 1267.9,973.4 1268.4,729.3 1268.8,692.6 1269.3,794.4 1269.8,862.6 1270.3,952.9 1270.7,867.4 1271.2,910.4 1271.7,867.6 1272.2,916.6 1272.7,734.9 1273.1,712.8 1273.6,721.0 1274.1,1034.0 1274.6,1002.2 1275.1,929.0 1275.5,697.4 1276.0,768.7 1276.5,976.3 1277.0,934.3 1277.4,747.3 1277.9,945.7 1278.4,985.2 1278.9,956.1 1279.4,947.4 1279.8,704.4 1280.3,1039.9 1280.8,735.3 1281.3,717.0 1281.8,1038.4 1282.2,977.9 1282.7,910.4 1283.2,763.0 1283.7,923.6 1284.1,700.2 1284.6,942.1 1285.1,954.5 1285.6,843.5 1286.1,1000.1 1286.5,979.7 1287.0,902.4 1287.5,1046.2 1288.0,978.9 1288.5,955.7 1288.9,882.6 1289.4,753.4 1289.9,789.4 1290.4,793.2 1290.8,968.3 1291.3,717.6 1291.8,911.8 1292.3,1037.6 1292.8,942.1 1293.2,1017.7 1293.7,1028.6 1294.2,1036.3 1294.7,1035.9 1295.2,708.2 1295.6,698.2 1296.1,939.9 1296.6,985.9 1297.1,744.9 1297.5,933.3 1298.0,803.3 1298.5,1038.8 1299.0,750.8 1299.5,1028.9 1299.9,1019.2 1300.4,768.9 1300.9,873.4 1301.4,789.7 1301.9,942.9 1302.3,813.3 1302.8,692.1 1303.3,703.6 1303.8,756.5 1304.2,705.3 1304.7,935.7 1305.2,869.1 1305.7,922.4 1306.2,872.9 1306.6,961.6 1307.1,771.4 1307.6,800.9 1308.1,1028.3 1308.6,798.2 1309.0,738.3 1309.5,1041.1 1310.0,757.1 1310.5,931.9 1310.9,959.1 1311.4,1045.9 1311.9,790.8 1312.4,1037.2 1312.9,716.4 1313.3,895.3 1313.8,705.1 1314.3,707.5 1314.8,742.4 1315.3,737.8 1315.7,745.6 1316.2,784.9 1316.7,1030.0 1317.2,702.0 1317.6,937.3 1318.1,716.3 1318.6,849.4 1319.1,955.2 1319.6,710.1 1320.0,692.1 1320.5,810.5 1321.0,861.2 1321.5,763.2 1322.0,985.1 1322.4,1012.3 1322.9,998.9 1323.4,797.4 1323.9,701.5 1324.4,741.6 1324.8,1012.3 1325.3,848.3 1325.8,877.4 1326.3,952.3 1326.7,931.7 1327.2,967.0 1327.7,751.9 1328.2,830.6 1328.7,1030.5 1329.1,1044.6 1329.6,1011.1 1330.1,905.2 1330.6,708.7 1331.1,948.2 1331.5,771.0 1332.0,978.6 1332.5,816.6 1333.0,899.5 1333.4,729.8 1333.9,770.6 1334.4,719.2 1334.9,697.7 1335.4,742.5 1335.8,759.6 1336.3,765.9 1336.8,768.6 1337.3,719.5 1337.8,865.7 1338.2,808.5 1338.7,1029.8 1339.2,1008.6 1339.7,994.5 1340.1,958.3 1340.6,766.3 1341.1,969.9 1341.6,723.3 1342.1,923.0 1342.5,1043.8 1343.0,850.6 1343.5,744.8 1344.0,775.4 1344.5,995.2 1344.9,965.3 1345.4,730.6 1345.9,1022.8 1346.4,707.0 1346.8,904.0 1347.3,999.0 1347.8,1019.2 1348.3,1016.8 1348.8,732.2 1349.2,1013.0 1349.7,860.0 1350.2,971.0 1350.7,934.6 1351.2,696.3 1351.6,1030.1 1352.1,994.2 1352.6,738.3 1353.1,1006.6 1353.5,987.5 1354.0,948.6 1354.5,871.3 1355.0,812.3 1355.5,900.1 1355.9,992.6 1356.4,1039.1 1356.9,750.9 1357.4,993.0 1357.9,706.9 1358.3,786.4 1358.8,762.8 1359.3,847.0 1359.8,949.6 1360.2,878.3 1360.7,902.7 1361.2,870.9 1361.7,766.5 1362.2,1001.7 1362.6,1040.7 1363.1,1017.4 1363.6,761.4 1364.1,993.7 1364.6,948.3 1365.0,727.2 1365.5,991.5 1366.0,756.5 1366.5,1023.6 1366.9,990.6 1367.4,706.1 1367.9,715.6 1368.4,995.3 1368.9,755.5 1369.3,740.9 1369.8,793.9 1370.3,998.6 1370.8,1021.1 1371.3,1034.1 1371.7,730.1 1372.2,863.6 1372.7,1015.2 1373.2,1008.0 1373.6,810.9 1374.1,713.4 1374.6,998.4 1375.1,728.7 1375.6,1038.0 1376.0,748.2 1376.5,825.9 1377.0,838.6 1377.5,711.1 1378.0,1023.7 1378.4,997.9 1378.9,1012.3 1379.4,703.0 1379.9,926.3 1380.3,742.6 1380.8,693.4 1381.3,801.0 1381.8,941.6 1382.3,961.6 1382.7,913.7 1383.2,733.4 1383.7,859.7 1384.2,714.6 1384.7,1028.3 1385.1,727.8 1385.6,773.5 1386.1,988.2 1386.6,757.6 1387.0,853.2 1387.5,766.7 1388.0,759.9 1388.5,873.0 1389.0,1031.8 1389.4,773.1 1389.9,801.4 1390.4,973.7 1390.9,698.6 1391.4,939.7 1391.8,911.4 1392.3,961.7 1392.8,983.7 1393.3,973.8 1393.8,1018.5 1394.2,933.3 1394.7,703.2 1395.2,956.7 1395.7,711.5 1396.1,760.3 1396.6,699.7 1397.1,941.8 1397.6,843.4 1398.1,922.5 1398.5,995.0 1399.0,768.0 1399.5,779.3 1400.0,877.0 1400.5,1006.6 1400.9,758.2 1401.4,944.2 1401.9,785.8 1402.4,1017.6 1402.8,700.5 1403.3,703.8 1403.8,973.1 1404.3,738.0 1404.8,812.1 1405.2,872.6 1405.7,1007.4 1406.2,1002.0 1406.7,714.2 1407.2,770.7 1407.6,769.6 1408.1,1032.2 1408.6,965.0 1409.1,751.7 1409.5,1044.5 1410.0,730.7 1410.5,766.6 1411.0,894.3 1411.5,695.1 1411.9,918.8 1412.4,719.7 1412.9,733.8 1413.4,769.5 1413.9,722.3 1414.3,842.8 1414.8,719.7 1415.3,724.6 1415.8,960.4 1416.2,1033.1 1416.7,1037.9 1417.2,771.0 1417.7,1007.8 1418.2,816.1 1418.6,943.0 1419.1,698.9 1419.6,753.0 1420.1,1021.2 1420.6,712.1 1421.0,932.0 1421.5,915.0 1422.0,1043.8 1422.5,849.8 1422.9,907.6 1423.4,1036.4 1423.9,755.5 1424.4,729.6 1424.9,771.8 1425.3,740.3 1425.8,748.6 1426.3,762.9 1426.8,693.7 1427.3,754.6 1427.7,1000.3 1428.2,904.4 1428.7,839.0 1429.2,910.1 1429.6,702.0 1430.1,921.2 1430.6,731.0 1431.1,782.9 1431.6,961.6 1432.0,1004.8 1432.5,992.3 1433.0,950.3 1433.5,1044.7 1434.0,736.8 1434.4,921.3 1434.9,1020.6 1435.4,957.0 1435.9,789.9 1436.3,693.0 1436.8,983.2 1437.3,829.2 1437.8,1021.8 1438.3,749.1 1438.7,693.0 1439.2,947.6 1439.7,749.1 1440.2,1015.0 1440.7,885.0 1441.1,976.0 1441.6,712.5 1442.1,774.4 1442.6,997.7 1443.0,775.1 1443.5,718.2 1444.0,762.5 1444.5,931.2 1445.0,889.4 1445.4,1036.0 1445.9,733.2 1446.4,821.2 1446.9,1040.1 1447.4,781.6 1447.8,752.7 1448.3,939.4 1448.8,990.1 1449.3,1004.2 1449.7,982.3 1450.2,728.0 1450.7,969.0 1451.2,711.3 1451.7,752.5 1452.1,769.1 1452.6,801.9 1453.1,883.0 1453.6,998.1 1454.1,812.0 1454.5,842.7 1455.0,693.8 1455.5,1035.4 1456.0,1018.2 1456.5,697.9 1456.9,783.1 1457.4,715.4 1457.9,694.3 1458.4,736.4 1458.8,1038.2 1459.3,1005.7 1459.8,710.5 1460.3,1009.0 1460.8,759.2 1461.2,748.2 1461.7,696.6 1462.2,890.2 1462.7,1038.5 1463.2,985.2 1463.6,711.1 1464.1,840.3 1464.6,745.0 1465.1,784.0 1465.5,1011.8 1466.0,989.4 1466.5,713.0 1467.0,729.5 1467.5,736.8 1467.9,692.1 1468.4,702.9 1468.9,706.9 1469.4,1042.4 1469.9,729.0 1470.3,966.3 1470.8,700.2 1471.3,727.5 1471.8,717.1 1472.2,1019.9 1472.7,736.0 1473.2,710.7 1473.7,692.1 1474.2,998.7 1474.6,1006.2 1475.1,710.5 1475.6,966.5 1476.1,1017.5 1476.6,1016.9 1477.0,720.4 1477.5,755.5 1478.0,998.5 1478.5,721.3 1478.9,995.3 1479.4,728.1 1479.9,1026.0 1480.4,988.5 1480.9,778.9 1481.3,1022.8 1481.8,697.3 1482.3,745.5 1482.8,693.2 1483.3,1006.5 1483.7,932.1 1484.2,742.8 1484.7,730.6 1485.2,1019.4 1485.6,1025.7 1486.1,711.3 1486.6,1004.1 1487.1,732.3 1487.6,723.5 1488.0,1027.6 1488.5,966.6 1489.0,1003.9 1489.5,1036.6 1490.0,1008.2 1490.4,700.9 1490.9,730.7 1491.4,711.0 1491.9,776.5 1492.3,781.3 1492.8,1021.2 1493.3,1030.6 1493.8,708.4 1494.3,1015.1 1494.7,1031.1 1495.2,1046.2 1495.7,713.9 1496.2,701.6 1496.7,725.1 1497.1,983.3 1497.6,692.4 1498.1,1017.8 1498.6,708.7 1499.0,1040.8 1499.5,1021.3 1500.0,708.5 1500.5,694.3 1501.0,1035.9 1501.4,971.4 1501.9,1039.7 1502.4,725.0 1502.9,740.7 1503.4,710.2 1503.8,696.8 1504.3,722.2 1504.8,1025.1 1505.3,1030.7 1505.7,1000.4 1506.2,1039.4 1506.7,722.8 1507.2,1022.6 1507.7,742.0 1508.1,1011.1 1508.6,1042.9 1509.1,697.0 1509.6,734.6 1510.1,740.8 1510.5,1022.9 1511.0,1037.8 1511.5,1042.2 1512.0,714.9 1512.4,1040.2 1512.9,1041.9 1513.4,715.4 1513.9,1016.4 1514.4,1021.5 1514.8,693.7 1515.3,1029.0 1515.8,1034.1 1516.3,701.2 1516.8,717.0 1517.2,1032.5 1517.7,719.9 1518.2,1017.6 1518.7,726.3 1519.2,1039.4 1519.6,699.2 1520.1,1043.6 1520.6,696.6 1521.1,698.7 1521.5,1027.0 1522.0,1044.0 1522.5,698.6 1523.0,1040.2 1523.5,693.7 1523.9,1042.7 1524.4,692.5 1524.9,714.0 1525.4,692.1 1525.9,695.7 1526.3,1027.2 1526.8,698.1 1527.3,693.0 1527.8,695.1 1528.2,696.2 1528.7,699.5 1529.2,1042.3 1529.7,694.1 1530.2,1043.3 1530.6,694.5 1531.1,695.8 1531.6,696.8 1532.1,694.3 1532.6,695.9 1533.0,697.0 1533.5,693.8 1534.0,697.6 1534.5,703.1 1534.9,708.4 1535.4,712.2 1535.9,719.3 1536.4,724.9 1536.9,728.2 1537.3,732.0 1537.8,735.3 1538.3,740.7 1538.8,746.3 1539.3,750.7 1539.7,757.7 1540.2,764.0 1540.7,771.3 1541.2,775.3 1541.6,782.7 1542.1,791.3 1542.6,800.5 1543.1,809.3 1543.6,818.8 1544.0,829.2 1544.5,839.2 1545.0,850.0 1545.5,858.4 1546.0,869.3 1546.4,882.6 1546.9,894.6 1547.4,908.6 1547.9,924.1 1548.3,936.3 1548.8,946.6 1549.3,956.9 1549.8,968.9 1550.3,979.4 1550.7,987.0 1551.2,994.5 1551.7,1003.8 1552.2,1014.4 1552.7,1026.3 1553.1,1030.4 1553.6,1036.6 1554.1,695.0 1554.6,1044.2 1555.0,706.0 1555.5,1046.2 1556.0,1019.3 1556.5,1046.2 1557.0,702.9 1557.4,704.5 1557.9,1034.2 1558.4,717.9 1558.9,710.7 1559.4,706.7 1559.8,711.4 1560.3,1024.1 1560.8,723.8 1561.3,1019.2 1561.7,1031.0 1562.2,1016.1 1562.7,1013.4 1563.2,969.0 1563.7,1004.9 1564.1,1032.1 1564.6,725.3 1565.1,1029.2 1565.6,998.0 1566.1,735.8 1566.5,1012.9 1567.0,744.5 1567.5,1022.8 1568.0,730.4 1568.4,1017.4 1568.9,716.5 1569.4,975.3 1569.9,1037.6 1570.4,701.7 1570.8,740.7 1571.3,1044.1 1571.8,693.5 1572.3,733.3 1572.8,757.2 1573.2,1023.5 1573.7,976.3 1574.2,761.7 1574.7,1008.3 1575.1,710.1 1575.6,1008.8 1576.1,775.2 1576.6,749.4 1577.1,1043.3 1577.5,774.1 1578.0,915.0 1578.5,846.5 1579.0,723.4 1579.5,1029.0 1579.9,1027.6 1580.4,985.4 1580.9,851.7 1581.4,989.8 1581.9,843.9 1582.3,881.5 1582.8,992.4 1583.3,1010.1 1583.8,1004.3 1584.2,716.6 1584.7,718.6 1585.2,704.9 1585.7,773.5 1586.2,910.1 1586.6,1038.0 1587.1,753.9 1587.6,775.2 1588.1,893.6 1588.6,924.3 1589.0,916.8 1589.5,727.4 1590.0,701.2 1590.5,945.6 1590.9,1017.7 1591.4,988.5 1591.9,695.6 1592.4,761.7 1592.9,1016.4 1593.3,705.0 1593.8,949.3 1594.3,733.4 1594.8,929.3 1595.3,925.0 1595.7,929.0 1596.2,896.4 1596.7,1028.7 1597.2,758.0 1597.6,729.9 1598.1,1007.5 1598.6,883.1 1599.1,775.6 1599.6,981.4 1600.0,969.5 1600.5,692.5 1601.0,900.3 1601.5,798.2 1602.0,949.8 1602.4,1014.7 1602.9,834.0 1603.4,785.1 1603.9,729.8 1604.3,918.1 1604.8,706.1 1605.3,863.4 1605.8,957.8 1606.3,993.0 1606.7,814.7 1607.2,731.5 1607.7,934.9 1608.2,719.6 1608.7,755.4 1609.1,779.5 1609.6,1035.2 1610.1,805.3 1610.6,987.7 1611.0,780.4 1611.5,854.6 1612.0,715.1 1612.5,770.4 1613.0,771.5 1613.4,707.0 1613.9,727.5 1614.4,725.0 1614.9,961.1 1615.4,717.9 1615.8,1031.2 1616.3,935.8 1616.8,915.2 1617.3,800.9 1617.7,815.9 1618.2,746.3 1618.7,748.9 1619.2,905.3 1619.7,901.6 1620.1,960.2 1620.6,724.2 1621.1,720.7 1621.6,824.7 1622.1,694.6 1622.5,777.9 1623.0,720.7 1623.5,928.2 1624.0,1019.0 1624.4,901.2 1624.9,710.5 1625.4,884.0 1625.9,1007.0 1626.4,988.6 1626.8,997.1 1627.3,877.3 1627.8,792.5 1628.3,974.9 1628.8,767.3 1629.2,969.7 1629.7,850.3 1630.2,772.3 1630.7,983.8 1631.1,923.2 1631.6,961.0 1632.1,934.5 1632.6,695.7 1633.1,1033.8 1633.5,1020.1 1634.0,743.3 1634.5,757.9 1635.0,937.9 1635.5,1041.3 1635.9,899.5 1636.4,898.0 1636.9,1046.0 1637.4,958.9 1637.8,854.0 1638.3,964.6 1638.8,728.7 1639.3,742.5 1639.8,731.6 1640.2,755.6 1640.7,945.9 1641.2,993.3 1641.7,851.6 1642.2,1042.0 1642.6,978.7 1643.1,722.2 1643.6,1007.5 1644.1,696.0 1644.6,922.5 1645.0,879.1 1645.5,938.1 1646.0,925.7 1646.5,1010.5 1646.9,823.3 1647.4,819.2 1647.9,978.8 1648.4,1017.4 1648.9,713.0 1649.3,819.1 1649.8,705.3 1650.3,779.6 1650.8,1043.6 1651.3,767.4 1651.7,862.0 1652.2,737.5 1652.7,968.8 1653.2,728.2 1653.6,964.1 1654.1,764.3 1654.6,771.1 1655.1,1016.6 1655.6,1004.9 1656.0,967.4 1656.5,710.0 1657.0,700.7 1657.5,1034.5 1658.0,745.6 1658.4,730.8 1658.9,750.6 1659.4,1022.6 1659.9,911.9 1660.3,916.1 1660.8,714.8 1661.3,1024.0 1661.8,751.7 1662.3,1015.3 1662.7,727.7 1663.2,1029.9 1663.7,702.3 1664.2,742.3 1664.7,722.0 1665.1,889.6 1665.6,753.7 1666.1,727.2 1666.6,764.4 1667.0,1011.2 1667.5,941.8 1668.0,995.9 1668.5,1008.8 1669.0,934.4 1669.4,1015.3 1669.9,768.2 1670.4,802.9 1670.9,742.2 1671.4,881.0 1671.8,847.9 1672.3,896.2 1672.8,781.4 1673.3,1014.4 1673.7,710.9 1674.2,767.4 1674.7,1028.2 1675.2,697.9 1675.7,900.8 1676.1,754.2 1676.6,743.2 1677.1,822.5 1677.6,786.4 1678.1,831.8 1678.5,1027.0 1679.0,1010.3 1679.5,1030.5 1680.0,1012.6 1680.4,1011.1 1680.9,998.1 1681.4,734.9 1681.9,713.8 1682.4,724.2 1682.8,729.3 1683.3,757.3 1683.8,1035.8 1684.3,989.8 1684.8,728.5 1685.2,788.6 1685.7,953.4 1686.2,746.8 1686.7,736.9 1687.1,972.2 1687.6,716.8 1688.1,1022.7 1688.6,737.1 1689.1,751.6 1689.5,694.9 1690.0,998.8 1690.5,703.4 1691.0,745.7 1691.5,1032.6 1691.9,1016.5 1692.4,1019.4 1692.9,1025.7 1693.4,1046.2 1693.8,1026.3 1694.3,1029.6 1694.8,1044.2 1695.3,1023.2 1695.8,958.1 1696.2,1031.5 1696.7,980.9 1697.2,971.8 1697.7,1008.5 1698.2,705.7 1698.6,702.7 1699.1,704.7 1699.6,1009.5 1700.1,748.4 1700.5,1022.8 1701.0,1021.4 1701.5,712.2 1702.0,1018.4 1702.5,710.1 1702.9,991.2 1703.4,716.9 1703.9,1034.4 1704.4,740.1 1704.9,1046.2 1705.3,728.1 1705.8,742.2 1706.3,1044.1 1706.8,696.0 1707.3,1043.3 1707.7,696.8 1708.2,696.8 1708.7,697.2 1709.2,697.7 1709.6,696.3 1710.1,697.6 1710.6,699.3 1711.1,696.9 1711.6,694.8 1712.0,697.3 1712.5,699.2 1713.0,696.7 1713.5,696.6 1714.0,698.7 1714.4,697.5 1714.9,698.0 1715.4,698.0 1715.9,1043.3 1716.3,716.4 1716.8,1040.8 1717.3,1030.9 1717.8,1038.4 1718.3,711.2 1718.7,693.2 1719.2,699.9 1719.7,723.7 1720.2,1037.5 1720.7,693.7 1721.1,697.5 1721.6,698.5 1722.1,700.0 1722.6,695.7 1723.0,1035.3 1723.5,1017.4 1724.0,1026.5 1724.5,710.0 1725.0,1028.3 1725.4,1046.2 1725.9,695.4 1726.4,1042.3 1726.9,694.1 1727.4,1043.3 1727.8,694.3 1728.3,694.0 1728.8,693.6 1729.3,695.7 1729.7,702.7 1730.2,707.2 1730.7,714.5 1731.2,718.9 1731.7,724.5 1732.1,729.0 1732.6,733.6 1733.1,738.5 1733.6,744.1 1734.1,750.2 1734.5,756.2 1735.0,762.3 1735.5,769.8 1736.0,777.5 1736.4,785.1 1736.9,795.8 1737.4,806.1 1737.9,814.3 1738.4,827.3 1738.8,837.9 1739.3,849.6 1739.8,860.5 1740.3,868.5 1740.8,883.5 1741.2,896.9 1741.7,908.7 1742.2,920.0 1742.7,929.2 1743.1,943.2 1743.6,952.4 1744.1,961.9 1744.6,972.5 1745.1,981.4 1745.5,989.7 1746.0,996.7 1746.5,1001.3 1747.0,1013.8 1747.5,1021.7 1747.9,1028.2 1748.4,1033.5 1748.9,1038.3 1749.4,695.0 1749.8,1044.2 1750.3,705.0 1750.8,1040.1 1751.3,1035.5 1751.8,695.8 1752.2,712.0 1752.7,715.2 1753.2,710.7 1753.7,715.1 1754.2,1035.8 1754.6,1024.8 1755.1,997.0 1755.6,693.4 1756.1,1008.2 1756.5,1041.5 1757.0,1025.2 1757.5,1041.8 1758.0,715.7 1758.5,711.0 1758.9,1040.8 1759.4,981.5 1759.9,979.1 1760.4,742.2 1760.9,692.7 1761.3,736.9 1761.8,1023.6 1762.3,698.5 1762.8,756.3 1763.2,696.2 1763.7,699.3 1764.2,998.8 1764.7,749.1 1765.2,1046.0 1765.6,716.5 1766.1,1013.1 1766.6,993.9 1767.1,1031.3 1767.6,1015.6 1768.0,972.0 1768.5,1036.5 1769.0,1013.1 1769.5,738.6 1769.9,764.2 1770.4,958.7 1770.9,821.3 1771.4,1043.8 1771.9,795.7 1772.3,784.5 1772.8,1025.4 1773.3,707.6 1773.8,967.1 1774.3,775.5 1774.7,997.6 1775.2,974.7 1775.7,735.6 1776.2,1011.8 1776.7,720.6 1777.1,919.3 1777.6,736.7 1778.1,833.8 1778.6,821.6 1779.0,783.3 1779.5,1045.2 1780.0,971.2 1780.5,978.8 1781.0,761.8 1781.4,789.3 1781.9,835.9 1782.4,1005.9 1782.9,702.4 1783.4,768.4 1783.8,988.5 1784.3,933.9 1784.8,953.6 1785.3,758.8 1785.7,889.0 1786.2,830.3 1786.7,701.8 1787.2,713.7 1787.7,931.9 1788.1,840.2 1788.6,943.4 1789.1,855.8 1789.6,701.7 1790.1,1020.0 1790.5,980.6 1791.0,734.5 1791.5,1033.8 1792.0,1041.8 1792.4,790.8 1792.9,753.8 1793.4,1033.3 1793.9,976.8 1794.4,862.7 1794.8,723.5 1795.3,972.2 1795.8,999.5 1796.3,910.3 1796.8,895.8 1797.2,845.4 1797.7,862.1 1798.2,826.3 1798.7,739.7 1799.1,1022.0 1799.6,1030.2 1800.1,933.3 1800.6,1041.2 1801.1,905.4 1801.5,783.1 1802.0,793.0 1802.5,725.9 1803.0,973.8 1803.5,951.4 1803.9,777.1 1804.4,919.0 1804.9,833.0 1805.4,744.1 1805.8,990.4 1806.3,700.9 1806.8,851.3 1807.3,748.3 1807.8,984.1 1808.2,841.3 1808.7,768.5 1809.2,716.2 1809.7,709.8 1810.2,894.1 1810.6,772.3 1811.1,998.9 1811.6,727.3 1812.1,938.4 1812.5,821.3 1813.0,908.9 1813.5,1023.7 1814.0,795.3 1814.5,803.9 1814.9,1026.5 1815.4,963.0 1815.9,1025.9 1816.4,815.0 1816.9,857.2 1817.3,965.9 1817.8,698.8 1818.3,810.8 1818.8,770.8 1819.2,999.3 1819.7,770.5 1820.2,733.0 1820.7,950.2 1821.2,985.8 1821.6,739.6 1822.1,1004.5 1822.6,1032.7 1823.1,980.7 1823.6,818.5 1824.0,824.8 1824.5,1023.7 1825.0,815.6 1825.5,759.8 1825.9,716.1 1826.4,709.2 1826.9,849.1 1827.4,1043.3 1827.9,1022.6 1828.3,1033.0 1828.8,869.7 1829.3,921.8 1829.8,876.4 1830.3,755.5 1830.7,911.8 1831.2,1002.5 1831.7,827.0 1832.2,833.3 1832.6,695.0 1833.1,804.9 1833.6,822.5 1834.1,754.6 1834.6,920.5 1835.0,735.9 1835.5,707.4 1836.0,994.8 1836.5,961.3 1837.0,1016.9 1837.4,1038.6 1837.9,900.9 1838.4,744.1 1838.9,932.5 1839.4,907.0 1839.8,942.1 1840.3,700.1 1840.8,859.5 1841.3,774.7 1841.7,799.5 1842.2,743.1 1842.7,957.0 1843.2,957.0 1843.7,905.2 1844.1,1018.2 1844.6,757.8 1845.1,729.1 1845.6,941.4 1846.1,810.9 1846.5,906.8 1847.0,701.7 1847.5,950.1 1848.0,888.8 1848.4,979.9 1848.9,937.9 1849.4,1037.2 1849.9,890.8 1850.4,725.1 1850.8,1034.8 1851.3,983.6 1851.8,825.9 1852.3,834.3 1852.8,898.8 1853.2,979.1 1853.7,1011.0 1854.2,905.0 1854.7,1017.8 1855.1,845.6 1855.6,1041.6 1856.1,918.7 1856.6,1043.0 1857.1,757.7 1857.5,1028.2 1858.0,797.3 1858.5,907.8 1859.0,795.4 1859.5,870.1 1859.9,871.8 1860.4,1009.7 1860.9,984.9 1861.4,905.3 1861.8,904.5 1862.3,1018.7 1862.8,796.6 1863.3,706.3 1863.8,928.2 1864.2,789.3 1864.7,853.4 1865.2,752.3 1865.7,837.7 1866.2,951.9 1866.6,978.7 1867.1,731.9 1867.6,984.0 1868.1,1039.0 1868.5,976.6 1869.0,931.0 1869.5,783.8 1870.0,840.0 1870.5,766.3 1870.9,979.7 1871.4,939.6 1871.9,979.3 1872.4,751.8 1872.9,697.7 1873.3,819.5 1873.8,805.2 1874.3,1031.2 1874.8,986.1 1875.2,792.4 1875.7,989.1 1876.2,994.4 1876.7,752.7 1877.2,1038.9 1877.6,911.4 1878.1,879.6 1878.6,785.2 1879.1,1003.9 1879.6,811.7 1880.0,732.3 1880.5,853.0 1881.0,1007.7 1881.5,839.1 1881.9,953.6 1882.4,936.4 1882.9,939.2 1883.4,993.6 1883.9,851.4 1884.3,809.3 1884.8,926.1 1885.3,697.1 1885.8,1031.6 1886.3,809.1 1886.7,995.9 1887.2,938.7 1887.7,748.1 1888.2,835.8 1888.6,1028.8 1889.1,1045.7 1889.6,872.2 1890.1,951.0 1890.6,1046.2 1891.0,1000.9 1891.5,776.6 1892.0,914.0 1892.5,753.9 1893.0,783.9 1893.4,765.0 1893.9,1002.7 1894.4,742.2 1894.9,703.0 1895.3,990.9 1895.8,699.3 1896.3,867.2 1896.8,830.0 1897.3,1021.6 1897.7,813.4 1898.2,999.0 1898.7,987.4 1899.2,964.4 1899.7,972.9 1900.1,974.5 1900.6,1046.2 1901.1,873.4 1901.6,866.4 1902.1,731.1 1902.5,735.5 1903.0,750.5 1903.5,807.7 1904.0,712.0 1904.4,845.6 1904.9,876.9 1905.4,938.3 1905.9,857.3 1906.4,819.3 1906.8,777.6 1907.3,831.6 1907.8,858.6 1908.3,877.3 1908.8,752.6 1909.2,953.0 1909.7,898.5 1910.2,811.6 1910.7,968.8 1911.1,1033.0 1911.6,909.0 1912.1,932.4 1912.6,875.9 1913.1,819.1 1913.5,989.7 1914.0,943.0 1914.5,983.3 1915.0,752.8 1915.5,912.4 1915.9,692.3 1916.4,948.2 1916.9,694.2 1917.4,1034.6 1917.8,809.6 1918.3,799.1 1918.8,937.7 1919.3,947.8 1919.8,1041.7 1920.2,895.5 1920.7,977.6 1921.2,1042.3 1921.7,719.0 1922.2,754.8 1922.6,826.7 1923.1,808.9 1923.6,981.9 1924.1,960.6 1924.5,827.7 1925.0,913.4 1925.5,700.5 1926.0,991.2 1926.5,961.7 1926.9,809.7 1927.4,902.3 1927.9,782.9 1928.4,747.8 1928.9,935.9 1929.3,1025.8 1929.8,1010.3 1930.3,774.3 1930.8,943.9 1931.2,823.2 1931.7,941.4 1932.2,740.3 1932.7,719.9 1933.2,713.9 1933.6,825.4 1934.1,802.4 1934.6,907.1 1935.1,709.3 1935.6,992.4 1936.0,732.0 1936.5,866.6 1937.0,778.2 1937.5,765.4 1937.9,703.6 1938.4,923.2 1938.9,1006.1 1939.4,989.6 1939.9,696.1 1940.3,1029.6 1940.8,762.1 1941.3,1002.7 1941.8,798.8 1942.3,789.8 1942.7,913.8 1943.2,849.8 1943.7,1012.4 1944.2,878.9 1944.6,790.9 1945.1,1014.8 1945.6,701.8 1946.1,930.7 1946.6,801.2 1947.0,937.7 1947.5,772.9 1948.0,827.5 1948.5,699.2 1949.0,745.0 1949.4,866.1 1949.9,1033.5 1950.4,859.1 1950.9,926.1 1951.3,745.2 1951.8,708.9 1952.3,907.5 1952.8,1038.0 1953.3,741.4 1953.7,788.0 1954.2,875.4 1954.7,749.4 1955.2,696.4 1955.7,908.9 1956.1,1006.5 1956.6,904.1 1957.1,946.2 1957.6,692.1 1958.0,725.4 1958.5,956.1 1959.0,841.9 1959.5,955.2 1960.0,984.5 1960.4,958.8 1960.9,848.4 1961.4,765.9" fill="none" stroke="#ff0066" stroke-width="4.17" stroke-linejoin="round" stroke-linecap="round"/>
<g font-size="45.83" fill="#262626">
<text x="1196.80" y="1124.00" text-anchor="middle">109</text>
<text x="1388.25" y="1124.00" text-anchor="middle">109.1</text>
<text x="1579.70" y="1124.00" text-anchor="middle">109.2</text>
<text x="1771.15" y="1124.00" text-anchor="middle">109.3</text>
<text x="1962.60" y="1124.00" text-anchor="middle">109.4</text>
<text x="1181.60" y="1082.90" text-anchor="end">-100</text>
<text x="1181.60" y="983.98" text-anchor="end">-50</text>
<text x="1181.60" y="885.05" text-anchor="end">0</text>
<text x="1181.60" y="786.12" text-anchor="end">50</text>
<text x="1181.60" y="687.20" text-anchor="end">100</text>
</g>
<text x="1578.50" y="1181.00" font-size="50.4" fill="#262626" text-anchor="middle">Frequency (kHz)</text>
<text transform="translate(1080.50,869.65) rotate(-90)" font-size="50.4" fill="#404040" text-anchor="middle">Phase (Deg)</text>
<text x="1020.0" y="630.2" font-size="58.3" fill="#000">(d)</text>
</svg>
</body></html>
